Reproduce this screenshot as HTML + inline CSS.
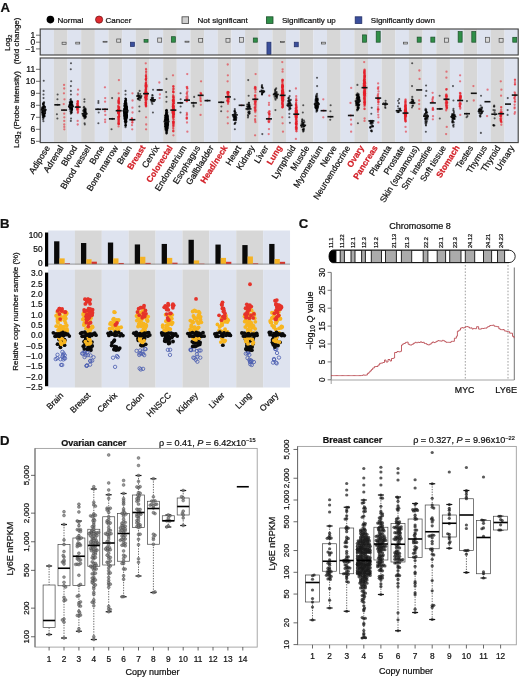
<!DOCTYPE html>
<html><head><meta charset="utf-8"><title>Figure</title>
<style>html,body{margin:0;padding:0;background:#fff;} svg{display:block;} text{font-family:'Liberation Sans', Arial, Helvetica, sans-serif;stroke:#111;stroke-width:0.22px;} text.r{stroke:#d32028;}</style>
</head><body>
<svg width="520" height="678" viewBox="0 0 520 678" fill="#111">
<rect x="40.2" y="29" width="13.71" height="26" fill="#dee3ef"/>
<rect x="53.86" y="29" width="13.71" height="26" fill="#d7d7d7"/>
<rect x="67.51" y="29" width="13.71" height="26" fill="#dee3ef"/>
<rect x="81.17" y="29" width="13.71" height="26" fill="#d7d7d7"/>
<rect x="94.83" y="29" width="13.71" height="26" fill="#dee3ef"/>
<rect x="108.49" y="29" width="13.71" height="26" fill="#d7d7d7"/>
<rect x="122.14" y="29" width="13.71" height="26" fill="#dee3ef"/>
<rect x="135.8" y="29" width="13.71" height="26" fill="#d7d7d7"/>
<rect x="149.46" y="29" width="13.71" height="26" fill="#dee3ef"/>
<rect x="163.11" y="29" width="13.71" height="26" fill="#d7d7d7"/>
<rect x="176.77" y="29" width="13.71" height="26" fill="#dee3ef"/>
<rect x="190.43" y="29" width="13.71" height="26" fill="#d7d7d7"/>
<rect x="204.09" y="29" width="13.71" height="26" fill="#dee3ef"/>
<rect x="217.74" y="29" width="13.71" height="26" fill="#d7d7d7"/>
<rect x="231.4" y="29" width="13.71" height="26" fill="#dee3ef"/>
<rect x="245.06" y="29" width="13.71" height="26" fill="#d7d7d7"/>
<rect x="258.71" y="29" width="13.71" height="26" fill="#dee3ef"/>
<rect x="272.37" y="29" width="13.71" height="26" fill="#d7d7d7"/>
<rect x="286.03" y="29" width="13.71" height="26" fill="#dee3ef"/>
<rect x="299.69" y="29" width="13.71" height="26" fill="#d7d7d7"/>
<rect x="313.34" y="29" width="13.71" height="26" fill="#dee3ef"/>
<rect x="327" y="29" width="13.71" height="26" fill="#d7d7d7"/>
<rect x="340.66" y="29" width="13.71" height="26" fill="#dee3ef"/>
<rect x="354.31" y="29" width="13.71" height="26" fill="#d7d7d7"/>
<rect x="367.97" y="29" width="13.71" height="26" fill="#dee3ef"/>
<rect x="381.63" y="29" width="13.71" height="26" fill="#d7d7d7"/>
<rect x="395.29" y="29" width="13.71" height="26" fill="#dee3ef"/>
<rect x="408.94" y="29" width="13.71" height="26" fill="#d7d7d7"/>
<rect x="422.6" y="29" width="13.71" height="26" fill="#dee3ef"/>
<rect x="436.26" y="29" width="13.71" height="26" fill="#d7d7d7"/>
<rect x="449.91" y="29" width="13.71" height="26" fill="#dee3ef"/>
<rect x="463.57" y="29" width="13.71" height="26" fill="#d7d7d7"/>
<rect x="477.23" y="29" width="13.71" height="26" fill="#dee3ef"/>
<rect x="490.89" y="29" width="13.71" height="26" fill="#d7d7d7"/>
<rect x="504.54" y="29" width="13.71" height="26" fill="#dee3ef"/>
<rect x="40.2" y="58" width="13.71" height="84.6" fill="#dee3ef"/>
<rect x="53.86" y="58" width="13.71" height="84.6" fill="#d7d7d7"/>
<rect x="67.51" y="58" width="13.71" height="84.6" fill="#dee3ef"/>
<rect x="81.17" y="58" width="13.71" height="84.6" fill="#d7d7d7"/>
<rect x="94.83" y="58" width="13.71" height="84.6" fill="#dee3ef"/>
<rect x="108.49" y="58" width="13.71" height="84.6" fill="#d7d7d7"/>
<rect x="122.14" y="58" width="13.71" height="84.6" fill="#dee3ef"/>
<rect x="135.8" y="58" width="13.71" height="84.6" fill="#d7d7d7"/>
<rect x="149.46" y="58" width="13.71" height="84.6" fill="#dee3ef"/>
<rect x="163.11" y="58" width="13.71" height="84.6" fill="#d7d7d7"/>
<rect x="176.77" y="58" width="13.71" height="84.6" fill="#dee3ef"/>
<rect x="190.43" y="58" width="13.71" height="84.6" fill="#d7d7d7"/>
<rect x="204.09" y="58" width="13.71" height="84.6" fill="#dee3ef"/>
<rect x="217.74" y="58" width="13.71" height="84.6" fill="#d7d7d7"/>
<rect x="231.4" y="58" width="13.71" height="84.6" fill="#dee3ef"/>
<rect x="245.06" y="58" width="13.71" height="84.6" fill="#d7d7d7"/>
<rect x="258.71" y="58" width="13.71" height="84.6" fill="#dee3ef"/>
<rect x="272.37" y="58" width="13.71" height="84.6" fill="#d7d7d7"/>
<rect x="286.03" y="58" width="13.71" height="84.6" fill="#dee3ef"/>
<rect x="299.69" y="58" width="13.71" height="84.6" fill="#d7d7d7"/>
<rect x="313.34" y="58" width="13.71" height="84.6" fill="#dee3ef"/>
<rect x="327" y="58" width="13.71" height="84.6" fill="#d7d7d7"/>
<rect x="340.66" y="58" width="13.71" height="84.6" fill="#dee3ef"/>
<rect x="354.31" y="58" width="13.71" height="84.6" fill="#d7d7d7"/>
<rect x="367.97" y="58" width="13.71" height="84.6" fill="#dee3ef"/>
<rect x="381.63" y="58" width="13.71" height="84.6" fill="#d7d7d7"/>
<rect x="395.29" y="58" width="13.71" height="84.6" fill="#dee3ef"/>
<rect x="408.94" y="58" width="13.71" height="84.6" fill="#d7d7d7"/>
<rect x="422.6" y="58" width="13.71" height="84.6" fill="#dee3ef"/>
<rect x="436.26" y="58" width="13.71" height="84.6" fill="#d7d7d7"/>
<rect x="449.91" y="58" width="13.71" height="84.6" fill="#dee3ef"/>
<rect x="463.57" y="58" width="13.71" height="84.6" fill="#d7d7d7"/>
<rect x="477.23" y="58" width="13.71" height="84.6" fill="#dee3ef"/>
<rect x="490.89" y="58" width="13.71" height="84.6" fill="#d7d7d7"/>
<rect x="504.54" y="58" width="13.71" height="84.6" fill="#dee3ef"/>
<rect x="62.09" y="42.2" width="4" height="2.1" fill="#d9d9d9" stroke="#4a4a4a" stroke-width="0.7"/>
<rect x="75.74" y="42.2" width="4" height="1.8" fill="#d9d9d9" stroke="#4a4a4a" stroke-width="0.7"/>
<rect x="103.06" y="41.3" width="4" height="0.9" fill="#d9d9d9" stroke="#4a4a4a" stroke-width="0.7"/>
<rect x="116.71" y="39" width="4" height="3.2" fill="#d9d9d9" stroke="#4a4a4a" stroke-width="0.7"/>
<rect x="130.37" y="42.2" width="4" height="4.3" fill="#3a4f9c" stroke="#232f66" stroke-width="0.7"/>
<rect x="144.03" y="39.5" width="4" height="2.7" fill="#2f8f48" stroke="#1b4f2a" stroke-width="0.7"/>
<rect x="157.69" y="38" width="4" height="4.2" fill="#d9d9d9" stroke="#4a4a4a" stroke-width="0.7"/>
<rect x="171.34" y="36.7" width="4" height="5.5" fill="#2f8f48" stroke="#1b4f2a" stroke-width="0.7"/>
<rect x="185" y="41.2" width="4" height="1" fill="#d9d9d9" stroke="#4a4a4a" stroke-width="0.7"/>
<rect x="198.66" y="38.6" width="4" height="3.6" fill="#d9d9d9" stroke="#4a4a4a" stroke-width="0.7"/>
<rect x="225.97" y="38.6" width="4" height="3.6" fill="#d9d9d9" stroke="#4a4a4a" stroke-width="0.7"/>
<rect x="239.63" y="37.6" width="4" height="4.6" fill="#d9d9d9" stroke="#4a4a4a" stroke-width="0.7"/>
<rect x="253.29" y="38" width="4" height="4.2" fill="#2f8f48" stroke="#1b4f2a" stroke-width="0.7"/>
<rect x="266.94" y="42.2" width="4" height="12.3" fill="#3a4f9c" stroke="#232f66" stroke-width="0.7"/>
<rect x="280.6" y="41.6" width="4" height="0.8" fill="#d9d9d9" stroke="#4a4a4a" stroke-width="0.7"/>
<rect x="294.26" y="42.2" width="4" height="4.6" fill="#3a4f9c" stroke="#232f66" stroke-width="0.7"/>
<rect x="321.57" y="42.2" width="4" height="1.8" fill="#d9d9d9" stroke="#4a4a4a" stroke-width="0.7"/>
<rect x="362.54" y="34.9" width="4" height="7.3" fill="#2f8f48" stroke="#1b4f2a" stroke-width="0.7"/>
<rect x="376.2" y="31.2" width="4" height="11" fill="#2f8f48" stroke="#1b4f2a" stroke-width="0.7"/>
<rect x="403.51" y="42.2" width="4" height="1.8" fill="#d9d9d9" stroke="#4a4a4a" stroke-width="0.7"/>
<rect x="417.17" y="37.1" width="4" height="5.1" fill="#2f8f48" stroke="#1b4f2a" stroke-width="0.7"/>
<rect x="430.83" y="37.1" width="4" height="5.1" fill="#2f8f48" stroke="#1b4f2a" stroke-width="0.7"/>
<rect x="444.49" y="38.1" width="4" height="4.1" fill="#d9d9d9" stroke="#4a4a4a" stroke-width="0.7"/>
<rect x="458.14" y="31.6" width="4" height="10.6" fill="#2f8f48" stroke="#1b4f2a" stroke-width="0.7"/>
<rect x="471.8" y="31.6" width="4" height="10.6" fill="#2f8f48" stroke="#1b4f2a" stroke-width="0.7"/>
<rect x="485.46" y="37.3" width="4" height="4.9" fill="#d9d9d9" stroke="#4a4a4a" stroke-width="0.7"/>
<rect x="499.11" y="38.5" width="4" height="3.7" fill="#d9d9d9" stroke="#4a4a4a" stroke-width="0.7"/>
<rect x="512.77" y="37.3" width="4" height="4.9" fill="#2f8f48" stroke="#1b4f2a" stroke-width="0.7"/>
<g fill="#000" fill-opacity="0.62">
<circle cx="43.74" cy="80.82" r="1.05"/>
<circle cx="43.51" cy="94.5" r="1.05"/>
<circle cx="43.61" cy="90.9" r="1.05"/>
<circle cx="43.44" cy="121.26" r="1.05"/>
<circle cx="43.53" cy="98.1" r="1.05"/>
<circle cx="45.23" cy="110.69" r="1.05"/>
<circle cx="44.65" cy="109.68" r="1.05"/>
<circle cx="43.21" cy="105.01" r="1.05"/>
<circle cx="44.94" cy="110.56" r="1.05"/>
<circle cx="42.65" cy="110.16" r="1.05"/>
<circle cx="43.28" cy="109.43" r="1.05"/>
<circle cx="44.66" cy="113.95" r="1.05"/>
<circle cx="44.11" cy="110.12" r="1.05"/>
<circle cx="42.32" cy="109.02" r="1.05"/>
<circle cx="45.03" cy="107.17" r="1.05"/>
<circle cx="42.93" cy="115.59" r="1.05"/>
<circle cx="42.84" cy="112.32" r="1.05"/>
<circle cx="44.29" cy="115.67" r="1.05"/>
<circle cx="43.15" cy="106.95" r="1.05"/>
<circle cx="42.99" cy="108.36" r="1.05"/>
<circle cx="42.79" cy="116.96" r="1.05"/>
<circle cx="42.98" cy="103.31" r="1.05"/>
<circle cx="43.78" cy="103.96" r="1.05"/>
<circle cx="42.8" cy="108.78" r="1.05"/>
<circle cx="43.96" cy="109.16" r="1.05"/>
<circle cx="43.27" cy="114.39" r="1.05"/>
<circle cx="43.55" cy="118.06" r="1.05"/>
<circle cx="45.18" cy="109.97" r="1.05"/>
<circle cx="43.59" cy="116.43" r="1.05"/>
<circle cx="43.85" cy="113.86" r="1.05"/>
<circle cx="44.77" cy="113.11" r="1.05"/>
<circle cx="43.05" cy="117.38" r="1.05"/>
<circle cx="42.45" cy="110.58" r="1.05"/>
<circle cx="45.02" cy="110.81" r="1.05"/>
<circle cx="44.47" cy="106.48" r="1.05"/>
<circle cx="42.78" cy="110.05" r="1.05"/>
<circle cx="42.62" cy="108.92" r="1.05"/>
<circle cx="44.44" cy="110.23" r="1.05"/>
<circle cx="45.05" cy="108.69" r="1.05"/>
<circle cx="42.6" cy="110.65" r="1.05"/>
<circle cx="45.07" cy="112.64" r="1.05"/>
<circle cx="44.11" cy="102.28" r="1.05"/>
<circle cx="43.77" cy="102.49" r="1.05"/>
<circle cx="43.42" cy="106.51" r="1.05"/>
<circle cx="42.39" cy="108.2" r="1.05"/>
<circle cx="42.12" cy="112.18" r="1.05"/>
<circle cx="45.05" cy="113.28" r="1.05"/>
<circle cx="42.78" cy="112.5" r="1.05"/>
<circle cx="44.09" cy="116.15" r="1.05"/>
<circle cx="42.91" cy="107.52" r="1.05"/>
<circle cx="44.72" cy="111.23" r="1.05"/>
<circle cx="43.88" cy="106.41" r="1.05"/>
<circle cx="42.93" cy="111.38" r="1.05"/>
<circle cx="43.03" cy="104.16" r="1.05"/>
<circle cx="44.2" cy="106.4" r="1.05"/>
<circle cx="43.13" cy="119.39" r="1.05"/>
<circle cx="42.81" cy="113.57" r="1.05"/>
<circle cx="43.76" cy="105.3" r="1.05"/>
<circle cx="44.83" cy="110.52" r="1.05"/>
<circle cx="43.81" cy="103.39" r="1.05"/>
<circle cx="42.89" cy="111.26" r="1.05"/>
<circle cx="44.58" cy="116.08" r="1.05"/>
<circle cx="42.66" cy="109.02" r="1.05"/>
<circle cx="42.22" cy="107.36" r="1.05"/>
<circle cx="42.89" cy="112.75" r="1.05"/>
<circle cx="43.5" cy="115.75" r="1.05"/>
<circle cx="42.18" cy="111.98" r="1.05"/>
<circle cx="43.05" cy="103.98" r="1.05"/>
<circle cx="43.24" cy="107.62" r="1.05"/>
<circle cx="43.82" cy="115.1" r="1.05"/>
<circle cx="42.48" cy="113.05" r="1.05"/>
<circle cx="43.29" cy="115.44" r="1.05"/>
<circle cx="44.47" cy="116.42" r="1.05"/>
<circle cx="44.99" cy="107.12" r="1.05"/>
<circle cx="44.08" cy="114.06" r="1.05"/>
<circle cx="44.27" cy="109.69" r="1.05"/>
<circle cx="43.92" cy="110.74" r="1.05"/>
<circle cx="42.57" cy="113.85" r="1.05"/>
<circle cx="42.21" cy="107.93" r="1.05"/>
<circle cx="42.34" cy="114.85" r="1.05"/>
<circle cx="57.61" cy="94.5" r="1.05"/>
<circle cx="57.45" cy="99.3" r="1.05"/>
<circle cx="57.66" cy="104.82" r="1.05"/>
<circle cx="56.9" cy="114.3" r="1.05"/>
<circle cx="57.39" cy="118.5" r="1.05"/>
<circle cx="71" cy="63.3" r="1.05"/>
<circle cx="70.79" cy="69.3" r="1.05"/>
<circle cx="71.18" cy="81.3" r="1.05"/>
<circle cx="70.84" cy="86.1" r="1.05"/>
<circle cx="70.86" cy="90.9" r="1.05"/>
<circle cx="70.93" cy="94.5" r="1.05"/>
<circle cx="70.83" cy="120.9" r="1.05"/>
<circle cx="71.05" cy="118.5" r="1.05"/>
<circle cx="70.11" cy="107.85" r="1.05"/>
<circle cx="69.75" cy="104.77" r="1.05"/>
<circle cx="69.83" cy="101.84" r="1.05"/>
<circle cx="71.29" cy="102.36" r="1.05"/>
<circle cx="70.77" cy="107.23" r="1.05"/>
<circle cx="71.34" cy="103.54" r="1.05"/>
<circle cx="71.36" cy="102.49" r="1.05"/>
<circle cx="71.99" cy="105.86" r="1.05"/>
<circle cx="72.49" cy="105.37" r="1.05"/>
<circle cx="71.54" cy="107.55" r="1.05"/>
<circle cx="69.92" cy="105.77" r="1.05"/>
<circle cx="70.86" cy="105.53" r="1.05"/>
<circle cx="70.34" cy="111.54" r="1.05"/>
<circle cx="69.29" cy="105.23" r="1.05"/>
<circle cx="70.91" cy="99.07" r="1.05"/>
<circle cx="71.5" cy="102.22" r="1.05"/>
<circle cx="69.9" cy="104.29" r="1.05"/>
<circle cx="70.21" cy="107.5" r="1.05"/>
<circle cx="70.45" cy="104.21" r="1.05"/>
<circle cx="71.61" cy="105.79" r="1.05"/>
<circle cx="71.01" cy="107.02" r="1.05"/>
<circle cx="71.27" cy="102.88" r="1.05"/>
<circle cx="71.43" cy="111.46" r="1.05"/>
<circle cx="70.6" cy="104.04" r="1.05"/>
<circle cx="71.35" cy="112.85" r="1.05"/>
<circle cx="72.32" cy="105.6" r="1.05"/>
<circle cx="69.56" cy="106.66" r="1.05"/>
<circle cx="72.14" cy="109.2" r="1.05"/>
<circle cx="71.68" cy="104.62" r="1.05"/>
<circle cx="69.69" cy="106.52" r="1.05"/>
<circle cx="70.79" cy="105.48" r="1.05"/>
<circle cx="71.23" cy="101.45" r="1.05"/>
<circle cx="72.12" cy="108.89" r="1.05"/>
<circle cx="70.8" cy="113.64" r="1.05"/>
<circle cx="71.15" cy="108.38" r="1.05"/>
<circle cx="72.21" cy="104.84" r="1.05"/>
<circle cx="71.72" cy="109.55" r="1.05"/>
<circle cx="72.04" cy="110.01" r="1.05"/>
<circle cx="70.86" cy="101.75" r="1.05"/>
<circle cx="71.45" cy="105.03" r="1.05"/>
<circle cx="69.96" cy="107" r="1.05"/>
<circle cx="71.5" cy="102.01" r="1.05"/>
<circle cx="71.93" cy="108.11" r="1.05"/>
<circle cx="71.42" cy="104.97" r="1.05"/>
<circle cx="71.51" cy="109.61" r="1.05"/>
<circle cx="70" cy="107.1" r="1.05"/>
<circle cx="72.14" cy="103.33" r="1.05"/>
<circle cx="72.07" cy="101.58" r="1.05"/>
<circle cx="72.18" cy="102.21" r="1.05"/>
<circle cx="71.06" cy="107.53" r="1.05"/>
<circle cx="71.93" cy="105.77" r="1.05"/>
<circle cx="70.39" cy="108.22" r="1.05"/>
<circle cx="71.87" cy="110.52" r="1.05"/>
<circle cx="72.14" cy="106.53" r="1.05"/>
<circle cx="70.51" cy="102.89" r="1.05"/>
<circle cx="69.78" cy="102.72" r="1.05"/>
<circle cx="70.75" cy="104.48" r="1.05"/>
<circle cx="71.04" cy="100.76" r="1.05"/>
<circle cx="71.73" cy="108.65" r="1.05"/>
<circle cx="70.91" cy="110.01" r="1.05"/>
<circle cx="69.37" cy="106.93" r="1.05"/>
<circle cx="71.85" cy="108.67" r="1.05"/>
<circle cx="69.77" cy="109.4" r="1.05"/>
<circle cx="71.93" cy="107.26" r="1.05"/>
<circle cx="69.84" cy="105.37" r="1.05"/>
<circle cx="70.39" cy="106.55" r="1.05"/>
<circle cx="71.82" cy="108.23" r="1.05"/>
<circle cx="69.92" cy="102.86" r="1.05"/>
<circle cx="70.4" cy="99.69" r="1.05"/>
<circle cx="71" cy="106.91" r="1.05"/>
<circle cx="71.35" cy="111.65" r="1.05"/>
<circle cx="71.43" cy="112.79" r="1.05"/>
<circle cx="71.44" cy="102.34" r="1.05"/>
<circle cx="71.63" cy="112.48" r="1.05"/>
<circle cx="70.92" cy="104.51" r="1.05"/>
<circle cx="84.45" cy="99.3" r="1.05"/>
<circle cx="84.4" cy="101.7" r="1.05"/>
<circle cx="84.81" cy="124.5" r="1.05"/>
<circle cx="84.58" cy="123.3" r="1.05"/>
<circle cx="85.35" cy="110.19" r="1.05"/>
<circle cx="84.04" cy="115.41" r="1.05"/>
<circle cx="84.5" cy="111.46" r="1.05"/>
<circle cx="84.65" cy="110.74" r="1.05"/>
<circle cx="84.42" cy="109.54" r="1.05"/>
<circle cx="84.94" cy="114.7" r="1.05"/>
<circle cx="82.98" cy="114.71" r="1.05"/>
<circle cx="85.1" cy="109.21" r="1.05"/>
<circle cx="85.7" cy="115.54" r="1.05"/>
<circle cx="84.09" cy="106.9" r="1.05"/>
<circle cx="84.48" cy="109.77" r="1.05"/>
<circle cx="85.3" cy="116.44" r="1.05"/>
<circle cx="84.29" cy="115.35" r="1.05"/>
<circle cx="83.63" cy="111.6" r="1.05"/>
<circle cx="83.51" cy="115.17" r="1.05"/>
<circle cx="84.63" cy="116.93" r="1.05"/>
<circle cx="83.18" cy="110.49" r="1.05"/>
<circle cx="85.94" cy="113.92" r="1.05"/>
<circle cx="85.52" cy="110.97" r="1.05"/>
<circle cx="85.2" cy="116.54" r="1.05"/>
<circle cx="85.82" cy="114.05" r="1.05"/>
<circle cx="85.02" cy="111.97" r="1.05"/>
<circle cx="84.4" cy="118.51" r="1.05"/>
<circle cx="84.91" cy="115.71" r="1.05"/>
<circle cx="84.61" cy="111.99" r="1.05"/>
<circle cx="85.84" cy="109.4" r="1.05"/>
<circle cx="85.25" cy="108.23" r="1.05"/>
<circle cx="83.91" cy="116.68" r="1.05"/>
<circle cx="86" cy="113.35" r="1.05"/>
<circle cx="85.37" cy="111.29" r="1.05"/>
<circle cx="85.55" cy="113.37" r="1.05"/>
<circle cx="85.63" cy="111.97" r="1.05"/>
<circle cx="84.31" cy="115.83" r="1.05"/>
<circle cx="85.63" cy="117.34" r="1.05"/>
<circle cx="85.67" cy="116.8" r="1.05"/>
<circle cx="85.05" cy="117.98" r="1.05"/>
<circle cx="85.5" cy="113.03" r="1.05"/>
<circle cx="85.5" cy="113.29" r="1.05"/>
<circle cx="84.28" cy="112.9" r="1.05"/>
<circle cx="85.27" cy="116.29" r="1.05"/>
<circle cx="83.26" cy="115.88" r="1.05"/>
<circle cx="84.1" cy="115.68" r="1.05"/>
<circle cx="84.51" cy="110.4" r="1.05"/>
<circle cx="83.71" cy="107.46" r="1.05"/>
<circle cx="84.24" cy="109.14" r="1.05"/>
<circle cx="98.4" cy="101.1" r="1.05"/>
<circle cx="98.39" cy="102.9" r="1.05"/>
<circle cx="97.99" cy="109.26" r="1.05"/>
<circle cx="98.67" cy="112.5" r="1.05"/>
<circle cx="98.39" cy="123.3" r="1.05"/>
<circle cx="112.12" cy="98.1" r="1.05"/>
<circle cx="112.3" cy="118.86" r="1.05"/>
<circle cx="111.53" cy="129.3" r="1.05"/>
<circle cx="125.52" cy="90.9" r="1.05"/>
<circle cx="125.54" cy="94.5" r="1.05"/>
<circle cx="125.6" cy="106.11" r="1.05"/>
<circle cx="126.47" cy="115.24" r="1.05"/>
<circle cx="126.6" cy="114.97" r="1.05"/>
<circle cx="125.94" cy="113.37" r="1.05"/>
<circle cx="125" cy="102.2" r="1.05"/>
<circle cx="126.12" cy="103.63" r="1.05"/>
<circle cx="126.74" cy="116.49" r="1.05"/>
<circle cx="125.73" cy="114.09" r="1.05"/>
<circle cx="125.09" cy="114.01" r="1.05"/>
<circle cx="125.57" cy="114.06" r="1.05"/>
<circle cx="124.37" cy="113.45" r="1.05"/>
<circle cx="126.28" cy="113.59" r="1.05"/>
<circle cx="126.83" cy="117.81" r="1.05"/>
<circle cx="125.63" cy="110.6" r="1.05"/>
<circle cx="126.17" cy="106.25" r="1.05"/>
<circle cx="126.71" cy="110.97" r="1.05"/>
<circle cx="124.8" cy="105.29" r="1.05"/>
<circle cx="127.07" cy="110.62" r="1.05"/>
<circle cx="125.89" cy="118.31" r="1.05"/>
<circle cx="124.68" cy="107.09" r="1.05"/>
<circle cx="124.66" cy="104.06" r="1.05"/>
<circle cx="124.79" cy="115.74" r="1.05"/>
<circle cx="125.65" cy="124.63" r="1.05"/>
<circle cx="126.24" cy="111.37" r="1.05"/>
<circle cx="124.99" cy="110.91" r="1.05"/>
<circle cx="127.02" cy="110.55" r="1.05"/>
<circle cx="125.39" cy="100.7" r="1.05"/>
<circle cx="125.45" cy="109.15" r="1.05"/>
<circle cx="124.54" cy="106.08" r="1.05"/>
<circle cx="126.28" cy="122.2" r="1.05"/>
<circle cx="124.34" cy="110.87" r="1.05"/>
<circle cx="126.71" cy="106.45" r="1.05"/>
<circle cx="125.65" cy="121.35" r="1.05"/>
<circle cx="125.67" cy="121.44" r="1.05"/>
<circle cx="125.75" cy="107.54" r="1.05"/>
<circle cx="125.09" cy="103.49" r="1.05"/>
<circle cx="126.27" cy="121.32" r="1.05"/>
<circle cx="127.19" cy="109.45" r="1.05"/>
<circle cx="126.28" cy="119.26" r="1.05"/>
<circle cx="125.88" cy="107.36" r="1.05"/>
<circle cx="124.34" cy="109.19" r="1.05"/>
<circle cx="126.51" cy="116.56" r="1.05"/>
<circle cx="124.99" cy="117.16" r="1.05"/>
<circle cx="126.73" cy="106.95" r="1.05"/>
<circle cx="124.69" cy="111.27" r="1.05"/>
<circle cx="125.79" cy="106.97" r="1.05"/>
<circle cx="126.68" cy="113.47" r="1.05"/>
<circle cx="124.56" cy="114.56" r="1.05"/>
<circle cx="125.63" cy="100.6" r="1.05"/>
<circle cx="124.21" cy="108.78" r="1.05"/>
<circle cx="123.98" cy="111.73" r="1.05"/>
<circle cx="124.49" cy="111.02" r="1.05"/>
<circle cx="127.08" cy="107.86" r="1.05"/>
<circle cx="126.95" cy="108.11" r="1.05"/>
<circle cx="125.87" cy="102.95" r="1.05"/>
<circle cx="124.93" cy="113.17" r="1.05"/>
<circle cx="126.02" cy="105.55" r="1.05"/>
<circle cx="126.34" cy="108.88" r="1.05"/>
<circle cx="125.29" cy="104.84" r="1.05"/>
<circle cx="125.82" cy="106.04" r="1.05"/>
<circle cx="126.35" cy="105.36" r="1.05"/>
<circle cx="124.54" cy="103.82" r="1.05"/>
<circle cx="125.15" cy="101.16" r="1.05"/>
<circle cx="125.47" cy="109.35" r="1.05"/>
<circle cx="124.36" cy="111.24" r="1.05"/>
<circle cx="125.22" cy="108.07" r="1.05"/>
<circle cx="125.76" cy="106.13" r="1.05"/>
<circle cx="124.47" cy="112.97" r="1.05"/>
<circle cx="125.64" cy="112.99" r="1.05"/>
<circle cx="125.04" cy="119.19" r="1.05"/>
<circle cx="125.78" cy="107.46" r="1.05"/>
<circle cx="125.42" cy="98.87" r="1.05"/>
<circle cx="126.04" cy="113.82" r="1.05"/>
<circle cx="124.46" cy="118.56" r="1.05"/>
<circle cx="126.02" cy="117.57" r="1.05"/>
<circle cx="124.37" cy="112.91" r="1.05"/>
<circle cx="126.99" cy="115.51" r="1.05"/>
<circle cx="125.7" cy="100.51" r="1.05"/>
<circle cx="125.53" cy="122.43" r="1.05"/>
<circle cx="125.29" cy="115.16" r="1.05"/>
<circle cx="125.82" cy="120.21" r="1.05"/>
<circle cx="126.19" cy="109.21" r="1.05"/>
<circle cx="126.31" cy="106.72" r="1.05"/>
<circle cx="126.2" cy="118.23" r="1.05"/>
<circle cx="125.55" cy="122.28" r="1.05"/>
<circle cx="127.25" cy="112.32" r="1.05"/>
<circle cx="126.71" cy="110.28" r="1.05"/>
<circle cx="126.26" cy="103.15" r="1.05"/>
<circle cx="125.47" cy="123.66" r="1.05"/>
<circle cx="125.44" cy="120.42" r="1.05"/>
<circle cx="125.74" cy="118.09" r="1.05"/>
<circle cx="126.68" cy="117.24" r="1.05"/>
<circle cx="125.64" cy="116.8" r="1.05"/>
<circle cx="125.65" cy="107.93" r="1.05"/>
<circle cx="125.34" cy="110.11" r="1.05"/>
<circle cx="126.69" cy="117.07" r="1.05"/>
<circle cx="125.12" cy="118.08" r="1.05"/>
<circle cx="124.22" cy="115.75" r="1.05"/>
<circle cx="126.12" cy="118.42" r="1.05"/>
<circle cx="126.76" cy="107.12" r="1.05"/>
<circle cx="126.3" cy="115.09" r="1.05"/>
<circle cx="125.9" cy="110.85" r="1.05"/>
<circle cx="126.24" cy="105.77" r="1.05"/>
<circle cx="124.91" cy="111.97" r="1.05"/>
<circle cx="125.85" cy="116.21" r="1.05"/>
<circle cx="124.65" cy="103.86" r="1.05"/>
<circle cx="124.86" cy="102.98" r="1.05"/>
<circle cx="125.4" cy="114.47" r="1.05"/>
<circle cx="125.58" cy="110.86" r="1.05"/>
<circle cx="125.43" cy="101.2" r="1.05"/>
<circle cx="124.05" cy="111.91" r="1.05"/>
<circle cx="126.11" cy="117.15" r="1.05"/>
<circle cx="125.61" cy="122.91" r="1.05"/>
<circle cx="125.17" cy="101.65" r="1.05"/>
<circle cx="125.04" cy="106.15" r="1.05"/>
<circle cx="125.22" cy="113.64" r="1.05"/>
<circle cx="124.68" cy="111.18" r="1.05"/>
<circle cx="124.11" cy="111.37" r="1.05"/>
<circle cx="126.81" cy="115.89" r="1.05"/>
<circle cx="125.99" cy="98.95" r="1.05"/>
<circle cx="126.11" cy="109.04" r="1.05"/>
<circle cx="126.61" cy="116.74" r="1.05"/>
<circle cx="125.51" cy="125.67" r="1.05"/>
<circle cx="126.61" cy="112.08" r="1.05"/>
<circle cx="124.65" cy="113.9" r="1.05"/>
<circle cx="126.26" cy="106.25" r="1.05"/>
<circle cx="125.78" cy="108.01" r="1.05"/>
<circle cx="126.91" cy="109.92" r="1.05"/>
<circle cx="124.64" cy="118.86" r="1.05"/>
<circle cx="126.25" cy="118.87" r="1.05"/>
<circle cx="124.37" cy="114.88" r="1.05"/>
<circle cx="125.68" cy="116.23" r="1.05"/>
<circle cx="126.61" cy="104.4" r="1.05"/>
<circle cx="123.88" cy="111.36" r="1.05"/>
<circle cx="124.73" cy="109.4" r="1.05"/>
<circle cx="125.4" cy="98.62" r="1.05"/>
<circle cx="125.05" cy="116.07" r="1.05"/>
<circle cx="124.09" cy="111.06" r="1.05"/>
<circle cx="126.47" cy="119.06" r="1.05"/>
<circle cx="126.49" cy="106.84" r="1.05"/>
<circle cx="125.52" cy="127.24" r="1.05"/>
<circle cx="125.19" cy="105.67" r="1.05"/>
<circle cx="125.78" cy="105.04" r="1.05"/>
<circle cx="124.38" cy="105.65" r="1.05"/>
<circle cx="124.78" cy="121.41" r="1.05"/>
<circle cx="126.76" cy="115.99" r="1.05"/>
<circle cx="124.97" cy="107.95" r="1.05"/>
<circle cx="125.57" cy="120.84" r="1.05"/>
<circle cx="127.05" cy="111.96" r="1.05"/>
<circle cx="127.19" cy="112.15" r="1.05"/>
<circle cx="125.53" cy="101.28" r="1.05"/>
<circle cx="124.59" cy="110.24" r="1.05"/>
<circle cx="125.08" cy="104.74" r="1.05"/>
<circle cx="126.89" cy="115.26" r="1.05"/>
<circle cx="126.69" cy="106.42" r="1.05"/>
<circle cx="124.55" cy="113.05" r="1.05"/>
<circle cx="126.2" cy="102.89" r="1.05"/>
<circle cx="125.31" cy="121.07" r="1.05"/>
<circle cx="125.5" cy="105.55" r="1.05"/>
<circle cx="124.69" cy="117.46" r="1.05"/>
<circle cx="126.86" cy="110.92" r="1.05"/>
<circle cx="127.25" cy="111.21" r="1.05"/>
<circle cx="124.88" cy="118.85" r="1.05"/>
<circle cx="125.91" cy="105.4" r="1.05"/>
<circle cx="124.6" cy="115.1" r="1.05"/>
<circle cx="126.77" cy="115.11" r="1.05"/>
<circle cx="124.84" cy="121.68" r="1.05"/>
<circle cx="124.34" cy="115.22" r="1.05"/>
<circle cx="126.34" cy="112.17" r="1.05"/>
<circle cx="124.99" cy="107.97" r="1.05"/>
<circle cx="126.88" cy="114.13" r="1.05"/>
<circle cx="126.75" cy="108.51" r="1.05"/>
<circle cx="125.98" cy="120.52" r="1.05"/>
<circle cx="124.35" cy="113.47" r="1.05"/>
<circle cx="126.24" cy="112.27" r="1.05"/>
<circle cx="126.13" cy="100.67" r="1.05"/>
<circle cx="125.43" cy="105.46" r="1.05"/>
<circle cx="124.2" cy="109.11" r="1.05"/>
<circle cx="125.35" cy="125.51" r="1.05"/>
<circle cx="124.93" cy="113.79" r="1.05"/>
<circle cx="126.23" cy="108.07" r="1.05"/>
<circle cx="124.71" cy="116.75" r="1.05"/>
<circle cx="124.5" cy="110.6" r="1.05"/>
<circle cx="124.67" cy="112.33" r="1.05"/>
<circle cx="125.7" cy="125.72" r="1.05"/>
<circle cx="125.82" cy="98.8" r="1.05"/>
<circle cx="125.22" cy="106.19" r="1.05"/>
<circle cx="126" cy="117.51" r="1.05"/>
<circle cx="126.85" cy="109.76" r="1.05"/>
<circle cx="125.85" cy="115.54" r="1.05"/>
<circle cx="124.67" cy="113.81" r="1.05"/>
<circle cx="124.9" cy="110.98" r="1.05"/>
<circle cx="126.9" cy="115.38" r="1.05"/>
<circle cx="126.11" cy="114.57" r="1.05"/>
<circle cx="124.83" cy="113.51" r="1.05"/>
<circle cx="126.02" cy="108.88" r="1.05"/>
<circle cx="124.37" cy="116.3" r="1.05"/>
<circle cx="126.84" cy="117.68" r="1.05"/>
<circle cx="125.39" cy="107.65" r="1.05"/>
<circle cx="125.66" cy="114.73" r="1.05"/>
<circle cx="125.62" cy="101.76" r="1.05"/>
<circle cx="124.04" cy="110.62" r="1.05"/>
<circle cx="125.88" cy="107.81" r="1.05"/>
<circle cx="124.88" cy="114.68" r="1.05"/>
<circle cx="124.92" cy="105.53" r="1.05"/>
<circle cx="126.11" cy="121.02" r="1.05"/>
<circle cx="124.66" cy="119.36" r="1.05"/>
<circle cx="125.18" cy="120.94" r="1.05"/>
<circle cx="126.39" cy="108.68" r="1.05"/>
<circle cx="124.78" cy="108.11" r="1.05"/>
<circle cx="125.02" cy="118.22" r="1.05"/>
<circle cx="125.73" cy="113.32" r="1.05"/>
<circle cx="124.78" cy="105.28" r="1.05"/>
<circle cx="126.9" cy="110.14" r="1.05"/>
<circle cx="126.43" cy="121.11" r="1.05"/>
<circle cx="124.28" cy="117.01" r="1.05"/>
<circle cx="125.48" cy="118.87" r="1.05"/>
<circle cx="126.09" cy="119.89" r="1.05"/>
<circle cx="125.18" cy="113.24" r="1.05"/>
<circle cx="126.25" cy="121.82" r="1.05"/>
<circle cx="125.57" cy="102.75" r="1.05"/>
<circle cx="124.49" cy="112.87" r="1.05"/>
<circle cx="125.76" cy="111.44" r="1.05"/>
<circle cx="126.05" cy="109.22" r="1.05"/>
<circle cx="125.16" cy="106.92" r="1.05"/>
<circle cx="125.99" cy="105.68" r="1.05"/>
<circle cx="126.51" cy="113.63" r="1.05"/>
<circle cx="125.63" cy="114.69" r="1.05"/>
<circle cx="125.59" cy="113.14" r="1.05"/>
<circle cx="125.87" cy="125.21" r="1.05"/>
<circle cx="126.19" cy="113.35" r="1.05"/>
<circle cx="125.64" cy="108.27" r="1.05"/>
<circle cx="126.05" cy="99.69" r="1.05"/>
<circle cx="124.65" cy="106.42" r="1.05"/>
<circle cx="126.48" cy="109" r="1.05"/>
<circle cx="124.46" cy="109.88" r="1.05"/>
<circle cx="125.67" cy="124.93" r="1.05"/>
<circle cx="124.72" cy="114.69" r="1.05"/>
<circle cx="125.38" cy="114.47" r="1.05"/>
<circle cx="126.46" cy="109.16" r="1.05"/>
<circle cx="139.38" cy="111.3" r="1.05"/>
<circle cx="139.41" cy="106.5" r="1.05"/>
<circle cx="139.61" cy="90.9" r="1.05"/>
<circle cx="138.2" cy="93.17" r="1.05"/>
<circle cx="138.93" cy="95.8" r="1.05"/>
<circle cx="138.78" cy="95.95" r="1.05"/>
<circle cx="138.43" cy="94.31" r="1.05"/>
<circle cx="140.79" cy="97.89" r="1.05"/>
<circle cx="137.81" cy="98.72" r="1.05"/>
<circle cx="139.19" cy="97.35" r="1.05"/>
<circle cx="139.89" cy="100.09" r="1.05"/>
<circle cx="140.88" cy="97.32" r="1.05"/>
<circle cx="138.08" cy="95.49" r="1.05"/>
<circle cx="139.08" cy="96.04" r="1.05"/>
<circle cx="140.05" cy="97.68" r="1.05"/>
<circle cx="137.72" cy="95.69" r="1.05"/>
<circle cx="138.49" cy="99.38" r="1.05"/>
<circle cx="140.29" cy="94.06" r="1.05"/>
<circle cx="138.09" cy="98.47" r="1.05"/>
<circle cx="138.87" cy="97.76" r="1.05"/>
<circle cx="138.59" cy="98.58" r="1.05"/>
<circle cx="153.04" cy="89.7" r="1.05"/>
<circle cx="152.92" cy="112.5" r="1.05"/>
<circle cx="153.85" cy="101.17" r="1.05"/>
<circle cx="151.75" cy="98.41" r="1.05"/>
<circle cx="152.28" cy="95.1" r="1.05"/>
<circle cx="151.83" cy="102.62" r="1.05"/>
<circle cx="154.32" cy="100.86" r="1.05"/>
<circle cx="152.39" cy="104.04" r="1.05"/>
<circle cx="152.85" cy="99.61" r="1.05"/>
<circle cx="151.59" cy="99.93" r="1.05"/>
<circle cx="152.3" cy="100.58" r="1.05"/>
<circle cx="151.32" cy="101.01" r="1.05"/>
<circle cx="153.09" cy="97.87" r="1.05"/>
<circle cx="151.84" cy="97.53" r="1.05"/>
<circle cx="153.29" cy="101.19" r="1.05"/>
<circle cx="152.13" cy="100.47" r="1.05"/>
<circle cx="151.97" cy="99.17" r="1.05"/>
<circle cx="152.83" cy="98.16" r="1.05"/>
<circle cx="152.61" cy="95.54" r="1.05"/>
<circle cx="152.08" cy="100.48" r="1.05"/>
<circle cx="166.49" cy="78.9" r="1.05"/>
<circle cx="166.16" cy="92.1" r="1.05"/>
<circle cx="166.52" cy="96.9" r="1.05"/>
<circle cx="166.4" cy="101.7" r="1.05"/>
<circle cx="166.78" cy="129.95" r="1.05"/>
<circle cx="165.96" cy="127.15" r="1.05"/>
<circle cx="166.89" cy="122.03" r="1.05"/>
<circle cx="166.74" cy="109.87" r="1.05"/>
<circle cx="165.67" cy="126.72" r="1.05"/>
<circle cx="165.6" cy="115.55" r="1.05"/>
<circle cx="167.2" cy="122.02" r="1.05"/>
<circle cx="166.43" cy="123.01" r="1.05"/>
<circle cx="165.48" cy="116.91" r="1.05"/>
<circle cx="165.27" cy="123.29" r="1.05"/>
<circle cx="167.25" cy="130.72" r="1.05"/>
<circle cx="166.92" cy="121.13" r="1.05"/>
<circle cx="166.07" cy="119.58" r="1.05"/>
<circle cx="165.53" cy="120.1" r="1.05"/>
<circle cx="168.04" cy="125.25" r="1.05"/>
<circle cx="166.91" cy="113.41" r="1.05"/>
<circle cx="167.15" cy="115.61" r="1.05"/>
<circle cx="166.39" cy="110.28" r="1.05"/>
<circle cx="165.9" cy="122.59" r="1.05"/>
<circle cx="166.29" cy="116.34" r="1.05"/>
<circle cx="165.43" cy="118.46" r="1.05"/>
<circle cx="166.88" cy="127.3" r="1.05"/>
<circle cx="166.45" cy="132.18" r="1.05"/>
<circle cx="167.35" cy="127.46" r="1.05"/>
<circle cx="166.34" cy="128.72" r="1.05"/>
<circle cx="166.47" cy="130.08" r="1.05"/>
<circle cx="166.56" cy="123.86" r="1.05"/>
<circle cx="167.9" cy="117.95" r="1.05"/>
<circle cx="166.06" cy="124.67" r="1.05"/>
<circle cx="167.24" cy="121.61" r="1.05"/>
<circle cx="166.3" cy="133.35" r="1.05"/>
<circle cx="166.76" cy="126.55" r="1.05"/>
<circle cx="166.17" cy="112.58" r="1.05"/>
<circle cx="166.88" cy="133.3" r="1.05"/>
<circle cx="165.82" cy="121.44" r="1.05"/>
<circle cx="167.55" cy="116.85" r="1.05"/>
<circle cx="167.06" cy="117.21" r="1.05"/>
<circle cx="166.4" cy="118.28" r="1.05"/>
<circle cx="167.98" cy="123.24" r="1.05"/>
<circle cx="166.22" cy="116.99" r="1.05"/>
<circle cx="167.22" cy="116.47" r="1.05"/>
<circle cx="166.85" cy="117.69" r="1.05"/>
<circle cx="166.48" cy="111.06" r="1.05"/>
<circle cx="165.65" cy="129.24" r="1.05"/>
<circle cx="166.4" cy="112.96" r="1.05"/>
<circle cx="165.82" cy="123.19" r="1.05"/>
<circle cx="166.35" cy="118.8" r="1.05"/>
<circle cx="167.88" cy="125.75" r="1.05"/>
<circle cx="166.08" cy="114.38" r="1.05"/>
<circle cx="166.77" cy="132.37" r="1.05"/>
<circle cx="167.13" cy="120.76" r="1.05"/>
<circle cx="165.82" cy="126.2" r="1.05"/>
<circle cx="166.25" cy="123.4" r="1.05"/>
<circle cx="165.34" cy="123.7" r="1.05"/>
<circle cx="167.85" cy="119.58" r="1.05"/>
<circle cx="165.83" cy="116.83" r="1.05"/>
<circle cx="166.28" cy="123.77" r="1.05"/>
<circle cx="166.02" cy="119.87" r="1.05"/>
<circle cx="167.58" cy="123.94" r="1.05"/>
<circle cx="167.61" cy="125.21" r="1.05"/>
<circle cx="166.75" cy="114.52" r="1.05"/>
<circle cx="166.69" cy="124.48" r="1.05"/>
<circle cx="165.75" cy="129.44" r="1.05"/>
<circle cx="167.81" cy="124.26" r="1.05"/>
<circle cx="165.26" cy="118.17" r="1.05"/>
<circle cx="166.17" cy="126.53" r="1.05"/>
<circle cx="166.15" cy="118.14" r="1.05"/>
<circle cx="167.3" cy="121.19" r="1.05"/>
<circle cx="167.09" cy="119.21" r="1.05"/>
<circle cx="166.14" cy="127.26" r="1.05"/>
<circle cx="167.37" cy="129.09" r="1.05"/>
<circle cx="167.61" cy="128.08" r="1.05"/>
<circle cx="165" cy="124" r="1.05"/>
<circle cx="166.99" cy="122.77" r="1.05"/>
<circle cx="166.52" cy="133.45" r="1.05"/>
<circle cx="166.07" cy="121.77" r="1.05"/>
<circle cx="166.43" cy="123.18" r="1.05"/>
<circle cx="165.96" cy="124.48" r="1.05"/>
<circle cx="167.12" cy="121.31" r="1.05"/>
<circle cx="166.73" cy="112.88" r="1.05"/>
<circle cx="167.83" cy="126.66" r="1.05"/>
<circle cx="167.71" cy="115.21" r="1.05"/>
<circle cx="168.1" cy="124.49" r="1.05"/>
<circle cx="166.22" cy="117.94" r="1.05"/>
<circle cx="167.23" cy="129.02" r="1.05"/>
<circle cx="166.73" cy="110.94" r="1.05"/>
<circle cx="167.22" cy="122.78" r="1.05"/>
<circle cx="167.37" cy="112.42" r="1.05"/>
<circle cx="165.33" cy="126.35" r="1.05"/>
<circle cx="166.42" cy="123.1" r="1.05"/>
<circle cx="166.23" cy="118.79" r="1.05"/>
<circle cx="166.95" cy="127.25" r="1.05"/>
<circle cx="165.69" cy="125.32" r="1.05"/>
<circle cx="168.14" cy="119.26" r="1.05"/>
<circle cx="166.01" cy="113.07" r="1.05"/>
<circle cx="166.13" cy="124.47" r="1.05"/>
<circle cx="165.61" cy="127.12" r="1.05"/>
<circle cx="166.2" cy="123.89" r="1.05"/>
<circle cx="166.84" cy="110.77" r="1.05"/>
<circle cx="165.54" cy="127.95" r="1.05"/>
<circle cx="165.43" cy="119.92" r="1.05"/>
<circle cx="167.03" cy="123.56" r="1.05"/>
<circle cx="166.95" cy="119.78" r="1.05"/>
<circle cx="167.21" cy="126.51" r="1.05"/>
<circle cx="165.72" cy="120.2" r="1.05"/>
<circle cx="167.29" cy="115.01" r="1.05"/>
<circle cx="167.14" cy="115.81" r="1.05"/>
<circle cx="167.47" cy="120.01" r="1.05"/>
<circle cx="165.25" cy="121.74" r="1.05"/>
<circle cx="166.44" cy="120.89" r="1.05"/>
<circle cx="165.5" cy="128.85" r="1.05"/>
<circle cx="167.52" cy="116.25" r="1.05"/>
<circle cx="167.98" cy="119.06" r="1.05"/>
<circle cx="167.88" cy="122.45" r="1.05"/>
<circle cx="164.98" cy="119.45" r="1.05"/>
<circle cx="166.05" cy="122.94" r="1.05"/>
<circle cx="166.66" cy="123.46" r="1.05"/>
<circle cx="166.64" cy="126.15" r="1.05"/>
<circle cx="165.23" cy="120.43" r="1.05"/>
<circle cx="167.52" cy="120.82" r="1.05"/>
<circle cx="165.87" cy="121.6" r="1.05"/>
<circle cx="166.55" cy="131.87" r="1.05"/>
<circle cx="165.29" cy="120.03" r="1.05"/>
<circle cx="166.77" cy="122.54" r="1.05"/>
<circle cx="165.29" cy="120.53" r="1.05"/>
<circle cx="165.15" cy="120.51" r="1.05"/>
<circle cx="166.57" cy="113.67" r="1.05"/>
<circle cx="166.04" cy="127.86" r="1.05"/>
<circle cx="167.48" cy="122.23" r="1.05"/>
<circle cx="166.25" cy="110.44" r="1.05"/>
<circle cx="166.27" cy="118.24" r="1.05"/>
<circle cx="165.14" cy="124.62" r="1.05"/>
<circle cx="165.66" cy="118.26" r="1.05"/>
<circle cx="166.48" cy="110.78" r="1.05"/>
<circle cx="166.74" cy="123.2" r="1.05"/>
<circle cx="166.44" cy="115.54" r="1.05"/>
<circle cx="167.33" cy="128.51" r="1.05"/>
<circle cx="166.06" cy="110.72" r="1.05"/>
<circle cx="167.73" cy="121.92" r="1.05"/>
<circle cx="165.55" cy="126.06" r="1.05"/>
<circle cx="167.81" cy="116.19" r="1.05"/>
<circle cx="166.63" cy="119.7" r="1.05"/>
<circle cx="166.36" cy="113.45" r="1.05"/>
<circle cx="166.85" cy="116.44" r="1.05"/>
<circle cx="167.6" cy="117.1" r="1.05"/>
<circle cx="168.12" cy="121.65" r="1.05"/>
<circle cx="166.44" cy="110.35" r="1.05"/>
<circle cx="165.72" cy="130.44" r="1.05"/>
<circle cx="165.67" cy="115.47" r="1.05"/>
<circle cx="167.56" cy="118.69" r="1.05"/>
<circle cx="167.23" cy="125.74" r="1.05"/>
<circle cx="167.15" cy="116.91" r="1.05"/>
<circle cx="165.38" cy="122.44" r="1.05"/>
<circle cx="166.65" cy="121.32" r="1.05"/>
<circle cx="165.34" cy="115.59" r="1.05"/>
<circle cx="165.5" cy="126.85" r="1.05"/>
<circle cx="165.94" cy="125.21" r="1.05"/>
<circle cx="168.09" cy="119.79" r="1.05"/>
<circle cx="166.8" cy="130.12" r="1.05"/>
<circle cx="167.72" cy="121.07" r="1.05"/>
<circle cx="165.2" cy="117.31" r="1.05"/>
<circle cx="166.26" cy="121.93" r="1.05"/>
<circle cx="165.32" cy="125.91" r="1.05"/>
<circle cx="165.85" cy="117.06" r="1.05"/>
<circle cx="165.53" cy="115.84" r="1.05"/>
<circle cx="167.81" cy="117.63" r="1.05"/>
<circle cx="165.96" cy="121.14" r="1.05"/>
<circle cx="166.52" cy="114.5" r="1.05"/>
<circle cx="166.99" cy="117.12" r="1.05"/>
<circle cx="167.48" cy="127.86" r="1.05"/>
<circle cx="168" cy="123.76" r="1.05"/>
<circle cx="166.68" cy="129.25" r="1.05"/>
<circle cx="166.54" cy="131.64" r="1.05"/>
<circle cx="167.84" cy="124.08" r="1.05"/>
<circle cx="166.27" cy="115.6" r="1.05"/>
<circle cx="165.99" cy="116.33" r="1.05"/>
<circle cx="167.06" cy="128.76" r="1.05"/>
<circle cx="165.91" cy="127.16" r="1.05"/>
<circle cx="166.11" cy="123.4" r="1.05"/>
<circle cx="166.36" cy="115.98" r="1.05"/>
<circle cx="166.47" cy="120.19" r="1.05"/>
<circle cx="166.22" cy="114.62" r="1.05"/>
<circle cx="166.42" cy="130.18" r="1.05"/>
<circle cx="166.48" cy="110.91" r="1.05"/>
<circle cx="165.31" cy="126.62" r="1.05"/>
<circle cx="167.66" cy="120.01" r="1.05"/>
<circle cx="165.46" cy="115.31" r="1.05"/>
<circle cx="166.63" cy="118.42" r="1.05"/>
<circle cx="166.67" cy="126.83" r="1.05"/>
<circle cx="166.21" cy="119.4" r="1.05"/>
<circle cx="180.55" cy="93.3" r="1.05"/>
<circle cx="180.66" cy="99.3" r="1.05"/>
<circle cx="180.7" cy="102.9" r="1.05"/>
<circle cx="180.61" cy="106.5" r="1.05"/>
<circle cx="180.49" cy="112.5" r="1.05"/>
<circle cx="194.16" cy="96.9" r="1.05"/>
<circle cx="193.45" cy="102.9" r="1.05"/>
<circle cx="193.48" cy="105.3" r="1.05"/>
<circle cx="193.6" cy="106.5" r="1.05"/>
<circle cx="207.34" cy="100.62" r="1.05"/>
<circle cx="221.25" cy="102.3" r="1.05"/>
<circle cx="221.4" cy="106.5" r="1.05"/>
<circle cx="221.15" cy="111.3" r="1.05"/>
<circle cx="234.62" cy="99.3" r="1.05"/>
<circle cx="234.86" cy="129.3" r="1.05"/>
<circle cx="233.66" cy="116.88" r="1.05"/>
<circle cx="235.66" cy="122.52" r="1.05"/>
<circle cx="234.22" cy="120.07" r="1.05"/>
<circle cx="233.68" cy="119.9" r="1.05"/>
<circle cx="235.35" cy="113.55" r="1.05"/>
<circle cx="234.36" cy="119.29" r="1.05"/>
<circle cx="234.91" cy="123.75" r="1.05"/>
<circle cx="234.82" cy="119.16" r="1.05"/>
<circle cx="235.9" cy="112.8" r="1.05"/>
<circle cx="234.88" cy="115.85" r="1.05"/>
<circle cx="234.46" cy="114.41" r="1.05"/>
<circle cx="233.15" cy="116.19" r="1.05"/>
<circle cx="234.82" cy="119.74" r="1.05"/>
<circle cx="234.52" cy="123.98" r="1.05"/>
<circle cx="235.08" cy="118.01" r="1.05"/>
<circle cx="235.06" cy="122.86" r="1.05"/>
<circle cx="234.71" cy="118.58" r="1.05"/>
<circle cx="233.55" cy="114.73" r="1.05"/>
<circle cx="234.82" cy="117.23" r="1.05"/>
<circle cx="234.77" cy="116.11" r="1.05"/>
<circle cx="235.27" cy="114.68" r="1.05"/>
<circle cx="236.4" cy="117.85" r="1.05"/>
<circle cx="234.08" cy="117.37" r="1.05"/>
<circle cx="234.71" cy="111.58" r="1.05"/>
<circle cx="233.5" cy="115.07" r="1.05"/>
<circle cx="235.85" cy="116.7" r="1.05"/>
<circle cx="233.96" cy="115.45" r="1.05"/>
<circle cx="235.94" cy="116.24" r="1.05"/>
<circle cx="235.83" cy="117.66" r="1.05"/>
<circle cx="234.36" cy="111.04" r="1.05"/>
<circle cx="236.09" cy="118.96" r="1.05"/>
<circle cx="234.84" cy="110.58" r="1.05"/>
<circle cx="234.66" cy="112.07" r="1.05"/>
<circle cx="234.95" cy="111.61" r="1.05"/>
<circle cx="236.07" cy="120.08" r="1.05"/>
<circle cx="234.79" cy="115.75" r="1.05"/>
<circle cx="234.81" cy="109.12" r="1.05"/>
<circle cx="234.14" cy="118.21" r="1.05"/>
<circle cx="235.8" cy="119.94" r="1.05"/>
<circle cx="234.84" cy="113.69" r="1.05"/>
<circle cx="248.23" cy="80.1" r="1.05"/>
<circle cx="248.64" cy="95.7" r="1.05"/>
<circle cx="249.05" cy="113.42" r="1.05"/>
<circle cx="249.58" cy="113.13" r="1.05"/>
<circle cx="248.9" cy="106.01" r="1.05"/>
<circle cx="247.21" cy="106.44" r="1.05"/>
<circle cx="249" cy="102.86" r="1.05"/>
<circle cx="247.16" cy="104.57" r="1.05"/>
<circle cx="249.71" cy="107.86" r="1.05"/>
<circle cx="249.4" cy="106.52" r="1.05"/>
<circle cx="249.45" cy="107.57" r="1.05"/>
<circle cx="249.75" cy="106.36" r="1.05"/>
<circle cx="248.72" cy="106.47" r="1.05"/>
<circle cx="249.43" cy="113.75" r="1.05"/>
<circle cx="248.96" cy="106.28" r="1.05"/>
<circle cx="248.47" cy="111.89" r="1.05"/>
<circle cx="248.22" cy="112.7" r="1.05"/>
<circle cx="248.05" cy="104.52" r="1.05"/>
<circle cx="247.95" cy="117.56" r="1.05"/>
<circle cx="247.47" cy="109.56" r="1.05"/>
<circle cx="249.25" cy="111.4" r="1.05"/>
<circle cx="247.56" cy="106.6" r="1.05"/>
<circle cx="248.98" cy="108.62" r="1.05"/>
<circle cx="249.33" cy="104.69" r="1.05"/>
<circle cx="249.05" cy="104.23" r="1.05"/>
<circle cx="248.54" cy="108.28" r="1.05"/>
<circle cx="248.2" cy="116.1" r="1.05"/>
<circle cx="247.74" cy="108.05" r="1.05"/>
<circle cx="247.91" cy="115.01" r="1.05"/>
<circle cx="248.81" cy="102.71" r="1.05"/>
<circle cx="249.09" cy="105.42" r="1.05"/>
<circle cx="249.6" cy="111.8" r="1.05"/>
<circle cx="262.31" cy="134.1" r="1.05"/>
<circle cx="262.01" cy="94.62" r="1.05"/>
<circle cx="261.69" cy="91.62" r="1.05"/>
<circle cx="261.93" cy="91.1" r="1.05"/>
<circle cx="262.02" cy="94.16" r="1.05"/>
<circle cx="261.78" cy="85.88" r="1.05"/>
<circle cx="262.46" cy="87.6" r="1.05"/>
<circle cx="261.84" cy="90.97" r="1.05"/>
<circle cx="261.49" cy="90.21" r="1.05"/>
<circle cx="263.05" cy="92.16" r="1.05"/>
<circle cx="262.07" cy="85" r="1.05"/>
<circle cx="262.07" cy="93.98" r="1.05"/>
<circle cx="263.4" cy="92.24" r="1.05"/>
<circle cx="262" cy="92.93" r="1.05"/>
<circle cx="261.83" cy="87.42" r="1.05"/>
<circle cx="263.49" cy="90.81" r="1.05"/>
<circle cx="263.76" cy="91.49" r="1.05"/>
<circle cx="263.11" cy="91.57" r="1.05"/>
<circle cx="261.91" cy="87.11" r="1.05"/>
<circle cx="262.7" cy="92.62" r="1.05"/>
<circle cx="262.83" cy="88.34" r="1.05"/>
<circle cx="275.42" cy="110.1" r="1.05"/>
<circle cx="275.56" cy="89.66" r="1.05"/>
<circle cx="276.27" cy="96.9" r="1.05"/>
<circle cx="274.61" cy="94.27" r="1.05"/>
<circle cx="275.16" cy="94.58" r="1.05"/>
<circle cx="277.07" cy="94.84" r="1.05"/>
<circle cx="276.84" cy="98.22" r="1.05"/>
<circle cx="274.97" cy="93.79" r="1.05"/>
<circle cx="275.04" cy="90.76" r="1.05"/>
<circle cx="274.55" cy="93.45" r="1.05"/>
<circle cx="274.55" cy="96.74" r="1.05"/>
<circle cx="276.63" cy="91.97" r="1.05"/>
<circle cx="276.6" cy="95.48" r="1.05"/>
<circle cx="275.27" cy="98.54" r="1.05"/>
<circle cx="275.76" cy="93.95" r="1.05"/>
<circle cx="276.46" cy="95.13" r="1.05"/>
<circle cx="274.2" cy="94.57" r="1.05"/>
<circle cx="276.23" cy="88.3" r="1.05"/>
<circle cx="277.02" cy="94.25" r="1.05"/>
<circle cx="275.27" cy="89.59" r="1.05"/>
<circle cx="276.45" cy="96.1" r="1.05"/>
<circle cx="276.4" cy="92.5" r="1.05"/>
<circle cx="275.53" cy="99.76" r="1.05"/>
<circle cx="276.96" cy="96.63" r="1.05"/>
<circle cx="274.89" cy="93.18" r="1.05"/>
<circle cx="275.72" cy="93.2" r="1.05"/>
<circle cx="275.29" cy="91.69" r="1.05"/>
<circle cx="275.61" cy="95.84" r="1.05"/>
<circle cx="276.73" cy="96.91" r="1.05"/>
<circle cx="276.03" cy="96.05" r="1.05"/>
<circle cx="276.17" cy="94.51" r="1.05"/>
<circle cx="289.74" cy="90.9" r="1.05"/>
<circle cx="289.85" cy="122.7" r="1.05"/>
<circle cx="289.32" cy="117.3" r="1.05"/>
<circle cx="289.34" cy="113.7" r="1.05"/>
<circle cx="290.05" cy="100.57" r="1.05"/>
<circle cx="288.43" cy="101.85" r="1.05"/>
<circle cx="290.24" cy="108.81" r="1.05"/>
<circle cx="288.83" cy="97.51" r="1.05"/>
<circle cx="289.65" cy="102.17" r="1.05"/>
<circle cx="288.97" cy="100.35" r="1.05"/>
<circle cx="287.91" cy="105.88" r="1.05"/>
<circle cx="287.76" cy="103.68" r="1.05"/>
<circle cx="288.28" cy="98.28" r="1.05"/>
<circle cx="288.97" cy="99.76" r="1.05"/>
<circle cx="288.7" cy="103.96" r="1.05"/>
<circle cx="290.88" cy="99.91" r="1.05"/>
<circle cx="289.67" cy="96.1" r="1.05"/>
<circle cx="288.1" cy="100.79" r="1.05"/>
<circle cx="290.19" cy="103.15" r="1.05"/>
<circle cx="288.83" cy="98.23" r="1.05"/>
<circle cx="289.41" cy="108.33" r="1.05"/>
<circle cx="290.17" cy="105.51" r="1.05"/>
<circle cx="290.66" cy="104.08" r="1.05"/>
<circle cx="290.48" cy="108.51" r="1.05"/>
<circle cx="289.2" cy="101.65" r="1.05"/>
<circle cx="289.11" cy="109.76" r="1.05"/>
<circle cx="289.11" cy="103.44" r="1.05"/>
<circle cx="288.91" cy="106.68" r="1.05"/>
<circle cx="290.19" cy="106.25" r="1.05"/>
<circle cx="289.33" cy="103.66" r="1.05"/>
<circle cx="289.94" cy="107.69" r="1.05"/>
<circle cx="288.33" cy="105.14" r="1.05"/>
<circle cx="303.25" cy="105.3" r="1.05"/>
<circle cx="302.84" cy="112.5" r="1.05"/>
<circle cx="303.21" cy="123.02" r="1.05"/>
<circle cx="302.82" cy="124.75" r="1.05"/>
<circle cx="303.14" cy="131.62" r="1.05"/>
<circle cx="303.83" cy="125.88" r="1.05"/>
<circle cx="303.76" cy="124.79" r="1.05"/>
<circle cx="303.34" cy="127" r="1.05"/>
<circle cx="303.65" cy="130.95" r="1.05"/>
<circle cx="304.2" cy="126.13" r="1.05"/>
<circle cx="301.79" cy="126.7" r="1.05"/>
<circle cx="302.37" cy="120.15" r="1.05"/>
<circle cx="301.64" cy="126.64" r="1.05"/>
<circle cx="302.25" cy="121.26" r="1.05"/>
<circle cx="304.42" cy="122.11" r="1.05"/>
<circle cx="302.47" cy="124.97" r="1.05"/>
<circle cx="302.96" cy="129.2" r="1.05"/>
<circle cx="303.01" cy="122.85" r="1.05"/>
<circle cx="303.26" cy="129.77" r="1.05"/>
<circle cx="302.36" cy="125.1" r="1.05"/>
<circle cx="303.77" cy="129.65" r="1.05"/>
<circle cx="302.72" cy="129.73" r="1.05"/>
<circle cx="304.26" cy="126.21" r="1.05"/>
<circle cx="303.92" cy="128.77" r="1.05"/>
<circle cx="302.23" cy="119.39" r="1.05"/>
<circle cx="303.28" cy="124.95" r="1.05"/>
<circle cx="302.02" cy="121.68" r="1.05"/>
<circle cx="303.98" cy="120.57" r="1.05"/>
<circle cx="301.73" cy="123.38" r="1.05"/>
<circle cx="302.33" cy="124.41" r="1.05"/>
<circle cx="304.02" cy="125.72" r="1.05"/>
<circle cx="303.4" cy="123.18" r="1.05"/>
<circle cx="317.02" cy="77.7" r="1.05"/>
<circle cx="317.11" cy="86.1" r="1.05"/>
<circle cx="317.06" cy="101.13" r="1.05"/>
<circle cx="318.33" cy="104.09" r="1.05"/>
<circle cx="318.2" cy="102.93" r="1.05"/>
<circle cx="315.73" cy="106.6" r="1.05"/>
<circle cx="318.41" cy="103.57" r="1.05"/>
<circle cx="315.78" cy="105.86" r="1.05"/>
<circle cx="317.64" cy="101.01" r="1.05"/>
<circle cx="315.77" cy="108.22" r="1.05"/>
<circle cx="316.21" cy="107.65" r="1.05"/>
<circle cx="316.59" cy="106.68" r="1.05"/>
<circle cx="317.87" cy="102.79" r="1.05"/>
<circle cx="317.34" cy="102.22" r="1.05"/>
<circle cx="316.42" cy="111.79" r="1.05"/>
<circle cx="317.1" cy="93.87" r="1.05"/>
<circle cx="317.55" cy="98.45" r="1.05"/>
<circle cx="316.81" cy="104.43" r="1.05"/>
<circle cx="315.44" cy="107.28" r="1.05"/>
<circle cx="316.3" cy="98.63" r="1.05"/>
<circle cx="316.57" cy="94.48" r="1.05"/>
<circle cx="316.52" cy="106.98" r="1.05"/>
<circle cx="317.89" cy="99.83" r="1.05"/>
<circle cx="316.98" cy="98.78" r="1.05"/>
<circle cx="317.22" cy="96.02" r="1.05"/>
<circle cx="315.41" cy="106.52" r="1.05"/>
<circle cx="316.07" cy="107.96" r="1.05"/>
<circle cx="317.46" cy="107.19" r="1.05"/>
<circle cx="316.25" cy="106.2" r="1.05"/>
<circle cx="316.31" cy="97.05" r="1.05"/>
<circle cx="316.06" cy="96.8" r="1.05"/>
<circle cx="315.28" cy="103.45" r="1.05"/>
<circle cx="316.53" cy="107.83" r="1.05"/>
<circle cx="316.93" cy="104.73" r="1.05"/>
<circle cx="316.44" cy="106.07" r="1.05"/>
<circle cx="316.96" cy="101.38" r="1.05"/>
<circle cx="316.21" cy="100.38" r="1.05"/>
<circle cx="315.6" cy="99.5" r="1.05"/>
<circle cx="317.36" cy="103.84" r="1.05"/>
<circle cx="316.22" cy="103.63" r="1.05"/>
<circle cx="316.74" cy="103.51" r="1.05"/>
<circle cx="316.36" cy="104.54" r="1.05"/>
<circle cx="316" cy="103.65" r="1.05"/>
<circle cx="315.51" cy="100.88" r="1.05"/>
<circle cx="316.22" cy="100.51" r="1.05"/>
<circle cx="316.09" cy="105.02" r="1.05"/>
<circle cx="315.55" cy="102.4" r="1.05"/>
<circle cx="315.41" cy="107.51" r="1.05"/>
<circle cx="316.73" cy="109.72" r="1.05"/>
<circle cx="315.14" cy="104.36" r="1.05"/>
<circle cx="318.06" cy="104.65" r="1.05"/>
<circle cx="316.51" cy="110.14" r="1.05"/>
<circle cx="316.64" cy="108.81" r="1.05"/>
<circle cx="316.86" cy="103.96" r="1.05"/>
<circle cx="316.13" cy="95.86" r="1.05"/>
<circle cx="315.93" cy="98.41" r="1.05"/>
<circle cx="317.29" cy="110.23" r="1.05"/>
<circle cx="316.96" cy="105.13" r="1.05"/>
<circle cx="316.75" cy="104.55" r="1.05"/>
<circle cx="316.24" cy="105.2" r="1.05"/>
<circle cx="317.49" cy="107.65" r="1.05"/>
<circle cx="316.78" cy="102.11" r="1.05"/>
<circle cx="317.39" cy="98.38" r="1.05"/>
<circle cx="317.91" cy="104.41" r="1.05"/>
<circle cx="317.97" cy="107" r="1.05"/>
<circle cx="317.37" cy="108.25" r="1.05"/>
<circle cx="317.04" cy="110.89" r="1.05"/>
<circle cx="316.68" cy="99.68" r="1.05"/>
<circle cx="316.88" cy="106.21" r="1.05"/>
<circle cx="316.98" cy="100.32" r="1.05"/>
<circle cx="316.83" cy="99.26" r="1.05"/>
<circle cx="317.55" cy="108.72" r="1.05"/>
<circle cx="317.88" cy="106.81" r="1.05"/>
<circle cx="315.26" cy="105.15" r="1.05"/>
<circle cx="317.39" cy="99.62" r="1.05"/>
<circle cx="317.07" cy="100.13" r="1.05"/>
<circle cx="317.1" cy="105.3" r="1.05"/>
<circle cx="318.14" cy="103.68" r="1.05"/>
<circle cx="315.24" cy="104.7" r="1.05"/>
<circle cx="316.69" cy="103.47" r="1.05"/>
<circle cx="316.48" cy="99.21" r="1.05"/>
<circle cx="318.26" cy="105.8" r="1.05"/>
<circle cx="330.63" cy="105.3" r="1.05"/>
<circle cx="330.42" cy="111.3" r="1.05"/>
<circle cx="330.67" cy="116.7" r="1.05"/>
<circle cx="330.25" cy="119.7" r="1.05"/>
<circle cx="357.39" cy="84.9" r="1.05"/>
<circle cx="357.93" cy="123.3" r="1.05"/>
<circle cx="357.71" cy="104.5" r="1.05"/>
<circle cx="358.61" cy="108.16" r="1.05"/>
<circle cx="359.39" cy="99.41" r="1.05"/>
<circle cx="357.57" cy="99.12" r="1.05"/>
<circle cx="358.1" cy="108.75" r="1.05"/>
<circle cx="358.17" cy="95.56" r="1.05"/>
<circle cx="358.4" cy="101.42" r="1.05"/>
<circle cx="357.52" cy="109.71" r="1.05"/>
<circle cx="358.21" cy="101.94" r="1.05"/>
<circle cx="356.34" cy="103.63" r="1.05"/>
<circle cx="358.7" cy="107.57" r="1.05"/>
<circle cx="358.39" cy="96.69" r="1.05"/>
<circle cx="358.52" cy="95.56" r="1.05"/>
<circle cx="357.65" cy="107.13" r="1.05"/>
<circle cx="356.75" cy="102.32" r="1.05"/>
<circle cx="357.59" cy="104.53" r="1.05"/>
<circle cx="358.35" cy="99.86" r="1.05"/>
<circle cx="357.86" cy="107.45" r="1.05"/>
<circle cx="356.48" cy="103.69" r="1.05"/>
<circle cx="356.09" cy="102.73" r="1.05"/>
<circle cx="357.4" cy="102.01" r="1.05"/>
<circle cx="356.89" cy="102.44" r="1.05"/>
<circle cx="356.81" cy="100.71" r="1.05"/>
<circle cx="357.04" cy="95.41" r="1.05"/>
<circle cx="357.52" cy="95.65" r="1.05"/>
<circle cx="358.28" cy="96.22" r="1.05"/>
<circle cx="359.04" cy="97.7" r="1.05"/>
<circle cx="358.27" cy="105.21" r="1.05"/>
<circle cx="356.29" cy="104.96" r="1.05"/>
<circle cx="358.98" cy="102.16" r="1.05"/>
<circle cx="358.11" cy="100.19" r="1.05"/>
<circle cx="358.53" cy="100.6" r="1.05"/>
<circle cx="358.11" cy="103.48" r="1.05"/>
<circle cx="357.5" cy="93.33" r="1.05"/>
<circle cx="357.23" cy="103.98" r="1.05"/>
<circle cx="357.12" cy="110.38" r="1.05"/>
<circle cx="358.12" cy="107.91" r="1.05"/>
<circle cx="356.44" cy="105.52" r="1.05"/>
<circle cx="358.35" cy="99.13" r="1.05"/>
<circle cx="359.02" cy="97.51" r="1.05"/>
<circle cx="358.04" cy="109.38" r="1.05"/>
<circle cx="358.06" cy="105.08" r="1.05"/>
<circle cx="358.67" cy="104.99" r="1.05"/>
<circle cx="359.23" cy="98.36" r="1.05"/>
<circle cx="358.63" cy="96.43" r="1.05"/>
<circle cx="359.25" cy="104.67" r="1.05"/>
<circle cx="357.65" cy="107.62" r="1.05"/>
<circle cx="356.68" cy="94.57" r="1.05"/>
<circle cx="357.99" cy="94.39" r="1.05"/>
<circle cx="358.21" cy="99.31" r="1.05"/>
<circle cx="358.97" cy="102.02" r="1.05"/>
<circle cx="358.11" cy="98.92" r="1.05"/>
<circle cx="357.3" cy="98.64" r="1.05"/>
<circle cx="356.06" cy="101.62" r="1.05"/>
<circle cx="358.77" cy="104.56" r="1.05"/>
<circle cx="358.17" cy="101.45" r="1.05"/>
<circle cx="359.38" cy="99.97" r="1.05"/>
<circle cx="358.04" cy="103.82" r="1.05"/>
<circle cx="358.94" cy="100.24" r="1.05"/>
<circle cx="358.46" cy="106.66" r="1.05"/>
<circle cx="358.79" cy="94.41" r="1.05"/>
<circle cx="357.63" cy="105.49" r="1.05"/>
<circle cx="358.92" cy="105.25" r="1.05"/>
<circle cx="357.51" cy="94.8" r="1.05"/>
<circle cx="356.57" cy="95.13" r="1.05"/>
<circle cx="357.28" cy="95.8" r="1.05"/>
<circle cx="357.28" cy="97.5" r="1.05"/>
<circle cx="359.25" cy="97.37" r="1.05"/>
<circle cx="357.41" cy="97.83" r="1.05"/>
<circle cx="356.98" cy="101.02" r="1.05"/>
<circle cx="358.15" cy="108.34" r="1.05"/>
<circle cx="356.4" cy="99.12" r="1.05"/>
<circle cx="357.14" cy="97.59" r="1.05"/>
<circle cx="357.42" cy="97.56" r="1.05"/>
<circle cx="357.06" cy="109.32" r="1.05"/>
<circle cx="371.71" cy="107.7" r="1.05"/>
<circle cx="371.28" cy="113.7" r="1.05"/>
<circle cx="372.83" cy="126.49" r="1.05"/>
<circle cx="371.57" cy="130.18" r="1.05"/>
<circle cx="370.57" cy="123.49" r="1.05"/>
<circle cx="371.9" cy="124.85" r="1.05"/>
<circle cx="370.88" cy="120.75" r="1.05"/>
<circle cx="370.24" cy="127.18" r="1.05"/>
<circle cx="370.03" cy="127.2" r="1.05"/>
<circle cx="371.59" cy="131.31" r="1.05"/>
<circle cx="370.91" cy="130.77" r="1.05"/>
<circle cx="370.19" cy="121.59" r="1.05"/>
<circle cx="372.2" cy="121.15" r="1.05"/>
<circle cx="370.4" cy="127.96" r="1.05"/>
<circle cx="371.84" cy="131.34" r="1.05"/>
<circle cx="370.63" cy="123.35" r="1.05"/>
<circle cx="370.97" cy="126.65" r="1.05"/>
<circle cx="372.85" cy="123.03" r="1.05"/>
<circle cx="372.31" cy="120.88" r="1.05"/>
<circle cx="372.46" cy="122.02" r="1.05"/>
<circle cx="372.93" cy="126.24" r="1.05"/>
<circle cx="371.75" cy="123.1" r="1.05"/>
<circle cx="372.8" cy="126.13" r="1.05"/>
<circle cx="371.78" cy="121.93" r="1.05"/>
<circle cx="371.66" cy="126.51" r="1.05"/>
<circle cx="370.89" cy="121.16" r="1.05"/>
<circle cx="371" cy="122.53" r="1.05"/>
<circle cx="385.62" cy="100.87" r="1.05"/>
<circle cx="385.41" cy="103.88" r="1.05"/>
<circle cx="385.51" cy="104.96" r="1.05"/>
<circle cx="385.19" cy="107.03" r="1.05"/>
<circle cx="385.42" cy="108.06" r="1.05"/>
<circle cx="385.26" cy="104.02" r="1.05"/>
<circle cx="383.69" cy="103.42" r="1.05"/>
<circle cx="385.65" cy="103.91" r="1.05"/>
<circle cx="385.72" cy="103.06" r="1.05"/>
<circle cx="384.81" cy="104.71" r="1.05"/>
<circle cx="398.1" cy="100.71" r="1.05"/>
<circle cx="399.82" cy="108.95" r="1.05"/>
<circle cx="397.28" cy="112.08" r="1.05"/>
<circle cx="400.16" cy="108.63" r="1.05"/>
<circle cx="400.03" cy="110.17" r="1.05"/>
<circle cx="398.56" cy="112.09" r="1.05"/>
<circle cx="398.95" cy="103.13" r="1.05"/>
<circle cx="398.6" cy="111.95" r="1.05"/>
<circle cx="397.94" cy="106.18" r="1.05"/>
<circle cx="398.29" cy="112.03" r="1.05"/>
<circle cx="398.54" cy="108.57" r="1.05"/>
<circle cx="399.18" cy="98.95" r="1.05"/>
<circle cx="412.17" cy="63.3" r="1.05"/>
<circle cx="412.05" cy="86.1" r="1.05"/>
<circle cx="412.75" cy="105.72" r="1.05"/>
<circle cx="411.97" cy="107.44" r="1.05"/>
<circle cx="412.64" cy="105.69" r="1.05"/>
<circle cx="412.54" cy="102.72" r="1.05"/>
<circle cx="412.74" cy="102.17" r="1.05"/>
<circle cx="412.14" cy="103.19" r="1.05"/>
<circle cx="411.49" cy="101.84" r="1.05"/>
<circle cx="411.71" cy="102.42" r="1.05"/>
<circle cx="413.04" cy="101.76" r="1.05"/>
<circle cx="413.6" cy="103.57" r="1.05"/>
<circle cx="411.85" cy="99.75" r="1.05"/>
<circle cx="411.74" cy="102.67" r="1.05"/>
<circle cx="412.23" cy="99.22" r="1.05"/>
<circle cx="412.26" cy="96.91" r="1.05"/>
<circle cx="412.76" cy="99.93" r="1.05"/>
<circle cx="413.18" cy="100.56" r="1.05"/>
<circle cx="413.27" cy="101.37" r="1.05"/>
<circle cx="413.42" cy="102.51" r="1.05"/>
<circle cx="426.08" cy="85.5" r="1.05"/>
<circle cx="426.33" cy="90.9" r="1.05"/>
<circle cx="425.77" cy="95.7" r="1.05"/>
<circle cx="425.86" cy="131.7" r="1.05"/>
<circle cx="426.19" cy="118.58" r="1.05"/>
<circle cx="426.31" cy="112.28" r="1.05"/>
<circle cx="427.56" cy="117.31" r="1.05"/>
<circle cx="426.64" cy="115.82" r="1.05"/>
<circle cx="424.49" cy="116.2" r="1.05"/>
<circle cx="427.49" cy="117.94" r="1.05"/>
<circle cx="425.99" cy="125.38" r="1.05"/>
<circle cx="425.12" cy="119.07" r="1.05"/>
<circle cx="426.92" cy="116.66" r="1.05"/>
<circle cx="426.28" cy="109.59" r="1.05"/>
<circle cx="426.89" cy="121.4" r="1.05"/>
<circle cx="426.15" cy="110.86" r="1.05"/>
<circle cx="425.62" cy="108.81" r="1.05"/>
<circle cx="425.94" cy="112.9" r="1.05"/>
<circle cx="425.92" cy="119.05" r="1.05"/>
<circle cx="425.82" cy="124.84" r="1.05"/>
<circle cx="426.23" cy="111.34" r="1.05"/>
<circle cx="425.35" cy="123.02" r="1.05"/>
<circle cx="425.25" cy="118.79" r="1.05"/>
<circle cx="425.23" cy="109.96" r="1.05"/>
<circle cx="424.49" cy="114.49" r="1.05"/>
<circle cx="426.1" cy="112.38" r="1.05"/>
<circle cx="426.69" cy="112.21" r="1.05"/>
<circle cx="425.77" cy="120.63" r="1.05"/>
<circle cx="427.4" cy="116.36" r="1.05"/>
<circle cx="426.26" cy="122.34" r="1.05"/>
<circle cx="426.55" cy="117.76" r="1.05"/>
<circle cx="425.3" cy="116.45" r="1.05"/>
<circle cx="427.17" cy="112.48" r="1.05"/>
<circle cx="425.55" cy="118.92" r="1.05"/>
<circle cx="427.16" cy="114.58" r="1.05"/>
<circle cx="425.4" cy="121.33" r="1.05"/>
<circle cx="427.39" cy="119.38" r="1.05"/>
<circle cx="426.37" cy="123.31" r="1.05"/>
<circle cx="424.94" cy="115.56" r="1.05"/>
<circle cx="426.81" cy="115.5" r="1.05"/>
<circle cx="424.93" cy="114" r="1.05"/>
<circle cx="425.64" cy="117.28" r="1.05"/>
<circle cx="425.77" cy="110.02" r="1.05"/>
<circle cx="425.51" cy="113.87" r="1.05"/>
<circle cx="439.67" cy="95.7" r="1.05"/>
<circle cx="439.96" cy="108.9" r="1.05"/>
<circle cx="439.79" cy="118.5" r="1.05"/>
<circle cx="452.97" cy="86.1" r="1.05"/>
<circle cx="453.43" cy="100.5" r="1.05"/>
<circle cx="454.41" cy="118.75" r="1.05"/>
<circle cx="453.84" cy="115.92" r="1.05"/>
<circle cx="452.38" cy="119.63" r="1.05"/>
<circle cx="454.81" cy="115.89" r="1.05"/>
<circle cx="452.62" cy="121.78" r="1.05"/>
<circle cx="453.37" cy="117.76" r="1.05"/>
<circle cx="453.21" cy="118.51" r="1.05"/>
<circle cx="452.21" cy="117.33" r="1.05"/>
<circle cx="453.08" cy="125.43" r="1.05"/>
<circle cx="452.56" cy="121.18" r="1.05"/>
<circle cx="452.33" cy="115.14" r="1.05"/>
<circle cx="452.43" cy="122.58" r="1.05"/>
<circle cx="453.83" cy="117.91" r="1.05"/>
<circle cx="453.48" cy="108.74" r="1.05"/>
<circle cx="452.51" cy="116.41" r="1.05"/>
<circle cx="454.69" cy="114.89" r="1.05"/>
<circle cx="453.13" cy="114.37" r="1.05"/>
<circle cx="453.29" cy="110.18" r="1.05"/>
<circle cx="454.7" cy="119.03" r="1.05"/>
<circle cx="453.82" cy="118.92" r="1.05"/>
<circle cx="453.24" cy="114.6" r="1.05"/>
<circle cx="453.55" cy="126.67" r="1.05"/>
<circle cx="454.15" cy="118.01" r="1.05"/>
<circle cx="452.83" cy="120.7" r="1.05"/>
<circle cx="451.88" cy="116.99" r="1.05"/>
<circle cx="454.03" cy="114.91" r="1.05"/>
<circle cx="453.88" cy="112.9" r="1.05"/>
<circle cx="453.68" cy="117.55" r="1.05"/>
<circle cx="452.14" cy="115.44" r="1.05"/>
<circle cx="453.67" cy="124.66" r="1.05"/>
<circle cx="452.29" cy="115.83" r="1.05"/>
<circle cx="453.81" cy="111.4" r="1.05"/>
<circle cx="453.75" cy="116.35" r="1.05"/>
<circle cx="453.8" cy="117.75" r="1.05"/>
<circle cx="451.9" cy="117.51" r="1.05"/>
<circle cx="452.9" cy="118.71" r="1.05"/>
<circle cx="453.83" cy="122.32" r="1.05"/>
<circle cx="452.49" cy="121.97" r="1.05"/>
<circle cx="452.12" cy="114.02" r="1.05"/>
<circle cx="453.05" cy="117.45" r="1.05"/>
<circle cx="466.97" cy="101.1" r="1.05"/>
<circle cx="466.75" cy="113.7" r="1.05"/>
<circle cx="467.45" cy="116.1" r="1.05"/>
<circle cx="466.62" cy="117.3" r="1.05"/>
<circle cx="481.05" cy="95.7" r="1.05"/>
<circle cx="480.89" cy="132.9" r="1.05"/>
<circle cx="480.39" cy="116.03" r="1.05"/>
<circle cx="480.28" cy="116.64" r="1.05"/>
<circle cx="481.07" cy="109.67" r="1.05"/>
<circle cx="479.43" cy="109.69" r="1.05"/>
<circle cx="479.56" cy="110.29" r="1.05"/>
<circle cx="479.83" cy="115.58" r="1.05"/>
<circle cx="481.17" cy="110.12" r="1.05"/>
<circle cx="480.27" cy="110.47" r="1.05"/>
<circle cx="482" cy="112.43" r="1.05"/>
<circle cx="481.55" cy="113.3" r="1.05"/>
<circle cx="480.74" cy="114.16" r="1.05"/>
<circle cx="480.12" cy="110.83" r="1.05"/>
<circle cx="480.06" cy="111.84" r="1.05"/>
<circle cx="479.16" cy="109.88" r="1.05"/>
<circle cx="479.44" cy="108.95" r="1.05"/>
<circle cx="481.81" cy="112.72" r="1.05"/>
<circle cx="479.99" cy="109.66" r="1.05"/>
<circle cx="479.16" cy="112.91" r="1.05"/>
<circle cx="482.01" cy="108.1" r="1.05"/>
<circle cx="480.32" cy="113.53" r="1.05"/>
<circle cx="481.57" cy="109.79" r="1.05"/>
<circle cx="480.52" cy="108.22" r="1.05"/>
<circle cx="481.83" cy="107.39" r="1.05"/>
<circle cx="479.23" cy="110.4" r="1.05"/>
<circle cx="480.61" cy="105.47" r="1.05"/>
<circle cx="494.33" cy="106.5" r="1.05"/>
<circle cx="494.63" cy="118.34" r="1.05"/>
<circle cx="494.57" cy="112.34" r="1.05"/>
<circle cx="494.44" cy="125.55" r="1.05"/>
<circle cx="493.67" cy="125.58" r="1.05"/>
<circle cx="493.61" cy="125.24" r="1.05"/>
<circle cx="493.44" cy="110.09" r="1.05"/>
<circle cx="494.19" cy="105.52" r="1.05"/>
<circle cx="493.9" cy="106.55" r="1.05"/>
<circle cx="495" cy="114.81" r="1.05"/>
<circle cx="493.42" cy="125.05" r="1.05"/>
<circle cx="494.85" cy="110.34" r="1.05"/>
<circle cx="507.76" cy="98.1" r="1.05"/>
<circle cx="507.64" cy="110.1" r="1.05"/>
<circle cx="507.62" cy="114.9" r="1.05"/>
</g><g fill="#e61e28" fill-opacity="0.55">
<circle cx="64.08" cy="84.9" r="1.15"/>
<circle cx="64.2" cy="88.5" r="1.15"/>
<circle cx="63.94" cy="93.3" r="1.15"/>
<circle cx="64.49" cy="99.3" r="1.15"/>
<circle cx="63.75" cy="104.1" r="1.15"/>
<circle cx="64.11" cy="110.1" r="1.15"/>
<circle cx="64.21" cy="113.7" r="1.15"/>
<circle cx="64.3" cy="117.3" r="1.15"/>
<circle cx="64.22" cy="120.9" r="1.15"/>
<circle cx="64.22" cy="124.5" r="1.15"/>
<circle cx="64.28" cy="126.9" r="1.15"/>
<circle cx="64.31" cy="129.3" r="1.15"/>
<circle cx="78.08" cy="89.7" r="1.15"/>
<circle cx="77.7" cy="94.5" r="1.15"/>
<circle cx="77.72" cy="124.5" r="1.15"/>
<circle cx="77.68" cy="120.9" r="1.15"/>
<circle cx="77.68" cy="101.79" r="1.15"/>
<circle cx="78.02" cy="111.66" r="1.15"/>
<circle cx="78.25" cy="109.71" r="1.15"/>
<circle cx="77.71" cy="106.89" r="1.15"/>
<circle cx="77.49" cy="108.96" r="1.15"/>
<circle cx="77.28" cy="105.04" r="1.15"/>
<circle cx="77.93" cy="105.93" r="1.15"/>
<circle cx="78.42" cy="106.92" r="1.15"/>
<circle cx="77.26" cy="103.66" r="1.15"/>
<circle cx="78.19" cy="106.62" r="1.15"/>
<circle cx="77.06" cy="108.74" r="1.15"/>
<circle cx="77.28" cy="108.09" r="1.15"/>
<circle cx="77.39" cy="103.64" r="1.15"/>
<circle cx="77.96" cy="102.78" r="1.15"/>
<circle cx="77.52" cy="109.87" r="1.15"/>
<circle cx="77.56" cy="103.56" r="1.15"/>
<circle cx="77.85" cy="101.26" r="1.15"/>
<circle cx="77.11" cy="106.91" r="1.15"/>
<circle cx="78.11" cy="106.51" r="1.15"/>
<circle cx="77.28" cy="109.95" r="1.15"/>
<circle cx="77.76" cy="106.81" r="1.15"/>
<circle cx="77.35" cy="107.08" r="1.15"/>
<circle cx="77.26" cy="106.23" r="1.15"/>
<circle cx="77.76" cy="113.06" r="1.15"/>
<circle cx="77.69" cy="101.23" r="1.15"/>
<circle cx="77.54" cy="106.97" r="1.15"/>
<circle cx="77.61" cy="107.92" r="1.15"/>
<circle cx="77.78" cy="104.22" r="1.15"/>
<circle cx="77.2" cy="106.59" r="1.15"/>
<circle cx="77.27" cy="107.17" r="1.15"/>
<circle cx="77.95" cy="105.43" r="1.15"/>
<circle cx="77.85" cy="112.07" r="1.15"/>
<circle cx="77.79" cy="106.79" r="1.15"/>
<circle cx="78.29" cy="107.8" r="1.15"/>
<circle cx="77.85" cy="101.59" r="1.15"/>
<circle cx="104.93" cy="87.3" r="1.15"/>
<circle cx="105.18" cy="98.1" r="1.15"/>
<circle cx="105.09" cy="101.7" r="1.15"/>
<circle cx="105.07" cy="109.26" r="1.15"/>
<circle cx="104.99" cy="111.3" r="1.15"/>
<circle cx="105.32" cy="114.9" r="1.15"/>
<circle cx="105.13" cy="119.7" r="1.15"/>
<circle cx="105.15" cy="122.1" r="1.15"/>
<circle cx="118.9" cy="80.1" r="1.15"/>
<circle cx="118.67" cy="93.3" r="1.15"/>
<circle cx="118.12" cy="110.01" r="1.15"/>
<circle cx="119.21" cy="107.71" r="1.15"/>
<circle cx="119.04" cy="116.86" r="1.15"/>
<circle cx="118.9" cy="113.74" r="1.15"/>
<circle cx="118.61" cy="123.79" r="1.15"/>
<circle cx="118.48" cy="118.45" r="1.15"/>
<circle cx="118.98" cy="114.25" r="1.15"/>
<circle cx="118.77" cy="121.6" r="1.15"/>
<circle cx="118.82" cy="117" r="1.15"/>
<circle cx="118.83" cy="103.4" r="1.15"/>
<circle cx="119.12" cy="111.09" r="1.15"/>
<circle cx="118.22" cy="111.81" r="1.15"/>
<circle cx="118.53" cy="100.73" r="1.15"/>
<circle cx="119.47" cy="110.8" r="1.15"/>
<circle cx="118.94" cy="98.38" r="1.15"/>
<circle cx="119.28" cy="109.62" r="1.15"/>
<circle cx="118.23" cy="106.13" r="1.15"/>
<circle cx="118.36" cy="122.52" r="1.15"/>
<circle cx="118.36" cy="110.31" r="1.15"/>
<circle cx="118.62" cy="107.28" r="1.15"/>
<circle cx="118.8" cy="124.09" r="1.15"/>
<circle cx="118.39" cy="102.49" r="1.15"/>
<circle cx="118.75" cy="119.48" r="1.15"/>
<circle cx="118.04" cy="112.44" r="1.15"/>
<circle cx="118.31" cy="119.2" r="1.15"/>
<circle cx="119" cy="112.02" r="1.15"/>
<circle cx="118.79" cy="110.09" r="1.15"/>
<circle cx="118.81" cy="123.36" r="1.15"/>
<circle cx="118.61" cy="101.85" r="1.15"/>
<circle cx="118.68" cy="113.38" r="1.15"/>
<circle cx="118.25" cy="111.48" r="1.15"/>
<circle cx="118.47" cy="110.31" r="1.15"/>
<circle cx="119.06" cy="114.46" r="1.15"/>
<circle cx="119.13" cy="116.18" r="1.15"/>
<circle cx="118.09" cy="109.32" r="1.15"/>
<circle cx="118.11" cy="110.92" r="1.15"/>
<circle cx="119.09" cy="116.23" r="1.15"/>
<circle cx="118.88" cy="108.16" r="1.15"/>
<circle cx="119.05" cy="115.94" r="1.15"/>
<circle cx="118.58" cy="126.39" r="1.15"/>
<circle cx="118.63" cy="117.15" r="1.15"/>
<circle cx="118.55" cy="124.22" r="1.15"/>
<circle cx="119.01" cy="119.59" r="1.15"/>
<circle cx="118.56" cy="107.37" r="1.15"/>
<circle cx="118.94" cy="113.97" r="1.15"/>
<circle cx="119.14" cy="103.67" r="1.15"/>
<circle cx="118.5" cy="107.51" r="1.15"/>
<circle cx="118.75" cy="123.8" r="1.15"/>
<circle cx="118.87" cy="99.14" r="1.15"/>
<circle cx="119.05" cy="101.88" r="1.15"/>
<circle cx="118.66" cy="122.64" r="1.15"/>
<circle cx="118.6" cy="103.4" r="1.15"/>
<circle cx="118.1" cy="113.21" r="1.15"/>
<circle cx="119.31" cy="112.33" r="1.15"/>
<circle cx="118.41" cy="100.36" r="1.15"/>
<circle cx="118.25" cy="117.18" r="1.15"/>
<circle cx="118.82" cy="111.54" r="1.15"/>
<circle cx="118.7" cy="102.2" r="1.15"/>
<circle cx="118.96" cy="108.03" r="1.15"/>
<circle cx="118.4" cy="112.5" r="1.15"/>
<circle cx="118.9" cy="99.98" r="1.15"/>
<circle cx="118.28" cy="105.95" r="1.15"/>
<circle cx="118.27" cy="110.21" r="1.15"/>
<circle cx="118.86" cy="120.97" r="1.15"/>
<circle cx="118.08" cy="109.86" r="1.15"/>
<circle cx="118.41" cy="112.73" r="1.15"/>
<circle cx="118.95" cy="118.22" r="1.15"/>
<circle cx="118.85" cy="123.7" r="1.15"/>
<circle cx="118.37" cy="111.46" r="1.15"/>
<circle cx="118.39" cy="120.64" r="1.15"/>
<circle cx="118.49" cy="112.96" r="1.15"/>
<circle cx="119.04" cy="109.09" r="1.15"/>
<circle cx="118.51" cy="112.73" r="1.15"/>
<circle cx="118.27" cy="116.73" r="1.15"/>
<circle cx="119.04" cy="110.57" r="1.15"/>
<circle cx="118.82" cy="113.4" r="1.15"/>
<circle cx="119.19" cy="106.86" r="1.15"/>
<circle cx="119.42" cy="111.42" r="1.15"/>
<circle cx="118.92" cy="97.93" r="1.15"/>
<circle cx="118.67" cy="101.5" r="1.15"/>
<circle cx="132.45" cy="93.3" r="1.15"/>
<circle cx="132.54" cy="100.5" r="1.15"/>
<circle cx="132.43" cy="107.7" r="1.15"/>
<circle cx="132.54" cy="112.5" r="1.15"/>
<circle cx="132.23" cy="129.3" r="1.15"/>
<circle cx="131.96" cy="118.41" r="1.15"/>
<circle cx="131.8" cy="118.37" r="1.15"/>
<circle cx="132.37" cy="122.39" r="1.15"/>
<circle cx="132.28" cy="120.4" r="1.15"/>
<circle cx="132.3" cy="122.53" r="1.15"/>
<circle cx="132.06" cy="119.82" r="1.15"/>
<circle cx="132.78" cy="120.33" r="1.15"/>
<circle cx="132.01" cy="125.15" r="1.15"/>
<circle cx="145.75" cy="63.3" r="1.15"/>
<circle cx="146.09" cy="129.3" r="1.15"/>
<circle cx="146.19" cy="124.5" r="1.15"/>
<circle cx="146.07" cy="117.3" r="1.15"/>
<circle cx="146.32" cy="92.69" r="1.15"/>
<circle cx="145.64" cy="102.73" r="1.15"/>
<circle cx="145.96" cy="105.17" r="1.15"/>
<circle cx="146" cy="69.02" r="1.15"/>
<circle cx="145.69" cy="83.44" r="1.15"/>
<circle cx="145.95" cy="84.43" r="1.15"/>
<circle cx="145.38" cy="97.32" r="1.15"/>
<circle cx="146.02" cy="96.69" r="1.15"/>
<circle cx="146.13" cy="89.66" r="1.15"/>
<circle cx="145.98" cy="97" r="1.15"/>
<circle cx="145.79" cy="91.85" r="1.15"/>
<circle cx="145.92" cy="75.74" r="1.15"/>
<circle cx="145.28" cy="94.02" r="1.15"/>
<circle cx="145.78" cy="94.63" r="1.15"/>
<circle cx="146.14" cy="71.56" r="1.15"/>
<circle cx="146.1" cy="88.11" r="1.15"/>
<circle cx="145.88" cy="104.79" r="1.15"/>
<circle cx="146.28" cy="93.17" r="1.15"/>
<circle cx="145.73" cy="87.02" r="1.15"/>
<circle cx="146.01" cy="103.65" r="1.15"/>
<circle cx="146.21" cy="94.49" r="1.15"/>
<circle cx="146.44" cy="85.69" r="1.15"/>
<circle cx="145.95" cy="79.42" r="1.15"/>
<circle cx="146.11" cy="88.65" r="1.15"/>
<circle cx="146.27" cy="78.36" r="1.15"/>
<circle cx="146.4" cy="91.83" r="1.15"/>
<circle cx="146.22" cy="93.39" r="1.15"/>
<circle cx="146.1" cy="80.37" r="1.15"/>
<circle cx="145.89" cy="93.65" r="1.15"/>
<circle cx="145.97" cy="82.8" r="1.15"/>
<circle cx="145.71" cy="97.73" r="1.15"/>
<circle cx="146.55" cy="94.39" r="1.15"/>
<circle cx="146.51" cy="98.68" r="1.15"/>
<circle cx="145.9" cy="89.72" r="1.15"/>
<circle cx="146.52" cy="99.31" r="1.15"/>
<circle cx="145.4" cy="98.07" r="1.15"/>
<circle cx="145.52" cy="97.76" r="1.15"/>
<circle cx="146.04" cy="91.71" r="1.15"/>
<circle cx="145.72" cy="95.3" r="1.15"/>
<circle cx="145.83" cy="92.18" r="1.15"/>
<circle cx="146.13" cy="69.68" r="1.15"/>
<circle cx="145.7" cy="86.16" r="1.15"/>
<circle cx="145.85" cy="79.5" r="1.15"/>
<circle cx="145.66" cy="98.05" r="1.15"/>
<circle cx="146.31" cy="93.61" r="1.15"/>
<circle cx="145.82" cy="102.91" r="1.15"/>
<circle cx="145.57" cy="85.79" r="1.15"/>
<circle cx="146.1" cy="94.05" r="1.15"/>
<circle cx="145.86" cy="96.14" r="1.15"/>
<circle cx="145.9" cy="106.47" r="1.15"/>
<circle cx="146.02" cy="98.73" r="1.15"/>
<circle cx="146.26" cy="96.45" r="1.15"/>
<circle cx="146.1" cy="93.39" r="1.15"/>
<circle cx="146.09" cy="76.3" r="1.15"/>
<circle cx="146.08" cy="85.05" r="1.15"/>
<circle cx="146.54" cy="96.29" r="1.15"/>
<circle cx="146.77" cy="94.09" r="1.15"/>
<circle cx="145.84" cy="99.66" r="1.15"/>
<circle cx="145.96" cy="75.46" r="1.15"/>
<circle cx="146.64" cy="94.12" r="1.15"/>
<circle cx="145.89" cy="83.36" r="1.15"/>
<circle cx="146.21" cy="84.78" r="1.15"/>
<circle cx="146.13" cy="77.26" r="1.15"/>
<circle cx="146.12" cy="106.29" r="1.15"/>
<circle cx="146.77" cy="94.98" r="1.15"/>
<circle cx="146.53" cy="93.58" r="1.15"/>
<circle cx="145.75" cy="102.41" r="1.15"/>
<circle cx="146.09" cy="78.56" r="1.15"/>
<circle cx="146.01" cy="94.9" r="1.15"/>
<circle cx="146.08" cy="83.18" r="1.15"/>
<circle cx="145.87" cy="90.47" r="1.15"/>
<circle cx="145.87" cy="103.86" r="1.15"/>
<circle cx="146.41" cy="93.37" r="1.15"/>
<circle cx="146.08" cy="97.09" r="1.15"/>
<circle cx="145.86" cy="104.72" r="1.15"/>
<circle cx="145.75" cy="99.75" r="1.15"/>
<circle cx="145.85" cy="88.53" r="1.15"/>
<circle cx="145.84" cy="105.35" r="1.15"/>
<circle cx="146.05" cy="95.21" r="1.15"/>
<circle cx="145.48" cy="92.7" r="1.15"/>
<circle cx="145.53" cy="89.86" r="1.15"/>
<circle cx="145.57" cy="100.27" r="1.15"/>
<circle cx="145.68" cy="85.32" r="1.15"/>
<circle cx="146.34" cy="96.5" r="1.15"/>
<circle cx="145.7" cy="84.71" r="1.15"/>
<circle cx="145.98" cy="86.54" r="1.15"/>
<circle cx="146.33" cy="99.88" r="1.15"/>
<circle cx="146" cy="98.04" r="1.15"/>
<circle cx="145.5" cy="95.99" r="1.15"/>
<circle cx="146.35" cy="85.12" r="1.15"/>
<circle cx="146.59" cy="93.12" r="1.15"/>
<circle cx="145.34" cy="93.53" r="1.15"/>
<circle cx="145.89" cy="79.35" r="1.15"/>
<circle cx="146.04" cy="97.43" r="1.15"/>
<circle cx="146.5" cy="95.7" r="1.15"/>
<circle cx="145.86" cy="94.45" r="1.15"/>
<circle cx="146.33" cy="97.72" r="1.15"/>
<circle cx="145.87" cy="104.72" r="1.15"/>
<circle cx="146.15" cy="105.93" r="1.15"/>
<circle cx="145.86" cy="87.57" r="1.15"/>
<circle cx="145.85" cy="89.3" r="1.15"/>
<circle cx="146.2" cy="81.77" r="1.15"/>
<circle cx="146.13" cy="72.21" r="1.15"/>
<circle cx="146.55" cy="95.55" r="1.15"/>
<circle cx="146.09" cy="86.42" r="1.15"/>
<circle cx="145.99" cy="76.57" r="1.15"/>
<circle cx="146.32" cy="97.71" r="1.15"/>
<circle cx="146.14" cy="85.85" r="1.15"/>
<circle cx="146.34" cy="86.53" r="1.15"/>
<circle cx="146.14" cy="74.1" r="1.15"/>
<circle cx="145.82" cy="79.24" r="1.15"/>
<circle cx="145.85" cy="97.19" r="1.15"/>
<circle cx="146.2" cy="87.51" r="1.15"/>
<circle cx="145.8" cy="102.11" r="1.15"/>
<circle cx="145.57" cy="92.62" r="1.15"/>
<circle cx="145.28" cy="93.4" r="1.15"/>
<circle cx="146.09" cy="103.57" r="1.15"/>
<circle cx="146.71" cy="93.6" r="1.15"/>
<circle cx="146.78" cy="94.83" r="1.15"/>
<circle cx="145.56" cy="91.01" r="1.15"/>
<circle cx="146.32" cy="96" r="1.15"/>
<circle cx="145.93" cy="99.49" r="1.15"/>
<circle cx="146.23" cy="93.18" r="1.15"/>
<circle cx="145.89" cy="91.53" r="1.15"/>
<circle cx="146.55" cy="99.22" r="1.15"/>
<circle cx="146.49" cy="86.57" r="1.15"/>
<circle cx="145.36" cy="97.05" r="1.15"/>
<circle cx="146.21" cy="101.97" r="1.15"/>
<circle cx="145.42" cy="94.52" r="1.15"/>
<circle cx="145.35" cy="92.74" r="1.15"/>
<circle cx="159.33" cy="82.5" r="1.15"/>
<circle cx="159.34" cy="89.94" r="1.15"/>
<circle cx="159.88" cy="94.5" r="1.15"/>
<circle cx="159.61" cy="98.1" r="1.15"/>
<circle cx="172.99" cy="75.3" r="1.15"/>
<circle cx="173.4" cy="135.3" r="1.15"/>
<circle cx="173.21" cy="117.3" r="1.15"/>
<circle cx="173.51" cy="122.89" r="1.15"/>
<circle cx="173.24" cy="112.39" r="1.15"/>
<circle cx="173.51" cy="114.14" r="1.15"/>
<circle cx="173.44" cy="109.31" r="1.15"/>
<circle cx="173.86" cy="117.02" r="1.15"/>
<circle cx="173.8" cy="100.82" r="1.15"/>
<circle cx="173.27" cy="109.22" r="1.15"/>
<circle cx="173.34" cy="130.73" r="1.15"/>
<circle cx="172.91" cy="111.4" r="1.15"/>
<circle cx="173.46" cy="88.46" r="1.15"/>
<circle cx="173.2" cy="131.11" r="1.15"/>
<circle cx="173.07" cy="106.17" r="1.15"/>
<circle cx="173.52" cy="89.02" r="1.15"/>
<circle cx="172.62" cy="112.57" r="1.15"/>
<circle cx="173.62" cy="106.02" r="1.15"/>
<circle cx="173.45" cy="112.48" r="1.15"/>
<circle cx="173.41" cy="114.56" r="1.15"/>
<circle cx="173.11" cy="105.68" r="1.15"/>
<circle cx="172.84" cy="106.29" r="1.15"/>
<circle cx="173.99" cy="114.12" r="1.15"/>
<circle cx="173.76" cy="108.94" r="1.15"/>
<circle cx="173.81" cy="108.42" r="1.15"/>
<circle cx="172.9" cy="100.65" r="1.15"/>
<circle cx="173.53" cy="125.9" r="1.15"/>
<circle cx="173.12" cy="123.25" r="1.15"/>
<circle cx="172.99" cy="116.23" r="1.15"/>
<circle cx="173.39" cy="115.6" r="1.15"/>
<circle cx="173.45" cy="98.93" r="1.15"/>
<circle cx="172.74" cy="110.88" r="1.15"/>
<circle cx="173.53" cy="95.89" r="1.15"/>
<circle cx="173.47" cy="111.52" r="1.15"/>
<circle cx="173.87" cy="115.07" r="1.15"/>
<circle cx="173.88" cy="103.36" r="1.15"/>
<circle cx="173.49" cy="123.69" r="1.15"/>
<circle cx="173.29" cy="86.22" r="1.15"/>
<circle cx="173.72" cy="97.31" r="1.15"/>
<circle cx="173.67" cy="113.71" r="1.15"/>
<circle cx="173.04" cy="114.05" r="1.15"/>
<circle cx="173.66" cy="97.87" r="1.15"/>
<circle cx="173.57" cy="99.24" r="1.15"/>
<circle cx="173.03" cy="104.62" r="1.15"/>
<circle cx="173.18" cy="125.62" r="1.15"/>
<circle cx="172.82" cy="100.26" r="1.15"/>
<circle cx="173.37" cy="126.3" r="1.15"/>
<circle cx="173.01" cy="105.19" r="1.15"/>
<circle cx="173.03" cy="107.4" r="1.15"/>
<circle cx="173.21" cy="91.81" r="1.15"/>
<circle cx="172.85" cy="104.74" r="1.15"/>
<circle cx="173.34" cy="128.78" r="1.15"/>
<circle cx="173.22" cy="91.29" r="1.15"/>
<circle cx="173.1" cy="100.69" r="1.15"/>
<circle cx="173.02" cy="106.58" r="1.15"/>
<circle cx="173.35" cy="131.44" r="1.15"/>
<circle cx="173.77" cy="101.3" r="1.15"/>
<circle cx="172.8" cy="111.08" r="1.15"/>
<circle cx="173.79" cy="103.37" r="1.15"/>
<circle cx="173.47" cy="86.28" r="1.15"/>
<circle cx="173.4" cy="92.55" r="1.15"/>
<circle cx="173.38" cy="124.35" r="1.15"/>
<circle cx="173.58" cy="99.53" r="1.15"/>
<circle cx="173.4" cy="110.47" r="1.15"/>
<circle cx="173.52" cy="100.74" r="1.15"/>
<circle cx="174" cy="112.22" r="1.15"/>
<circle cx="173.78" cy="110.28" r="1.15"/>
<circle cx="172.96" cy="110.57" r="1.15"/>
<circle cx="172.98" cy="121.87" r="1.15"/>
<circle cx="173.98" cy="113.97" r="1.15"/>
<circle cx="173.19" cy="101.39" r="1.15"/>
<circle cx="173.55" cy="124.58" r="1.15"/>
<circle cx="173.13" cy="121.98" r="1.15"/>
<circle cx="173.3" cy="97.19" r="1.15"/>
<circle cx="173.18" cy="103.83" r="1.15"/>
<circle cx="173.69" cy="107.51" r="1.15"/>
<circle cx="173.7" cy="122.12" r="1.15"/>
<circle cx="173.35" cy="121.85" r="1.15"/>
<circle cx="173.44" cy="114.28" r="1.15"/>
<circle cx="173.26" cy="89.68" r="1.15"/>
<circle cx="172.95" cy="107.16" r="1.15"/>
<circle cx="173.59" cy="92.17" r="1.15"/>
<circle cx="172.95" cy="117.74" r="1.15"/>
<circle cx="174.05" cy="111.17" r="1.15"/>
<circle cx="173.58" cy="107.85" r="1.15"/>
<circle cx="173" cy="96.93" r="1.15"/>
<circle cx="173.67" cy="121.6" r="1.15"/>
<circle cx="173.08" cy="95.16" r="1.15"/>
<circle cx="173.45" cy="109.62" r="1.15"/>
<circle cx="173.14" cy="127.79" r="1.15"/>
<circle cx="174.12" cy="110.7" r="1.15"/>
<circle cx="173.04" cy="112.23" r="1.15"/>
<circle cx="173.81" cy="103.55" r="1.15"/>
<circle cx="173.1" cy="91.75" r="1.15"/>
<circle cx="173.6" cy="109.05" r="1.15"/>
<circle cx="172.81" cy="103.03" r="1.15"/>
<circle cx="172.6" cy="111.93" r="1.15"/>
<circle cx="173.42" cy="99.65" r="1.15"/>
<circle cx="173.73" cy="122.55" r="1.15"/>
<circle cx="173.55" cy="101.09" r="1.15"/>
<circle cx="173.65" cy="119.57" r="1.15"/>
<circle cx="173.75" cy="106.4" r="1.15"/>
<circle cx="173.36" cy="118.1" r="1.15"/>
<circle cx="172.7" cy="113.15" r="1.15"/>
<circle cx="173.37" cy="119.69" r="1.15"/>
<circle cx="172.86" cy="113.05" r="1.15"/>
<circle cx="173.38" cy="106.23" r="1.15"/>
<circle cx="173.12" cy="108.32" r="1.15"/>
<circle cx="173.34" cy="111.91" r="1.15"/>
<circle cx="172.9" cy="106.74" r="1.15"/>
<circle cx="173.51" cy="96.79" r="1.15"/>
<circle cx="173.22" cy="112.79" r="1.15"/>
<circle cx="173.32" cy="106.46" r="1.15"/>
<circle cx="172.68" cy="109.41" r="1.15"/>
<circle cx="173.34" cy="86.73" r="1.15"/>
<circle cx="173.43" cy="113.71" r="1.15"/>
<circle cx="173.92" cy="102.75" r="1.15"/>
<circle cx="173.41" cy="116.9" r="1.15"/>
<circle cx="172.9" cy="115.9" r="1.15"/>
<circle cx="173.11" cy="101.55" r="1.15"/>
<circle cx="173.1" cy="106.72" r="1.15"/>
<circle cx="173.59" cy="116.05" r="1.15"/>
<circle cx="187.24" cy="74.1" r="1.15"/>
<circle cx="187.38" cy="131.7" r="1.15"/>
<circle cx="187.34" cy="88.47" r="1.15"/>
<circle cx="186.9" cy="118.87" r="1.15"/>
<circle cx="186.79" cy="101.47" r="1.15"/>
<circle cx="186.76" cy="99.3" r="1.15"/>
<circle cx="186.26" cy="97.07" r="1.15"/>
<circle cx="187.43" cy="98.81" r="1.15"/>
<circle cx="186.62" cy="98.8" r="1.15"/>
<circle cx="187.09" cy="88.57" r="1.15"/>
<circle cx="187.02" cy="114.13" r="1.15"/>
<circle cx="186.77" cy="100.83" r="1.15"/>
<circle cx="187.16" cy="86.96" r="1.15"/>
<circle cx="186.95" cy="117.73" r="1.15"/>
<circle cx="186.8" cy="112.87" r="1.15"/>
<circle cx="187.42" cy="91.48" r="1.15"/>
<circle cx="186.7" cy="87.12" r="1.15"/>
<circle cx="186.62" cy="118.46" r="1.15"/>
<circle cx="186.72" cy="117.72" r="1.15"/>
<circle cx="186.98" cy="92.91" r="1.15"/>
<circle cx="187.43" cy="97" r="1.15"/>
<circle cx="186.76" cy="100.81" r="1.15"/>
<circle cx="186.59" cy="99.53" r="1.15"/>
<circle cx="187.21" cy="95.16" r="1.15"/>
<circle cx="186.71" cy="93.63" r="1.15"/>
<circle cx="187.01" cy="122.49" r="1.15"/>
<circle cx="186.75" cy="115.17" r="1.15"/>
<circle cx="201.05" cy="81.3" r="1.15"/>
<circle cx="200.55" cy="114.9" r="1.15"/>
<circle cx="200.5" cy="99.29" r="1.15"/>
<circle cx="201.13" cy="93.89" r="1.15"/>
<circle cx="201.25" cy="94.6" r="1.15"/>
<circle cx="200.54" cy="92.92" r="1.15"/>
<circle cx="200.21" cy="96.27" r="1.15"/>
<circle cx="200.82" cy="104.82" r="1.15"/>
<circle cx="200.97" cy="93.34" r="1.15"/>
<circle cx="200.49" cy="100.79" r="1.15"/>
<circle cx="200.94" cy="101.32" r="1.15"/>
<circle cx="200.51" cy="97.98" r="1.15"/>
<circle cx="227.72" cy="64.5" r="1.15"/>
<circle cx="227.85" cy="75.3" r="1.15"/>
<circle cx="227.61" cy="81.3" r="1.15"/>
<circle cx="227.82" cy="123.3" r="1.15"/>
<circle cx="227.72" cy="117.3" r="1.15"/>
<circle cx="227.67" cy="111.3" r="1.15"/>
<circle cx="228.01" cy="94.22" r="1.15"/>
<circle cx="228.01" cy="103.95" r="1.15"/>
<circle cx="228.08" cy="97.21" r="1.15"/>
<circle cx="228.39" cy="98.24" r="1.15"/>
<circle cx="228" cy="102.38" r="1.15"/>
<circle cx="228.62" cy="92.8" r="1.15"/>
<circle cx="227.37" cy="100.96" r="1.15"/>
<circle cx="227.55" cy="100.11" r="1.15"/>
<circle cx="227.33" cy="93.4" r="1.15"/>
<circle cx="227.72" cy="91.81" r="1.15"/>
<circle cx="228.34" cy="92.47" r="1.15"/>
<circle cx="228.65" cy="98.61" r="1.15"/>
<circle cx="227.98" cy="92.49" r="1.15"/>
<circle cx="227.48" cy="100.99" r="1.15"/>
<circle cx="227.7" cy="95.36" r="1.15"/>
<circle cx="228.06" cy="92.17" r="1.15"/>
<circle cx="227.66" cy="100.28" r="1.15"/>
<circle cx="228.39" cy="101.08" r="1.15"/>
<circle cx="228.73" cy="95.71" r="1.15"/>
<circle cx="227.91" cy="93.33" r="1.15"/>
<circle cx="228.14" cy="95.24" r="1.15"/>
<circle cx="228.44" cy="92.09" r="1.15"/>
<circle cx="227.92" cy="97.59" r="1.15"/>
<circle cx="227.48" cy="98.32" r="1.15"/>
<circle cx="228.59" cy="101.33" r="1.15"/>
<circle cx="228.72" cy="99.32" r="1.15"/>
<circle cx="227.31" cy="92.32" r="1.15"/>
<circle cx="228.3" cy="102.24" r="1.15"/>
<circle cx="241.5" cy="105.3" r="1.15"/>
<circle cx="255.61" cy="74.1" r="1.15"/>
<circle cx="255.09" cy="135.3" r="1.15"/>
<circle cx="255.34" cy="107.48" r="1.15"/>
<circle cx="255.78" cy="89.24" r="1.15"/>
<circle cx="255.31" cy="90.04" r="1.15"/>
<circle cx="254.87" cy="108.85" r="1.15"/>
<circle cx="255.54" cy="87.74" r="1.15"/>
<circle cx="254.65" cy="99.44" r="1.15"/>
<circle cx="254.97" cy="86.99" r="1.15"/>
<circle cx="255.33" cy="95.27" r="1.15"/>
<circle cx="254.96" cy="107.39" r="1.15"/>
<circle cx="255.57" cy="109.25" r="1.15"/>
<circle cx="255.65" cy="101.87" r="1.15"/>
<circle cx="255" cy="102.8" r="1.15"/>
<circle cx="255.4" cy="122.16" r="1.15"/>
<circle cx="255.41" cy="92.2" r="1.15"/>
<circle cx="255.61" cy="101.53" r="1.15"/>
<circle cx="255.22" cy="103.2" r="1.15"/>
<circle cx="255.21" cy="96.16" r="1.15"/>
<circle cx="254.83" cy="110.33" r="1.15"/>
<circle cx="255.26" cy="112.36" r="1.15"/>
<circle cx="255.98" cy="100.38" r="1.15"/>
<circle cx="255.72" cy="110.66" r="1.15"/>
<circle cx="254.66" cy="107.58" r="1.15"/>
<circle cx="255.06" cy="119.26" r="1.15"/>
<circle cx="255.17" cy="120.63" r="1.15"/>
<circle cx="255.57" cy="106.68" r="1.15"/>
<circle cx="255.19" cy="101.75" r="1.15"/>
<circle cx="254.93" cy="87.94" r="1.15"/>
<circle cx="255.18" cy="98.95" r="1.15"/>
<circle cx="255.4" cy="104.87" r="1.15"/>
<circle cx="255.66" cy="105.1" r="1.15"/>
<circle cx="255.18" cy="110.89" r="1.15"/>
<circle cx="255.52" cy="103.18" r="1.15"/>
<circle cx="255.45" cy="87.25" r="1.15"/>
<circle cx="255.35" cy="116.05" r="1.15"/>
<circle cx="254.58" cy="104.33" r="1.15"/>
<circle cx="255.55" cy="97.78" r="1.15"/>
<circle cx="254.92" cy="95.63" r="1.15"/>
<circle cx="254.59" cy="101.03" r="1.15"/>
<circle cx="255.25" cy="98.91" r="1.15"/>
<circle cx="254.81" cy="88.6" r="1.15"/>
<circle cx="269.34" cy="95.7" r="1.15"/>
<circle cx="268.7" cy="134.1" r="1.15"/>
<circle cx="269.52" cy="120.6" r="1.15"/>
<circle cx="268.31" cy="112.53" r="1.15"/>
<circle cx="268.98" cy="104.94" r="1.15"/>
<circle cx="269.45" cy="114.07" r="1.15"/>
<circle cx="269.47" cy="113.79" r="1.15"/>
<circle cx="268.77" cy="118.22" r="1.15"/>
<circle cx="269.09" cy="114.12" r="1.15"/>
<circle cx="269.2" cy="122" r="1.15"/>
<circle cx="269.27" cy="111.36" r="1.15"/>
<circle cx="269.34" cy="116.39" r="1.15"/>
<circle cx="268.98" cy="102.86" r="1.15"/>
<circle cx="268.57" cy="119.78" r="1.15"/>
<circle cx="269.25" cy="112.82" r="1.15"/>
<circle cx="268.99" cy="129.06" r="1.15"/>
<circle cx="269.01" cy="118.54" r="1.15"/>
<circle cx="269.56" cy="111.47" r="1.15"/>
<circle cx="268.47" cy="121.31" r="1.15"/>
<circle cx="269.39" cy="114.95" r="1.15"/>
<circle cx="268.74" cy="122.11" r="1.15"/>
<circle cx="269.29" cy="118.83" r="1.15"/>
<circle cx="282.26" cy="62.1" r="1.15"/>
<circle cx="282.63" cy="69.3" r="1.15"/>
<circle cx="282.58" cy="71.7" r="1.15"/>
<circle cx="282.97" cy="131.7" r="1.15"/>
<circle cx="282.65" cy="123.3" r="1.15"/>
<circle cx="282.28" cy="117.3" r="1.15"/>
<circle cx="282.66" cy="80.42" r="1.15"/>
<circle cx="282.29" cy="99.76" r="1.15"/>
<circle cx="283.01" cy="99.78" r="1.15"/>
<circle cx="282.93" cy="92.44" r="1.15"/>
<circle cx="282.88" cy="101.62" r="1.15"/>
<circle cx="282.36" cy="82.22" r="1.15"/>
<circle cx="281.89" cy="97.33" r="1.15"/>
<circle cx="283.08" cy="95.59" r="1.15"/>
<circle cx="282.03" cy="95.74" r="1.15"/>
<circle cx="282.31" cy="87.62" r="1.15"/>
<circle cx="282.26" cy="84.66" r="1.15"/>
<circle cx="282.14" cy="91.29" r="1.15"/>
<circle cx="282.57" cy="101.05" r="1.15"/>
<circle cx="283.31" cy="97.07" r="1.15"/>
<circle cx="282.37" cy="90.65" r="1.15"/>
<circle cx="282.29" cy="99.93" r="1.15"/>
<circle cx="282.87" cy="85.89" r="1.15"/>
<circle cx="282.33" cy="86.24" r="1.15"/>
<circle cx="282.78" cy="99.69" r="1.15"/>
<circle cx="282.78" cy="96.9" r="1.15"/>
<circle cx="283.18" cy="99.64" r="1.15"/>
<circle cx="282.02" cy="90.38" r="1.15"/>
<circle cx="282.64" cy="105.35" r="1.15"/>
<circle cx="282.44" cy="90.89" r="1.15"/>
<circle cx="282.84" cy="104.63" r="1.15"/>
<circle cx="282.36" cy="87.23" r="1.15"/>
<circle cx="282.94" cy="93.86" r="1.15"/>
<circle cx="282.12" cy="93.13" r="1.15"/>
<circle cx="282.6" cy="103.35" r="1.15"/>
<circle cx="282.91" cy="105.5" r="1.15"/>
<circle cx="282.2" cy="97.11" r="1.15"/>
<circle cx="282.51" cy="80.66" r="1.15"/>
<circle cx="283.23" cy="92.82" r="1.15"/>
<circle cx="282.76" cy="86.57" r="1.15"/>
<circle cx="282.28" cy="104.63" r="1.15"/>
<circle cx="282.32" cy="103.12" r="1.15"/>
<circle cx="282.46" cy="106.94" r="1.15"/>
<circle cx="282.32" cy="90.86" r="1.15"/>
<circle cx="283" cy="100.92" r="1.15"/>
<circle cx="282.89" cy="98.68" r="1.15"/>
<circle cx="283.27" cy="91.5" r="1.15"/>
<circle cx="282.83" cy="90.89" r="1.15"/>
<circle cx="282.79" cy="97.68" r="1.15"/>
<circle cx="282.41" cy="95.15" r="1.15"/>
<circle cx="282.92" cy="98.34" r="1.15"/>
<circle cx="282.59" cy="93.53" r="1.15"/>
<circle cx="281.92" cy="97.05" r="1.15"/>
<circle cx="282.59" cy="96.98" r="1.15"/>
<circle cx="282.44" cy="99.19" r="1.15"/>
<circle cx="282.65" cy="98.28" r="1.15"/>
<circle cx="281.97" cy="98.93" r="1.15"/>
<circle cx="282.37" cy="107.31" r="1.15"/>
<circle cx="283.32" cy="97.92" r="1.15"/>
<circle cx="282.4" cy="92.97" r="1.15"/>
<circle cx="282.36" cy="98.76" r="1.15"/>
<circle cx="282.27" cy="102.75" r="1.15"/>
<circle cx="282.69" cy="87.08" r="1.15"/>
<circle cx="283.26" cy="95.12" r="1.15"/>
<circle cx="282.09" cy="94.4" r="1.15"/>
<circle cx="282.6" cy="97.89" r="1.15"/>
<circle cx="282.6" cy="85.73" r="1.15"/>
<circle cx="282.92" cy="89.56" r="1.15"/>
<circle cx="282.7" cy="92.39" r="1.15"/>
<circle cx="282.23" cy="91.65" r="1.15"/>
<circle cx="282.18" cy="90.96" r="1.15"/>
<circle cx="282.96" cy="94.6" r="1.15"/>
<circle cx="281.93" cy="96.04" r="1.15"/>
<circle cx="283.17" cy="96.44" r="1.15"/>
<circle cx="281.86" cy="94.53" r="1.15"/>
<circle cx="282.1" cy="95.13" r="1.15"/>
<circle cx="282.55" cy="94.11" r="1.15"/>
<circle cx="283.14" cy="94.04" r="1.15"/>
<circle cx="282.73" cy="88.69" r="1.15"/>
<circle cx="282.8" cy="85.54" r="1.15"/>
<circle cx="282.94" cy="99.75" r="1.15"/>
<circle cx="282.72" cy="106.84" r="1.15"/>
<circle cx="281.94" cy="98.1" r="1.15"/>
<circle cx="282.8" cy="106.2" r="1.15"/>
<circle cx="282.22" cy="88.49" r="1.15"/>
<circle cx="282.1" cy="92.43" r="1.15"/>
<circle cx="281.93" cy="98.41" r="1.15"/>
<circle cx="282.03" cy="100.54" r="1.15"/>
<circle cx="282.93" cy="86.37" r="1.15"/>
<circle cx="282.49" cy="87.38" r="1.15"/>
<circle cx="282.04" cy="91.15" r="1.15"/>
<circle cx="281.99" cy="90.97" r="1.15"/>
<circle cx="283.02" cy="89.78" r="1.15"/>
<circle cx="282.76" cy="95.36" r="1.15"/>
<circle cx="283.26" cy="96.31" r="1.15"/>
<circle cx="281.88" cy="93.69" r="1.15"/>
<circle cx="282.27" cy="85.97" r="1.15"/>
<circle cx="282.52" cy="79.92" r="1.15"/>
<circle cx="282.38" cy="84.59" r="1.15"/>
<circle cx="282.22" cy="87.4" r="1.15"/>
<circle cx="282.36" cy="104.14" r="1.15"/>
<circle cx="282.79" cy="99.23" r="1.15"/>
<circle cx="282.43" cy="81.77" r="1.15"/>
<circle cx="282.08" cy="93.85" r="1.15"/>
<circle cx="282.66" cy="94.35" r="1.15"/>
<circle cx="282.41" cy="97.93" r="1.15"/>
<circle cx="282.29" cy="86.58" r="1.15"/>
<circle cx="282.71" cy="94.32" r="1.15"/>
<circle cx="282.6" cy="80.05" r="1.15"/>
<circle cx="282.51" cy="104.09" r="1.15"/>
<circle cx="282.59" cy="79.66" r="1.15"/>
<circle cx="282.38" cy="107.57" r="1.15"/>
<circle cx="282.72" cy="101.68" r="1.15"/>
<circle cx="282.12" cy="96.45" r="1.15"/>
<circle cx="282.36" cy="92.05" r="1.15"/>
<circle cx="282.14" cy="102.83" r="1.15"/>
<circle cx="283.2" cy="93.51" r="1.15"/>
<circle cx="282.66" cy="83.59" r="1.15"/>
<circle cx="282.43" cy="95.67" r="1.15"/>
<circle cx="282.65" cy="89.35" r="1.15"/>
<circle cx="283.27" cy="92.97" r="1.15"/>
<circle cx="282.03" cy="93.15" r="1.15"/>
<circle cx="282.46" cy="101" r="1.15"/>
<circle cx="282.93" cy="95.2" r="1.15"/>
<circle cx="282.5" cy="85.25" r="1.15"/>
<circle cx="282.89" cy="91.35" r="1.15"/>
<circle cx="283.13" cy="99.92" r="1.15"/>
<circle cx="281.87" cy="95.48" r="1.15"/>
<circle cx="282.26" cy="93.85" r="1.15"/>
<circle cx="282.28" cy="97.41" r="1.15"/>
<circle cx="282.99" cy="93.23" r="1.15"/>
<circle cx="283.02" cy="92.21" r="1.15"/>
<circle cx="282.7" cy="107.18" r="1.15"/>
<circle cx="283.15" cy="99.84" r="1.15"/>
<circle cx="282.15" cy="91.71" r="1.15"/>
<circle cx="282.46" cy="99.98" r="1.15"/>
<circle cx="295.94" cy="88.5" r="1.15"/>
<circle cx="295.89" cy="138.9" r="1.15"/>
<circle cx="296.44" cy="108.11" r="1.15"/>
<circle cx="296.24" cy="100.56" r="1.15"/>
<circle cx="296.7" cy="121.64" r="1.15"/>
<circle cx="296.71" cy="112.19" r="1.15"/>
<circle cx="295.94" cy="122.97" r="1.15"/>
<circle cx="295.9" cy="128.9" r="1.15"/>
<circle cx="296.41" cy="116.3" r="1.15"/>
<circle cx="296.22" cy="122.26" r="1.15"/>
<circle cx="295.99" cy="109.52" r="1.15"/>
<circle cx="296.92" cy="113.12" r="1.15"/>
<circle cx="295.83" cy="110.9" r="1.15"/>
<circle cx="296.33" cy="100.47" r="1.15"/>
<circle cx="295.86" cy="127.42" r="1.15"/>
<circle cx="296.7" cy="125.43" r="1.15"/>
<circle cx="296.61" cy="128.87" r="1.15"/>
<circle cx="296.44" cy="115.35" r="1.15"/>
<circle cx="296.07" cy="106.86" r="1.15"/>
<circle cx="296.58" cy="110.68" r="1.15"/>
<circle cx="296.9" cy="113.61" r="1.15"/>
<circle cx="296.53" cy="105.8" r="1.15"/>
<circle cx="295.62" cy="117.23" r="1.15"/>
<circle cx="296.26" cy="124.8" r="1.15"/>
<circle cx="295.71" cy="111.65" r="1.15"/>
<circle cx="296.29" cy="129.67" r="1.15"/>
<circle cx="296.76" cy="120.85" r="1.15"/>
<circle cx="296.53" cy="129.33" r="1.15"/>
<circle cx="295.98" cy="122.98" r="1.15"/>
<circle cx="296.31" cy="127.11" r="1.15"/>
<circle cx="295.97" cy="113.93" r="1.15"/>
<circle cx="295.9" cy="124.2" r="1.15"/>
<circle cx="296.64" cy="112.48" r="1.15"/>
<circle cx="296.53" cy="106.87" r="1.15"/>
<circle cx="296.04" cy="117.87" r="1.15"/>
<circle cx="296.17" cy="124.51" r="1.15"/>
<circle cx="296.55" cy="110.97" r="1.15"/>
<circle cx="296.56" cy="109.58" r="1.15"/>
<circle cx="296.23" cy="104.77" r="1.15"/>
<circle cx="295.65" cy="113.49" r="1.15"/>
<circle cx="295.62" cy="112.92" r="1.15"/>
<circle cx="295.96" cy="105.56" r="1.15"/>
<circle cx="296.73" cy="110.83" r="1.15"/>
<circle cx="296.26" cy="99.92" r="1.15"/>
<circle cx="296.43" cy="119.28" r="1.15"/>
<circle cx="296.09" cy="108.35" r="1.15"/>
<circle cx="296.06" cy="111.84" r="1.15"/>
<circle cx="295.75" cy="115.17" r="1.15"/>
<circle cx="296.51" cy="131.23" r="1.15"/>
<circle cx="296.42" cy="115.01" r="1.15"/>
<circle cx="295.83" cy="119.91" r="1.15"/>
<circle cx="296.58" cy="112.52" r="1.15"/>
<circle cx="296.41" cy="114.36" r="1.15"/>
<circle cx="296.44" cy="114.34" r="1.15"/>
<circle cx="296.51" cy="127.4" r="1.15"/>
<circle cx="296.37" cy="124.07" r="1.15"/>
<circle cx="296.85" cy="112.4" r="1.15"/>
<circle cx="296.94" cy="110.72" r="1.15"/>
<circle cx="296.22" cy="98.29" r="1.15"/>
<circle cx="296.43" cy="107.83" r="1.15"/>
<circle cx="296.11" cy="119.2" r="1.15"/>
<circle cx="296.12" cy="115.43" r="1.15"/>
<circle cx="296.04" cy="114.43" r="1.15"/>
<circle cx="296.42" cy="107.49" r="1.15"/>
<circle cx="296.05" cy="116.73" r="1.15"/>
<circle cx="296.16" cy="103.21" r="1.15"/>
<circle cx="296.8" cy="114.86" r="1.15"/>
<circle cx="296.69" cy="116.65" r="1.15"/>
<circle cx="296.53" cy="114.94" r="1.15"/>
<circle cx="296.72" cy="117.57" r="1.15"/>
<circle cx="296.23" cy="96.21" r="1.15"/>
<circle cx="296.38" cy="128.15" r="1.15"/>
<circle cx="295.9" cy="116.62" r="1.15"/>
<circle cx="296.07" cy="126.31" r="1.15"/>
<circle cx="295.68" cy="110.82" r="1.15"/>
<circle cx="296.58" cy="123.36" r="1.15"/>
<circle cx="296.72" cy="123.42" r="1.15"/>
<circle cx="295.96" cy="116.1" r="1.15"/>
<circle cx="296.07" cy="112.5" r="1.15"/>
<circle cx="295.79" cy="108.65" r="1.15"/>
<circle cx="295.71" cy="115.66" r="1.15"/>
<circle cx="296.42" cy="119.08" r="1.15"/>
<circle cx="296.8" cy="117.33" r="1.15"/>
<circle cx="295.92" cy="104.6" r="1.15"/>
<circle cx="295.98" cy="121.33" r="1.15"/>
<circle cx="296.4" cy="131.15" r="1.15"/>
<circle cx="296.03" cy="104.7" r="1.15"/>
<circle cx="296.85" cy="114.88" r="1.15"/>
<circle cx="296.1" cy="124.04" r="1.15"/>
<circle cx="296.23" cy="123.9" r="1.15"/>
<circle cx="296.02" cy="104.52" r="1.15"/>
<circle cx="295.99" cy="109.04" r="1.15"/>
<circle cx="296.19" cy="127.08" r="1.15"/>
<circle cx="295.93" cy="110.88" r="1.15"/>
<circle cx="296.51" cy="121.31" r="1.15"/>
<circle cx="295.54" cy="115.63" r="1.15"/>
<circle cx="296.47" cy="112.44" r="1.15"/>
<circle cx="296.53" cy="127.86" r="1.15"/>
<circle cx="296.15" cy="102.47" r="1.15"/>
<circle cx="295.86" cy="118.09" r="1.15"/>
<circle cx="295.84" cy="123.61" r="1.15"/>
<circle cx="295.76" cy="108.19" r="1.15"/>
<circle cx="323.3" cy="99.3" r="1.15"/>
<circle cx="323.62" cy="110.7" r="1.15"/>
<circle cx="323.29" cy="117.3" r="1.15"/>
<circle cx="351.19" cy="87.9" r="1.15"/>
<circle cx="350.49" cy="102.9" r="1.15"/>
<circle cx="350.67" cy="115.5" r="1.15"/>
<circle cx="350.99" cy="119.7" r="1.15"/>
<circle cx="351.19" cy="124.5" r="1.15"/>
<circle cx="351.11" cy="131.7" r="1.15"/>
<circle cx="364.18" cy="62.1" r="1.15"/>
<circle cx="364.52" cy="120.9" r="1.15"/>
<circle cx="364.6" cy="118.5" r="1.15"/>
<circle cx="363.85" cy="85.89" r="1.15"/>
<circle cx="364.24" cy="89.85" r="1.15"/>
<circle cx="363.95" cy="80.22" r="1.15"/>
<circle cx="365.09" cy="91.96" r="1.15"/>
<circle cx="364.44" cy="71.41" r="1.15"/>
<circle cx="364.02" cy="96.33" r="1.15"/>
<circle cx="364.32" cy="87.41" r="1.15"/>
<circle cx="364.15" cy="95.29" r="1.15"/>
<circle cx="364.51" cy="106.38" r="1.15"/>
<circle cx="364.71" cy="93" r="1.15"/>
<circle cx="364.71" cy="76.58" r="1.15"/>
<circle cx="363.97" cy="93.29" r="1.15"/>
<circle cx="364.6" cy="88.34" r="1.15"/>
<circle cx="363.85" cy="87.56" r="1.15"/>
<circle cx="364.46" cy="94.04" r="1.15"/>
<circle cx="365.03" cy="87.32" r="1.15"/>
<circle cx="364.32" cy="102.14" r="1.15"/>
<circle cx="365.01" cy="91.7" r="1.15"/>
<circle cx="364.18" cy="93.49" r="1.15"/>
<circle cx="364.41" cy="79.77" r="1.15"/>
<circle cx="364.95" cy="81.26" r="1.15"/>
<circle cx="363.79" cy="83.28" r="1.15"/>
<circle cx="364.63" cy="85.96" r="1.15"/>
<circle cx="364.58" cy="77.84" r="1.15"/>
<circle cx="364.85" cy="82.14" r="1.15"/>
<circle cx="364.94" cy="102.78" r="1.15"/>
<circle cx="364.75" cy="98.86" r="1.15"/>
<circle cx="364.15" cy="81.94" r="1.15"/>
<circle cx="364.18" cy="78.88" r="1.15"/>
<circle cx="364.53" cy="70" r="1.15"/>
<circle cx="364.24" cy="81.1" r="1.15"/>
<circle cx="364.6" cy="97.73" r="1.15"/>
<circle cx="363.89" cy="86.6" r="1.15"/>
<circle cx="364.85" cy="85.26" r="1.15"/>
<circle cx="364.41" cy="85.73" r="1.15"/>
<circle cx="364.05" cy="98.68" r="1.15"/>
<circle cx="364.25" cy="72.22" r="1.15"/>
<circle cx="365.22" cy="87.86" r="1.15"/>
<circle cx="365.03" cy="93.96" r="1.15"/>
<circle cx="364.8" cy="71.03" r="1.15"/>
<circle cx="364.38" cy="90.79" r="1.15"/>
<circle cx="365" cy="101.86" r="1.15"/>
<circle cx="364.03" cy="84.13" r="1.15"/>
<circle cx="364.86" cy="94.23" r="1.15"/>
<circle cx="365.12" cy="95.56" r="1.15"/>
<circle cx="364.13" cy="92.97" r="1.15"/>
<circle cx="363.75" cy="85.67" r="1.15"/>
<circle cx="364.01" cy="92.49" r="1.15"/>
<circle cx="363.89" cy="84.24" r="1.15"/>
<circle cx="364.85" cy="76.11" r="1.15"/>
<circle cx="364.6" cy="69.77" r="1.15"/>
<circle cx="364.52" cy="76.88" r="1.15"/>
<circle cx="364.17" cy="75.29" r="1.15"/>
<circle cx="364.74" cy="94.43" r="1.15"/>
<circle cx="364.09" cy="79.46" r="1.15"/>
<circle cx="364.18" cy="100.77" r="1.15"/>
<circle cx="364.69" cy="86.27" r="1.15"/>
<circle cx="364.68" cy="101.54" r="1.15"/>
<circle cx="364.85" cy="100.3" r="1.15"/>
<circle cx="364.83" cy="73.68" r="1.15"/>
<circle cx="364.15" cy="99.01" r="1.15"/>
<circle cx="364.25" cy="82.83" r="1.15"/>
<circle cx="363.98" cy="87.49" r="1.15"/>
<circle cx="364.54" cy="109.01" r="1.15"/>
<circle cx="363.92" cy="80.52" r="1.15"/>
<circle cx="364.88" cy="102.43" r="1.15"/>
<circle cx="364.74" cy="76.98" r="1.15"/>
<circle cx="364.93" cy="79.66" r="1.15"/>
<circle cx="364.52" cy="88.17" r="1.15"/>
<circle cx="365.16" cy="89.3" r="1.15"/>
<circle cx="364.78" cy="104.9" r="1.15"/>
<circle cx="365.04" cy="83.3" r="1.15"/>
<circle cx="364.79" cy="103.94" r="1.15"/>
<circle cx="364.1" cy="87.52" r="1.15"/>
<circle cx="364.39" cy="75.08" r="1.15"/>
<circle cx="363.85" cy="83.89" r="1.15"/>
<circle cx="364.82" cy="99.47" r="1.15"/>
<circle cx="364.5" cy="82.72" r="1.15"/>
<circle cx="365.28" cy="83.26" r="1.15"/>
<circle cx="364.24" cy="92.23" r="1.15"/>
<circle cx="364.45" cy="81.21" r="1.15"/>
<circle cx="365.13" cy="86.34" r="1.15"/>
<circle cx="365.23" cy="90.08" r="1.15"/>
<circle cx="364.95" cy="87.52" r="1.15"/>
<circle cx="365.08" cy="93.75" r="1.15"/>
<circle cx="365.14" cy="93.42" r="1.15"/>
<circle cx="364.3" cy="76.88" r="1.15"/>
<circle cx="364.71" cy="91.69" r="1.15"/>
<circle cx="363.94" cy="81.22" r="1.15"/>
<circle cx="364.8" cy="91.24" r="1.15"/>
<circle cx="365.1" cy="96.52" r="1.15"/>
<circle cx="364.54" cy="108.93" r="1.15"/>
<circle cx="364.26" cy="72.63" r="1.15"/>
<circle cx="364.64" cy="81.83" r="1.15"/>
<circle cx="364.26" cy="70.93" r="1.15"/>
<circle cx="364.48" cy="86.1" r="1.15"/>
<circle cx="364.16" cy="102.32" r="1.15"/>
<circle cx="364.45" cy="97.52" r="1.15"/>
<circle cx="364.81" cy="103.19" r="1.15"/>
<circle cx="364.93" cy="85.55" r="1.15"/>
<circle cx="365.11" cy="85.31" r="1.15"/>
<circle cx="364.51" cy="73.21" r="1.15"/>
<circle cx="364.46" cy="93.16" r="1.15"/>
<circle cx="363.95" cy="95.06" r="1.15"/>
<circle cx="364.92" cy="95.46" r="1.15"/>
<circle cx="364.62" cy="98.16" r="1.15"/>
<circle cx="364.48" cy="104.84" r="1.15"/>
<circle cx="364" cy="88.22" r="1.15"/>
<circle cx="364.48" cy="89.92" r="1.15"/>
<circle cx="363.91" cy="91.21" r="1.15"/>
<circle cx="364.21" cy="73.52" r="1.15"/>
<circle cx="363.94" cy="92.66" r="1.15"/>
<circle cx="364.45" cy="79.35" r="1.15"/>
<circle cx="363.97" cy="87.38" r="1.15"/>
<circle cx="364.88" cy="100.12" r="1.15"/>
<circle cx="364.62" cy="104.74" r="1.15"/>
<circle cx="365.13" cy="85.62" r="1.15"/>
<circle cx="364.6" cy="77.52" r="1.15"/>
<circle cx="364.25" cy="103.12" r="1.15"/>
<circle cx="364.2" cy="83.25" r="1.15"/>
<circle cx="365" cy="95.09" r="1.15"/>
<circle cx="364.67" cy="83.65" r="1.15"/>
<circle cx="364.72" cy="79.14" r="1.15"/>
<circle cx="364.74" cy="82.54" r="1.15"/>
<circle cx="363.93" cy="94.7" r="1.15"/>
<circle cx="364.2" cy="97.8" r="1.15"/>
<circle cx="364.49" cy="72.33" r="1.15"/>
<circle cx="364.89" cy="75.6" r="1.15"/>
<circle cx="364.97" cy="75.19" r="1.15"/>
<circle cx="364.69" cy="87.19" r="1.15"/>
<circle cx="377.85" cy="98.32" r="1.15"/>
<circle cx="377.93" cy="108.9" r="1.15"/>
<circle cx="377.78" cy="96.29" r="1.15"/>
<circle cx="377.92" cy="88.24" r="1.15"/>
<circle cx="378.22" cy="93.85" r="1.15"/>
<circle cx="377.9" cy="109.83" r="1.15"/>
<circle cx="378.31" cy="122.46" r="1.15"/>
<circle cx="378.3" cy="104.44" r="1.15"/>
<circle cx="378.36" cy="102.26" r="1.15"/>
<circle cx="378.19" cy="89.05" r="1.15"/>
<circle cx="378.38" cy="98.94" r="1.15"/>
<circle cx="377.88" cy="99.76" r="1.15"/>
<circle cx="378.15" cy="97.33" r="1.15"/>
<circle cx="378.5" cy="98.78" r="1.15"/>
<circle cx="377.86" cy="95.21" r="1.15"/>
<circle cx="378.57" cy="98.65" r="1.15"/>
<circle cx="378.34" cy="98.79" r="1.15"/>
<circle cx="378.63" cy="109.36" r="1.15"/>
<circle cx="378.26" cy="114.87" r="1.15"/>
<circle cx="378.26" cy="102.08" r="1.15"/>
<circle cx="378.37" cy="87.12" r="1.15"/>
<circle cx="378.12" cy="83.4" r="1.15"/>
<circle cx="378.09" cy="107.07" r="1.15"/>
<circle cx="378.09" cy="98.18" r="1.15"/>
<circle cx="378.57" cy="99.75" r="1.15"/>
<circle cx="378.5" cy="101.64" r="1.15"/>
<circle cx="377.95" cy="111.97" r="1.15"/>
<circle cx="378.54" cy="91.41" r="1.15"/>
<circle cx="378.4" cy="117.31" r="1.15"/>
<circle cx="378.2" cy="109.7" r="1.15"/>
<circle cx="405.91" cy="131.7" r="1.15"/>
<circle cx="405.51" cy="126.9" r="1.15"/>
<circle cx="405.52" cy="117.88" r="1.15"/>
<circle cx="405.01" cy="111.3" r="1.15"/>
<circle cx="404.85" cy="112.23" r="1.15"/>
<circle cx="405.74" cy="111.1" r="1.15"/>
<circle cx="405.09" cy="106.96" r="1.15"/>
<circle cx="404.81" cy="110.41" r="1.15"/>
<circle cx="404.88" cy="114.18" r="1.15"/>
<circle cx="405.54" cy="102.24" r="1.15"/>
<circle cx="405.06" cy="110.41" r="1.15"/>
<circle cx="405.17" cy="114.95" r="1.15"/>
<circle cx="405.93" cy="111.18" r="1.15"/>
<circle cx="405.47" cy="105.18" r="1.15"/>
<circle cx="405.25" cy="119.85" r="1.15"/>
<circle cx="405.77" cy="109.64" r="1.15"/>
<circle cx="406.3" cy="112.02" r="1.15"/>
<circle cx="405.69" cy="114.7" r="1.15"/>
<circle cx="405.45" cy="116.9" r="1.15"/>
<circle cx="405.57" cy="115.58" r="1.15"/>
<circle cx="405.84" cy="112.68" r="1.15"/>
<circle cx="406.05" cy="112.88" r="1.15"/>
<circle cx="405.94" cy="110.37" r="1.15"/>
<circle cx="405.15" cy="114.96" r="1.15"/>
<circle cx="405.93" cy="110.08" r="1.15"/>
<circle cx="404.88" cy="112.21" r="1.15"/>
<circle cx="405.12" cy="106.89" r="1.15"/>
<circle cx="405.52" cy="106.7" r="1.15"/>
<circle cx="405.08" cy="115.49" r="1.15"/>
<circle cx="405.54" cy="101.06" r="1.15"/>
<circle cx="405.18" cy="111.19" r="1.15"/>
<circle cx="406.19" cy="114.02" r="1.15"/>
<circle cx="405.42" cy="115.21" r="1.15"/>
<circle cx="405.92" cy="108.52" r="1.15"/>
<circle cx="406.22" cy="112.69" r="1.15"/>
<circle cx="405.45" cy="109.03" r="1.15"/>
<circle cx="405.89" cy="115.19" r="1.15"/>
<circle cx="405.51" cy="105.37" r="1.15"/>
<circle cx="405.37" cy="115.06" r="1.15"/>
<circle cx="405.2" cy="105.11" r="1.15"/>
<circle cx="405.77" cy="112.67" r="1.15"/>
<circle cx="406.18" cy="113.15" r="1.15"/>
<circle cx="405.8" cy="110.74" r="1.15"/>
<circle cx="405.22" cy="111.53" r="1.15"/>
<circle cx="405.55" cy="111.17" r="1.15"/>
<circle cx="405.29" cy="110.99" r="1.15"/>
<circle cx="405.45" cy="102.45" r="1.15"/>
<circle cx="405.84" cy="107.96" r="1.15"/>
<circle cx="405.05" cy="118.43" r="1.15"/>
<circle cx="405.51" cy="100.24" r="1.15"/>
<circle cx="405.52" cy="121.3" r="1.15"/>
<circle cx="405.24" cy="119.62" r="1.15"/>
<circle cx="405.74" cy="106.38" r="1.15"/>
<circle cx="405.16" cy="114.88" r="1.15"/>
<circle cx="405.45" cy="120.55" r="1.15"/>
<circle cx="405.2" cy="116.57" r="1.15"/>
<circle cx="405.67" cy="111.91" r="1.15"/>
<circle cx="405.45" cy="105.79" r="1.15"/>
<circle cx="405.62" cy="121.04" r="1.15"/>
<circle cx="405.42" cy="116.78" r="1.15"/>
<circle cx="405.66" cy="121.49" r="1.15"/>
<circle cx="405.55" cy="119.59" r="1.15"/>
<circle cx="404.92" cy="114.3" r="1.15"/>
<circle cx="405.5" cy="111.97" r="1.15"/>
<circle cx="405.39" cy="101.54" r="1.15"/>
<circle cx="405.23" cy="109.63" r="1.15"/>
<circle cx="405.91" cy="105.51" r="1.15"/>
<circle cx="405.48" cy="110.54" r="1.15"/>
<circle cx="405.68" cy="103.92" r="1.15"/>
<circle cx="405.04" cy="109.21" r="1.15"/>
<circle cx="405.69" cy="115.45" r="1.15"/>
<circle cx="404.92" cy="113.52" r="1.15"/>
<circle cx="405.07" cy="112.12" r="1.15"/>
<circle cx="405.14" cy="117.99" r="1.15"/>
<circle cx="405.2" cy="103.45" r="1.15"/>
<circle cx="406.17" cy="112.08" r="1.15"/>
<circle cx="406.12" cy="116.13" r="1.15"/>
<circle cx="405.3" cy="111.96" r="1.15"/>
<circle cx="405.01" cy="106.68" r="1.15"/>
<circle cx="405.85" cy="114.92" r="1.15"/>
<circle cx="405.76" cy="110.59" r="1.15"/>
<circle cx="405.08" cy="118.45" r="1.15"/>
<circle cx="405.88" cy="115.42" r="1.15"/>
<circle cx="404.97" cy="116.36" r="1.15"/>
<circle cx="405.09" cy="111.77" r="1.15"/>
<circle cx="405.89" cy="108.97" r="1.15"/>
<circle cx="405.88" cy="115.66" r="1.15"/>
<circle cx="405.16" cy="108.95" r="1.15"/>
<circle cx="405.53" cy="110.61" r="1.15"/>
<circle cx="405.87" cy="107.81" r="1.15"/>
<circle cx="405.55" cy="99.39" r="1.15"/>
<circle cx="405.55" cy="114.04" r="1.15"/>
<circle cx="419.35" cy="70.5" r="1.15"/>
<circle cx="419.55" cy="78.9" r="1.15"/>
<circle cx="419.15" cy="100.5" r="1.15"/>
<circle cx="419.15" cy="104.1" r="1.15"/>
<circle cx="419.29" cy="108.9" r="1.15"/>
<circle cx="433.21" cy="109.7" r="1.15"/>
<circle cx="433.04" cy="116.24" r="1.15"/>
<circle cx="432.75" cy="108.69" r="1.15"/>
<circle cx="432.87" cy="119.34" r="1.15"/>
<circle cx="432.41" cy="99.75" r="1.15"/>
<circle cx="432.71" cy="109.92" r="1.15"/>
<circle cx="432.67" cy="101.74" r="1.15"/>
<circle cx="432.94" cy="107.99" r="1.15"/>
<circle cx="432.61" cy="92.86" r="1.15"/>
<circle cx="433.04" cy="97.27" r="1.15"/>
<circle cx="432.45" cy="101.88" r="1.15"/>
<circle cx="432.76" cy="98.49" r="1.15"/>
<circle cx="446.5" cy="71.7" r="1.15"/>
<circle cx="446.39" cy="77.7" r="1.15"/>
<circle cx="446.11" cy="134.1" r="1.15"/>
<circle cx="446.74" cy="126.9" r="1.15"/>
<circle cx="446.33" cy="105.87" r="1.15"/>
<circle cx="446.92" cy="96.66" r="1.15"/>
<circle cx="445.87" cy="103.83" r="1.15"/>
<circle cx="446.39" cy="97.5" r="1.15"/>
<circle cx="446.55" cy="100.61" r="1.15"/>
<circle cx="446.33" cy="89.18" r="1.15"/>
<circle cx="445.82" cy="100.05" r="1.15"/>
<circle cx="447.18" cy="103.08" r="1.15"/>
<circle cx="447.19" cy="102.36" r="1.15"/>
<circle cx="446.71" cy="89.09" r="1.15"/>
<circle cx="446.56" cy="101.68" r="1.15"/>
<circle cx="446.85" cy="103.67" r="1.15"/>
<circle cx="446.64" cy="98.79" r="1.15"/>
<circle cx="446.46" cy="96.6" r="1.15"/>
<circle cx="446.32" cy="89.86" r="1.15"/>
<circle cx="446.65" cy="107.95" r="1.15"/>
<circle cx="446.39" cy="102.01" r="1.15"/>
<circle cx="446.7" cy="95.62" r="1.15"/>
<circle cx="445.79" cy="99.37" r="1.15"/>
<circle cx="446.23" cy="96.22" r="1.15"/>
<circle cx="445.98" cy="96.52" r="1.15"/>
<circle cx="446.81" cy="107.51" r="1.15"/>
<circle cx="446.47" cy="109.13" r="1.15"/>
<circle cx="446.16" cy="105.13" r="1.15"/>
<circle cx="446.94" cy="102.47" r="1.15"/>
<circle cx="446.52" cy="105.01" r="1.15"/>
<circle cx="446.15" cy="102.79" r="1.15"/>
<circle cx="446.34" cy="106.82" r="1.15"/>
<circle cx="446.12" cy="110.41" r="1.15"/>
<circle cx="445.82" cy="98.94" r="1.15"/>
<circle cx="445.98" cy="94.92" r="1.15"/>
<circle cx="447.16" cy="105.57" r="1.15"/>
<circle cx="446.96" cy="107.45" r="1.15"/>
<circle cx="446.54" cy="95.52" r="1.15"/>
<circle cx="447" cy="107.96" r="1.15"/>
<circle cx="446.54" cy="106.08" r="1.15"/>
<circle cx="446.76" cy="99.44" r="1.15"/>
<circle cx="445.85" cy="102.6" r="1.15"/>
<circle cx="446.42" cy="94.34" r="1.15"/>
<circle cx="446.65" cy="99.21" r="1.15"/>
<circle cx="460.11" cy="75.3" r="1.15"/>
<circle cx="460.1" cy="81.3" r="1.15"/>
<circle cx="460.25" cy="114.9" r="1.15"/>
<circle cx="460.58" cy="96.11" r="1.15"/>
<circle cx="460.28" cy="99.16" r="1.15"/>
<circle cx="460.67" cy="103.59" r="1.15"/>
<circle cx="459.91" cy="106.22" r="1.15"/>
<circle cx="460.76" cy="96.38" r="1.15"/>
<circle cx="460.72" cy="96.29" r="1.15"/>
<circle cx="459.9" cy="98.32" r="1.15"/>
<circle cx="459.59" cy="103.93" r="1.15"/>
<circle cx="460.3" cy="97.68" r="1.15"/>
<circle cx="460.23" cy="108.76" r="1.15"/>
<circle cx="460.67" cy="104.46" r="1.15"/>
<circle cx="460.22" cy="102.42" r="1.15"/>
<circle cx="460.39" cy="93.72" r="1.15"/>
<circle cx="460.37" cy="107.54" r="1.15"/>
<circle cx="459.76" cy="104.66" r="1.15"/>
<circle cx="460.41" cy="97.9" r="1.15"/>
<circle cx="460.04" cy="97.52" r="1.15"/>
<circle cx="459.8" cy="103.07" r="1.15"/>
<circle cx="459.92" cy="106.35" r="1.15"/>
<circle cx="459.93" cy="96.09" r="1.15"/>
<circle cx="460.38" cy="93.24" r="1.15"/>
<circle cx="460.21" cy="95" r="1.15"/>
<circle cx="459.88" cy="99.84" r="1.15"/>
<circle cx="459.69" cy="106.14" r="1.15"/>
<circle cx="460.6" cy="97.82" r="1.15"/>
<circle cx="460.54" cy="98.94" r="1.15"/>
<circle cx="460.67" cy="96.47" r="1.15"/>
<circle cx="460.6" cy="97.56" r="1.15"/>
<circle cx="459.53" cy="100.47" r="1.15"/>
<circle cx="459.93" cy="92.97" r="1.15"/>
<circle cx="473.41" cy="86.1" r="1.15"/>
<circle cx="473.76" cy="100.5" r="1.15"/>
<circle cx="487.57" cy="89.7" r="1.15"/>
<circle cx="487.08" cy="116.1" r="1.15"/>
<circle cx="500.76" cy="81.3" r="1.15"/>
<circle cx="501.39" cy="89.7" r="1.15"/>
<circle cx="501.07" cy="95.7" r="1.15"/>
<circle cx="500.74" cy="120.74" r="1.15"/>
<circle cx="500.89" cy="121.18" r="1.15"/>
<circle cx="501.19" cy="107.37" r="1.15"/>
<circle cx="500.56" cy="118.56" r="1.15"/>
<circle cx="501.73" cy="113.15" r="1.15"/>
<circle cx="500.69" cy="113.27" r="1.15"/>
<circle cx="500.97" cy="115.65" r="1.15"/>
<circle cx="500.45" cy="116.37" r="1.15"/>
<circle cx="501.06" cy="120.23" r="1.15"/>
<circle cx="501.72" cy="111.78" r="1.15"/>
<circle cx="500.62" cy="116.05" r="1.15"/>
<circle cx="500.64" cy="113.07" r="1.15"/>
<circle cx="501.16" cy="109.75" r="1.15"/>
<circle cx="501.25" cy="122" r="1.15"/>
<circle cx="500.54" cy="115.32" r="1.15"/>
<circle cx="500.68" cy="116.33" r="1.15"/>
<circle cx="501.17" cy="107.09" r="1.15"/>
<circle cx="500.73" cy="112.81" r="1.15"/>
<circle cx="500.49" cy="119" r="1.15"/>
<circle cx="501.43" cy="114.85" r="1.15"/>
<circle cx="501.31" cy="124.75" r="1.15"/>
<circle cx="501.6" cy="114.14" r="1.15"/>
<circle cx="501.45" cy="122.2" r="1.15"/>
<circle cx="500.77" cy="120.29" r="1.15"/>
<circle cx="500.81" cy="114.21" r="1.15"/>
<circle cx="501.27" cy="113.84" r="1.15"/>
<circle cx="501.27" cy="118.69" r="1.15"/>
<circle cx="501.31" cy="113.29" r="1.15"/>
<circle cx="501.19" cy="116.97" r="1.15"/>
<circle cx="500.77" cy="111.68" r="1.15"/>
<circle cx="515.1" cy="93.32" r="1.15"/>
<circle cx="514.65" cy="107.37" r="1.15"/>
<circle cx="514.97" cy="84.53" r="1.15"/>
<circle cx="515" cy="80.11" r="1.15"/>
<circle cx="514.64" cy="104.74" r="1.15"/>
<circle cx="514.96" cy="79.58" r="1.15"/>
<circle cx="514.63" cy="92.31" r="1.15"/>
<circle cx="514.59" cy="113.86" r="1.15"/>
<circle cx="514.66" cy="97.71" r="1.15"/>
<circle cx="514.25" cy="98.26" r="1.15"/>
<circle cx="515.05" cy="99.59" r="1.15"/>
<circle cx="514.58" cy="108.4" r="1.15"/>
<circle cx="514.77" cy="101.45" r="1.15"/>
<circle cx="514.97" cy="112.19" r="1.15"/>
<circle cx="514.91" cy="96.21" r="1.15"/>
<circle cx="515.32" cy="95.49" r="1.15"/>
<circle cx="515.02" cy="101.81" r="1.15"/>
<circle cx="514.95" cy="82.27" r="1.15"/>
<circle cx="514.97" cy="84.13" r="1.15"/>
<circle cx="515.02" cy="95.11" r="1.15"/>
</g>
<line x1="40.63" y1="109.74" x2="46.63" y2="109.74" stroke="#111" stroke-width="1.6"/>
<line x1="54.29" y1="104.82" x2="60.29" y2="104.82" stroke="#111" stroke-width="1.6"/>
<line x1="61.09" y1="110.1" x2="67.09" y2="110.1" stroke="#111" stroke-width="1.6"/>
<line x1="67.94" y1="106.5" x2="73.94" y2="106.5" stroke="#111" stroke-width="1.6"/>
<line x1="74.74" y1="107.1" x2="80.74" y2="107.1" stroke="#111" stroke-width="1.6"/>
<line x1="81.6" y1="113.7" x2="87.6" y2="113.7" stroke="#111" stroke-width="1.6"/>
<line x1="95.26" y1="109.26" x2="101.26" y2="109.26" stroke="#111" stroke-width="1.6"/>
<line x1="102.06" y1="109.26" x2="108.06" y2="109.26" stroke="#111" stroke-width="1.6"/>
<line x1="108.91" y1="118.86" x2="114.91" y2="118.86" stroke="#111" stroke-width="1.6"/>
<line x1="115.71" y1="110.7" x2="121.71" y2="110.7" stroke="#111" stroke-width="1.6"/>
<line x1="122.57" y1="110.7" x2="128.57" y2="110.7" stroke="#111" stroke-width="1.6"/>
<line x1="129.37" y1="119.7" x2="135.37" y2="119.7" stroke="#111" stroke-width="1.6"/>
<line x1="136.23" y1="96.06" x2="142.23" y2="96.06" stroke="#111" stroke-width="1.6"/>
<line x1="143.03" y1="93.66" x2="149.03" y2="93.66" stroke="#111" stroke-width="1.6"/>
<line x1="149.89" y1="99.78" x2="155.89" y2="99.78" stroke="#111" stroke-width="1.6"/>
<line x1="156.69" y1="89.94" x2="162.69" y2="89.94" stroke="#111" stroke-width="1.6"/>
<line x1="163.54" y1="121.5" x2="169.54" y2="121.5" stroke="#111" stroke-width="1.6"/>
<line x1="170.34" y1="110.1" x2="176.34" y2="110.1" stroke="#111" stroke-width="1.6"/>
<line x1="177.2" y1="102.9" x2="183.2" y2="102.9" stroke="#111" stroke-width="1.6"/>
<line x1="184" y1="100.14" x2="190" y2="100.14" stroke="#111" stroke-width="1.6"/>
<line x1="190.86" y1="102.9" x2="196.86" y2="102.9" stroke="#111" stroke-width="1.6"/>
<line x1="197.66" y1="95.34" x2="203.66" y2="95.34" stroke="#111" stroke-width="1.6"/>
<line x1="204.51" y1="100.62" x2="210.51" y2="100.62" stroke="#111" stroke-width="1.6"/>
<line x1="218.17" y1="102.3" x2="224.17" y2="102.3" stroke="#111" stroke-width="1.6"/>
<line x1="224.97" y1="96.9" x2="230.97" y2="96.9" stroke="#111" stroke-width="1.6"/>
<line x1="231.83" y1="114.9" x2="237.83" y2="114.9" stroke="#111" stroke-width="1.6"/>
<line x1="238.63" y1="105.3" x2="244.63" y2="105.3" stroke="#111" stroke-width="1.6"/>
<line x1="245.49" y1="108.9" x2="251.49" y2="108.9" stroke="#111" stroke-width="1.6"/>
<line x1="252.29" y1="99.3" x2="258.29" y2="99.3" stroke="#111" stroke-width="1.6"/>
<line x1="259.14" y1="91.5" x2="265.14" y2="91.5" stroke="#111" stroke-width="1.6"/>
<line x1="265.94" y1="118.86" x2="271.94" y2="118.86" stroke="#111" stroke-width="1.6"/>
<line x1="272.8" y1="94.5" x2="278.8" y2="94.5" stroke="#111" stroke-width="1.6"/>
<line x1="279.6" y1="95.34" x2="285.6" y2="95.34" stroke="#111" stroke-width="1.6"/>
<line x1="286.46" y1="105.3" x2="292.46" y2="105.3" stroke="#111" stroke-width="1.6"/>
<line x1="293.26" y1="114.18" x2="299.26" y2="114.18" stroke="#111" stroke-width="1.6"/>
<line x1="300.11" y1="125.34" x2="306.11" y2="125.34" stroke="#111" stroke-width="1.6"/>
<line x1="313.77" y1="104.1" x2="319.77" y2="104.1" stroke="#111" stroke-width="1.6"/>
<line x1="320.57" y1="110.7" x2="326.57" y2="110.7" stroke="#111" stroke-width="1.6"/>
<line x1="327.43" y1="116.7" x2="333.43" y2="116.7" stroke="#111" stroke-width="1.6"/>
<line x1="347.89" y1="115.5" x2="353.89" y2="115.5" stroke="#111" stroke-width="1.6"/>
<line x1="354.74" y1="101.1" x2="360.74" y2="101.1" stroke="#111" stroke-width="1.6"/>
<line x1="361.54" y1="87.66" x2="367.54" y2="87.66" stroke="#111" stroke-width="1.6"/>
<line x1="368.4" y1="120.9" x2="374.4" y2="120.9" stroke="#111" stroke-width="1.6"/>
<line x1="375.2" y1="98.1" x2="381.2" y2="98.1" stroke="#111" stroke-width="1.6"/>
<line x1="382.06" y1="104.1" x2="388.06" y2="104.1" stroke="#111" stroke-width="1.6"/>
<line x1="395.71" y1="110.7" x2="401.71" y2="110.7" stroke="#111" stroke-width="1.6"/>
<line x1="402.51" y1="113.1" x2="408.51" y2="113.1" stroke="#111" stroke-width="1.6"/>
<line x1="409.37" y1="102.9" x2="415.37" y2="102.9" stroke="#111" stroke-width="1.6"/>
<line x1="416.17" y1="89.94" x2="422.17" y2="89.94" stroke="#111" stroke-width="1.6"/>
<line x1="423.03" y1="116.1" x2="429.03" y2="116.1" stroke="#111" stroke-width="1.6"/>
<line x1="429.83" y1="102.9" x2="435.83" y2="102.9" stroke="#111" stroke-width="1.6"/>
<line x1="436.69" y1="108.9" x2="442.69" y2="108.9" stroke="#111" stroke-width="1.6"/>
<line x1="443.49" y1="99.3" x2="449.49" y2="99.3" stroke="#111" stroke-width="1.6"/>
<line x1="450.34" y1="116.7" x2="456.34" y2="116.7" stroke="#111" stroke-width="1.6"/>
<line x1="457.14" y1="100.5" x2="463.14" y2="100.5" stroke="#111" stroke-width="1.6"/>
<line x1="464" y1="113.7" x2="470" y2="113.7" stroke="#111" stroke-width="1.6"/>
<line x1="470.8" y1="93.3" x2="476.8" y2="93.3" stroke="#111" stroke-width="1.6"/>
<line x1="477.66" y1="111.3" x2="483.66" y2="111.3" stroke="#111" stroke-width="1.6"/>
<line x1="484.46" y1="101.7" x2="490.46" y2="101.7" stroke="#111" stroke-width="1.6"/>
<line x1="491.31" y1="114.18" x2="497.31" y2="114.18" stroke="#111" stroke-width="1.6"/>
<line x1="498.11" y1="113.7" x2="504.11" y2="113.7" stroke="#111" stroke-width="1.6"/>
<line x1="504.97" y1="104.1" x2="510.97" y2="104.1" stroke="#111" stroke-width="1.6"/>
<line x1="511.77" y1="95.1" x2="517.77" y2="95.1" stroke="#111" stroke-width="1.6"/>
<rect x="40.2" y="29.0" width="478" height="26" fill="none" stroke="#3c3c3c" stroke-width="1.1"/>
<rect x="40.2" y="58.0" width="478" height="84.6" fill="none" stroke="#3c3c3c" stroke-width="1.1"/>
<line x1="36" y1="35.2" x2="40.2" y2="35.2" stroke="#333" stroke-width="0.7"/>
<text x="35.2" y="38.2" font-size="8.5" text-anchor="end">1</text>
<line x1="36" y1="42.2" x2="40.2" y2="42.2" stroke="#333" stroke-width="0.7"/>
<text x="35.2" y="45.2" font-size="8.5" text-anchor="end">0</text>
<line x1="36" y1="48.9" x2="40.2" y2="48.9" stroke="#333" stroke-width="0.7"/>
<text x="35.2" y="51.9" font-size="8.5" text-anchor="end">−1</text>
<line x1="36" y1="141.3" x2="40.2" y2="141.3" stroke="#333" stroke-width="0.7"/>
<text x="35.2" y="144.3" font-size="8.5" text-anchor="end">5</text>
<line x1="36" y1="129.3" x2="40.2" y2="129.3" stroke="#333" stroke-width="0.7"/>
<text x="35.2" y="132.3" font-size="8.5" text-anchor="end">6</text>
<line x1="36" y1="117.3" x2="40.2" y2="117.3" stroke="#333" stroke-width="0.7"/>
<text x="35.2" y="120.3" font-size="8.5" text-anchor="end">7</text>
<line x1="36" y1="105.3" x2="40.2" y2="105.3" stroke="#333" stroke-width="0.7"/>
<text x="35.2" y="108.3" font-size="8.5" text-anchor="end">8</text>
<line x1="36" y1="93.3" x2="40.2" y2="93.3" stroke="#333" stroke-width="0.7"/>
<text x="35.2" y="96.3" font-size="8.5" text-anchor="end">9</text>
<line x1="36" y1="81.3" x2="40.2" y2="81.3" stroke="#333" stroke-width="0.7"/>
<text x="35.2" y="84.3" font-size="8.5" text-anchor="end">10</text>
<line x1="36" y1="69.3" x2="40.2" y2="69.3" stroke="#333" stroke-width="0.7"/>
<text x="35.2" y="72.3" font-size="8.5" text-anchor="end">11</text>
<text transform="translate(10.3,42.8) rotate(-90)" font-size="8" text-anchor="middle">Log<tspan font-size="5.6" dy="1.8">2</tspan></text>
<text transform="translate(19,40.9) rotate(-90)" font-size="8" text-anchor="middle">(fold change)</text>
<text transform="translate(19,109.5) rotate(-90)" font-size="8" text-anchor="middle">Log<tspan font-size="5.6" dy="1.8">2</tspan><tspan dy="-1.8"> (Probe intensity)</tspan></text>
<text transform="translate(50.23,147.9) rotate(-58)" font-size="8.7" text-anchor="end">Adipose</text>
<text transform="translate(63.89,147.9) rotate(-58)" font-size="8.7" text-anchor="end">Adrenal</text>
<text transform="translate(77.54,147.9) rotate(-58)" font-size="8.7" text-anchor="end">Blood</text>
<text transform="translate(91.2,147.9) rotate(-58)" font-size="8.7" text-anchor="end">Blood vessel</text>
<text transform="translate(104.86,147.9) rotate(-58)" font-size="8.7" text-anchor="end">Bone</text>
<text transform="translate(118.51,147.9) rotate(-58)" font-size="8.7" text-anchor="end">Bone marrow</text>
<text transform="translate(132.17,147.9) rotate(-58)" font-size="8.7" text-anchor="end">Brain</text>
<text transform="translate(145.83,147.6) rotate(-58)" font-size="8.6" font-weight="bold" fill="#d32028" class="r" text-anchor="end">Breast</text>
<text transform="translate(159.49,147.9) rotate(-58)" font-size="8.7" text-anchor="end">Cervix</text>
<text transform="translate(173.14,147.6) rotate(-58)" font-size="8.6" font-weight="bold" fill="#d32028" class="r" text-anchor="end">Colorectal</text>
<text transform="translate(186.8,147.9) rotate(-58)" font-size="8.7" text-anchor="end">Endometrium</text>
<text transform="translate(200.46,147.9) rotate(-58)" font-size="8.7" text-anchor="end">Esophagus</text>
<text transform="translate(214.11,147.9) rotate(-58)" font-size="8.7" text-anchor="end">Gallbladder</text>
<text transform="translate(227.77,147.6) rotate(-58)" font-size="8.6" font-weight="bold" fill="#d32028" class="r" text-anchor="end">Head/neck</text>
<text transform="translate(241.43,147.9) rotate(-58)" font-size="8.7" text-anchor="end">Heart</text>
<text transform="translate(255.09,147.9) rotate(-58)" font-size="8.7" text-anchor="end">Kidney</text>
<text transform="translate(268.74,147.9) rotate(-58)" font-size="8.7" text-anchor="end">Liver</text>
<text transform="translate(282.4,147.6) rotate(-58)" font-size="8.6" font-weight="bold" fill="#d32028" class="r" text-anchor="end">Lung</text>
<text transform="translate(296.06,147.9) rotate(-58)" font-size="8.7" text-anchor="end">Lymphoid</text>
<text transform="translate(309.71,147.9) rotate(-58)" font-size="8.7" text-anchor="end">Muscle</text>
<text transform="translate(323.37,147.9) rotate(-58)" font-size="8.7" text-anchor="end">Myometrium</text>
<text transform="translate(337.03,147.9) rotate(-58)" font-size="8.7" text-anchor="end">Nerve</text>
<text transform="translate(350.69,147.9) rotate(-58)" font-size="8.7" text-anchor="end">Neuroendocrine</text>
<text transform="translate(364.34,147.6) rotate(-58)" font-size="8.6" font-weight="bold" fill="#d32028" class="r" text-anchor="end">Ovary</text>
<text transform="translate(378,147.6) rotate(-58)" font-size="8.6" font-weight="bold" fill="#d32028" class="r" text-anchor="end">Pancreas</text>
<text transform="translate(391.66,147.9) rotate(-58)" font-size="8.7" text-anchor="end">Placenta</text>
<text transform="translate(405.31,147.9) rotate(-58)" font-size="8.7" text-anchor="end">Prostate</text>
<text transform="translate(418.97,147.9) rotate(-58)" font-size="8.7" text-anchor="end">Skin (squamous)</text>
<text transform="translate(432.63,147.9) rotate(-58)" font-size="8.7" text-anchor="end">Sm. intestine</text>
<text transform="translate(446.29,147.9) rotate(-58)" font-size="8.7" text-anchor="end">Soft tissue</text>
<text transform="translate(459.94,147.6) rotate(-58)" font-size="8.6" font-weight="bold" fill="#d32028" class="r" text-anchor="end">Stomach</text>
<text transform="translate(473.6,147.9) rotate(-58)" font-size="8.7" text-anchor="end">Testes</text>
<text transform="translate(487.26,147.9) rotate(-58)" font-size="8.7" text-anchor="end">Thymus</text>
<text transform="translate(500.91,147.9) rotate(-58)" font-size="8.7" text-anchor="end">Thyroid</text>
<text transform="translate(514.57,147.9) rotate(-58)" font-size="8.7" text-anchor="end">Urinary</text>
<text x="0.6" y="12.3" font-size="13.2" font-weight="bold">A</text>
<circle cx="50.4" cy="19.6" r="3.8" fill="#000"/>
<text x="57.5" y="22.8" font-size="8">Normal</text>
<circle cx="99.1" cy="19.6" r="3.6" fill="#e02a30" stroke="#6a1010" stroke-width="0.7"/>
<text x="105.5" y="22.8" font-size="8">Cancer</text>
<rect x="182" y="16.8" width="6.6" height="6.6" fill="#cfcfcf" stroke="#444" stroke-width="0.8"/>
<text x="197.5" y="22.8" font-size="8">Not significant</text>
<rect x="266.4" y="16.8" width="6.6" height="6.6" fill="#2f8f48" stroke="#1b4f2a" stroke-width="0.8"/>
<text x="282" y="22.8" font-size="8">Significantly up</text>
<rect x="355.2" y="16.8" width="6.6" height="6.6" fill="#3a4f9c" stroke="#232f66" stroke-width="0.8"/>
<text x="370.8" y="22.8" font-size="8">Significantly down</text>
<!-- panel B -->
<rect x="48" y="264.6" width="242" height="5" fill="#eff1f6"/>
<rect x="48" y="230.5" width="26.94" height="34.3" fill="#dee3ef"/>
<rect x="74.89" y="230.5" width="26.94" height="34.3" fill="#d7d7d7"/>
<rect x="101.78" y="230.5" width="26.94" height="34.3" fill="#dee3ef"/>
<rect x="128.67" y="230.5" width="26.94" height="34.3" fill="#d7d7d7"/>
<rect x="155.56" y="230.5" width="26.94" height="34.3" fill="#dee3ef"/>
<rect x="182.44" y="230.5" width="26.94" height="34.3" fill="#d7d7d7"/>
<rect x="209.33" y="230.5" width="26.94" height="34.3" fill="#dee3ef"/>
<rect x="236.22" y="230.5" width="26.94" height="34.3" fill="#d7d7d7"/>
<rect x="263.11" y="230.5" width="26.94" height="34.3" fill="#dee3ef"/>
<rect x="48" y="269.6" width="26.94" height="117.9" fill="#dee3ef"/>
<rect x="74.89" y="269.6" width="26.94" height="117.9" fill="#d7d7d7"/>
<rect x="101.78" y="269.6" width="26.94" height="117.9" fill="#dee3ef"/>
<rect x="128.67" y="269.6" width="26.94" height="117.9" fill="#d7d7d7"/>
<rect x="155.56" y="269.6" width="26.94" height="117.9" fill="#dee3ef"/>
<rect x="182.44" y="269.6" width="26.94" height="117.9" fill="#d7d7d7"/>
<rect x="209.33" y="269.6" width="26.94" height="117.9" fill="#dee3ef"/>
<rect x="236.22" y="269.6" width="26.94" height="117.9" fill="#d7d7d7"/>
<rect x="263.11" y="269.6" width="26.94" height="117.9" fill="#dee3ef"/>
<rect x="54.1" y="241.31" width="5.3" height="22.79" fill="#0a0a0a"/>
<rect x="59.4" y="258.38" width="5.3" height="5.72" fill="#f5b324"/>
<rect x="64.7" y="263.24" width="5.3" height="0.86" fill="#d8342c"/>
<rect x="80.99" y="243.02" width="5.3" height="21.08" fill="#0a0a0a"/>
<rect x="86.29" y="259.24" width="5.3" height="4.86" fill="#f5b324"/>
<rect x="91.59" y="261.67" width="5.3" height="2.43" fill="#d8342c"/>
<rect x="107.88" y="242.54" width="5.3" height="21.56" fill="#0a0a0a"/>
<rect x="113.18" y="258.38" width="5.3" height="5.72" fill="#f5b324"/>
<rect x="118.48" y="262.96" width="5.3" height="1.14" fill="#d8342c"/>
<rect x="134.77" y="244.45" width="5.3" height="19.65" fill="#0a0a0a"/>
<rect x="140.07" y="256.78" width="5.3" height="7.32" fill="#f5b324"/>
<rect x="145.37" y="262.87" width="5.3" height="1.23" fill="#d8342c"/>
<rect x="161.66" y="243.94" width="5.3" height="20.16" fill="#0a0a0a"/>
<rect x="166.96" y="257.89" width="5.3" height="6.21" fill="#f5b324"/>
<rect x="172.26" y="262.67" width="5.3" height="1.43" fill="#d8342c"/>
<rect x="188.54" y="239.79" width="5.3" height="24.31" fill="#0a0a0a"/>
<rect x="193.84" y="260.44" width="5.3" height="3.66" fill="#f5b324"/>
<rect x="199.14" y="263.67" width="5.3" height="0.43" fill="#d8342c"/>
<rect x="215.43" y="244.57" width="5.3" height="19.53" fill="#0a0a0a"/>
<rect x="220.73" y="257.89" width="5.3" height="6.21" fill="#f5b324"/>
<rect x="226.03" y="261.81" width="5.3" height="2.29" fill="#d8342c"/>
<rect x="242.32" y="245.08" width="5.3" height="19.02" fill="#0a0a0a"/>
<rect x="247.62" y="256.46" width="5.3" height="7.64" fill="#f5b324"/>
<rect x="252.92" y="263.3" width="5.3" height="0.8" fill="#d8342c"/>
<rect x="269.21" y="243.94" width="5.3" height="20.16" fill="#0a0a0a"/>
<rect x="274.51" y="259.01" width="5.3" height="5.09" fill="#f5b324"/>
<rect x="279.81" y="261.81" width="5.3" height="2.29" fill="#d8342c"/>
<line x1="48.0" y1="264.1" x2="290.0" y2="264.1" stroke="#777" stroke-width="0.7"/>
<rect x="45" y="232.5" width="3.2" height="34" fill="#000"/>
<rect x="45" y="272.6" width="3.2" height="113.6" fill="#000"/>
<text x="42.6" y="237.9" font-size="8.3" text-anchor="end">100</text>
<text x="42.6" y="251.9" font-size="8.3" text-anchor="end">50</text>
<text x="42.6" y="265.8" font-size="8.3" text-anchor="end">0</text>
<text x="42.6" y="276.25" font-size="8.3" text-anchor="end">3.0</text>
<text x="42.6" y="286.57" font-size="8.3" text-anchor="end">2.5</text>
<text x="42.6" y="296.9" font-size="8.3" text-anchor="end">2.0</text>
<text x="42.6" y="307.22" font-size="8.3" text-anchor="end">1.5</text>
<text x="42.6" y="317.55" font-size="8.3" text-anchor="end">1.0</text>
<text x="42.6" y="327.88" font-size="8.3" text-anchor="end">0.5</text>
<text x="42.6" y="338.2" font-size="8.3" text-anchor="end">0.0</text>
<text x="42.6" y="348.52" font-size="8.3" text-anchor="end">−0.5</text>
<text x="42.6" y="358.85" font-size="8.3" text-anchor="end">−1.0</text>
<text x="42.6" y="369.18" font-size="8.3" text-anchor="end">−1.5</text>
<text x="42.6" y="379.5" font-size="8.3" text-anchor="end">−2.0</text>
<text x="42.6" y="389.82" font-size="8.3" text-anchor="end">−2.5</text>
<text transform="translate(18.3,311.5) rotate(-90)" font-size="7.9" text-anchor="middle">Relative copy number sample (%)</text>
<text x="0.1" y="227.8" font-size="13.2" font-weight="bold">B</text>
<text transform="translate(63.94,396) rotate(-45)" font-size="8.5" text-anchor="end">Brain</text>
<text transform="translate(90.83,396) rotate(-45)" font-size="8.5" text-anchor="end">Breast</text>
<text transform="translate(117.72,396) rotate(-45)" font-size="8.5" text-anchor="end">Cervix</text>
<text transform="translate(144.61,396) rotate(-45)" font-size="8.5" text-anchor="end">Colon</text>
<text transform="translate(171.5,396) rotate(-45)" font-size="8.5" text-anchor="end">HNSCC</text>
<text transform="translate(198.39,396) rotate(-45)" font-size="8.5" text-anchor="end">Kidney</text>
<text transform="translate(225.28,396) rotate(-45)" font-size="8.5" text-anchor="end">Liver</text>
<text transform="translate(252.17,396) rotate(-45)" font-size="8.5" text-anchor="end">Lung</text>
<text transform="translate(279.06,396) rotate(-45)" font-size="8.5" text-anchor="end">Ovary</text>
<g fill="none" stroke="#4a5db0" stroke-width="0.8">
<circle cx="63.73" cy="353.61" r="1.7"/>
<circle cx="57.25" cy="358.19" r="1.7"/>
<circle cx="64.99" cy="358.44" r="1.7"/>
<circle cx="62.5" cy="356.75" r="1.7"/>
<circle cx="63.38" cy="359.43" r="1.7"/>
<circle cx="60.5" cy="359.24" r="1.7"/>
<circle cx="62.92" cy="355.17" r="1.7"/>
<circle cx="64.75" cy="355.27" r="1.7"/>
<circle cx="62.43" cy="351.9" r="1.7"/>
<circle cx="64.27" cy="358.13" r="1.7"/>
<circle cx="55.73" cy="359.07" r="1.7"/>
<circle cx="57.53" cy="354.79" r="1.7"/>
<circle cx="61.14" cy="364.89" r="1.7"/>
<circle cx="62.2" cy="364.97" r="1.7"/>
<circle cx="85.71" cy="355.25" r="1.7"/>
<circle cx="90.5" cy="355.46" r="1.7"/>
<circle cx="90.13" cy="364.65" r="1.7"/>
<circle cx="84.55" cy="351.12" r="1.7"/>
<circle cx="84.49" cy="353.01" r="1.7"/>
<circle cx="82.17" cy="353.45" r="1.7"/>
<circle cx="85.24" cy="351.29" r="1.7"/>
<circle cx="82.85" cy="353.62" r="1.7"/>
<circle cx="87.08" cy="352.66" r="1.7"/>
<circle cx="93.53" cy="357.25" r="1.7"/>
<circle cx="87.28" cy="348.89" r="1.7"/>
<circle cx="86.94" cy="365.47" r="1.7"/>
<circle cx="87.93" cy="355.15" r="1.7"/>
<circle cx="86.77" cy="365.72" r="1.7"/>
<circle cx="90.34" cy="361.07" r="1.7"/>
<circle cx="90.23" cy="360.81" r="1.7"/>
<circle cx="84.58" cy="357.06" r="1.7"/>
<circle cx="86.49" cy="365.86" r="1.7"/>
<circle cx="90.12" cy="350.48" r="1.7"/>
<circle cx="92.19" cy="360.72" r="1.7"/>
<circle cx="117.77" cy="357.16" r="1.7"/>
<circle cx="116.88" cy="356.05" r="1.7"/>
<circle cx="113.04" cy="357.71" r="1.7"/>
<circle cx="115.08" cy="366.88" r="1.7"/>
<circle cx="144.2" cy="355.12" r="1.7"/>
<circle cx="144.88" cy="348.81" r="1.7"/>
<circle cx="143.04" cy="353.78" r="1.7"/>
<circle cx="139.56" cy="353.5" r="1.7"/>
<circle cx="140.18" cy="350.43" r="1.7"/>
<circle cx="145.63" cy="349.13" r="1.7"/>
<circle cx="142.36" cy="351.75" r="1.7"/>
<circle cx="136.61" cy="350.85" r="1.7"/>
<circle cx="141.13" cy="353.62" r="1.7"/>
<circle cx="139.25" cy="354.93" r="1.7"/>
<circle cx="143.09" cy="368.85" r="1.7"/>
<circle cx="139.63" cy="368.38" r="1.7"/>
<circle cx="140.78" cy="369.45" r="1.7"/>
<circle cx="169.98" cy="354.87" r="1.7"/>
<circle cx="170.14" cy="349.78" r="1.7"/>
<circle cx="167.87" cy="349.87" r="1.7"/>
<circle cx="190.98" cy="350.09" r="1.7"/>
<circle cx="196.91" cy="351.01" r="1.7"/>
<circle cx="193.29" cy="357.62" r="1.7"/>
<circle cx="194.4" cy="358.08" r="1.7"/>
<circle cx="190.46" cy="349.67" r="1.7"/>
<circle cx="197.38" cy="361.68" r="1.7"/>
<circle cx="191.19" cy="350.08" r="1.7"/>
<circle cx="199.22" cy="350.54" r="1.7"/>
<circle cx="193.93" cy="349.49" r="1.7"/>
<circle cx="196.91" cy="354.28" r="1.7"/>
<circle cx="197.37" cy="356.61" r="1.7"/>
<circle cx="195.79" cy="359.8" r="1.7"/>
<circle cx="200.6" cy="350.48" r="1.7"/>
<circle cx="200.28" cy="357.67" r="1.7"/>
<circle cx="249.34" cy="354.83" r="1.7"/>
<circle cx="250.23" cy="361.97" r="1.7"/>
<circle cx="245.84" cy="353.64" r="1.7"/>
<circle cx="251.79" cy="365" r="1.7"/>
<circle cx="248.34" cy="352.25" r="1.7"/>
<circle cx="249.37" cy="359.77" r="1.7"/>
<circle cx="249.94" cy="361.56" r="1.7"/>
<circle cx="253.89" cy="362" r="1.7"/>
<circle cx="247.52" cy="358.1" r="1.7"/>
<circle cx="250.27" cy="364.21" r="1.7"/>
<circle cx="250.98" cy="360.36" r="1.7"/>
<circle cx="251.63" cy="361.34" r="1.7"/>
<circle cx="248.15" cy="351.61" r="1.7"/>
<circle cx="247.61" cy="353.32" r="1.7"/>
<circle cx="275.96" cy="362.63" r="1.7"/>
<circle cx="278.96" cy="357.6" r="1.7"/>
<circle cx="277.03" cy="352.98" r="1.7"/>
<circle cx="274.1" cy="359.78" r="1.7"/>
<circle cx="275.21" cy="349.03" r="1.7"/>
<circle cx="273.03" cy="362.61" r="1.7"/>
<circle cx="276.72" cy="363.37" r="1.7"/>
<circle cx="273.98" cy="358.99" r="1.7"/>
<circle cx="276.28" cy="349.1" r="1.7"/>
</g><g fill="#0a0a0a">
<circle cx="60.47" cy="347.28" r="1.9"/>
<circle cx="64.55" cy="345.2" r="1.9"/>
<circle cx="62.86" cy="339.41" r="1.9"/>
<circle cx="62.13" cy="338.44" r="1.9"/>
<circle cx="57.54" cy="344.19" r="1.9"/>
<circle cx="61.89" cy="339.36" r="1.9"/>
<circle cx="59.07" cy="339.49" r="1.9"/>
<circle cx="63.15" cy="340.4" r="1.9"/>
<circle cx="61.07" cy="340.75" r="1.9"/>
<circle cx="64.5" cy="339.66" r="1.9"/>
<circle cx="62.63" cy="344.16" r="1.9"/>
<circle cx="64.4" cy="340.29" r="1.9"/>
<circle cx="60.37" cy="345.1" r="1.9"/>
<circle cx="62.77" cy="342.77" r="1.9"/>
<circle cx="63.72" cy="339.55" r="1.9"/>
<circle cx="64.71" cy="340.44" r="1.9"/>
<circle cx="90.92" cy="350.03" r="1.9"/>
<circle cx="88.49" cy="348.68" r="1.9"/>
<circle cx="88.91" cy="337.6" r="1.9"/>
<circle cx="89" cy="341.34" r="1.9"/>
<circle cx="90.63" cy="347.68" r="1.9"/>
<circle cx="87.46" cy="349.16" r="1.9"/>
<circle cx="85.95" cy="337.31" r="1.9"/>
<circle cx="84.05" cy="341.57" r="1.9"/>
<circle cx="85.96" cy="339.41" r="1.9"/>
<circle cx="84.33" cy="348.83" r="1.9"/>
<circle cx="91.98" cy="342.12" r="1.9"/>
<circle cx="88.14" cy="345.87" r="1.9"/>
<circle cx="90.84" cy="347.52" r="1.9"/>
<circle cx="83.34" cy="346.16" r="1.9"/>
<circle cx="88.05" cy="342.28" r="1.9"/>
<circle cx="92.23" cy="345.94" r="1.9"/>
<circle cx="89.53" cy="345.43" r="1.9"/>
<circle cx="87.72" cy="348.88" r="1.9"/>
<circle cx="88.06" cy="339.27" r="1.9"/>
<circle cx="84.62" cy="341.8" r="1.9"/>
<circle cx="85.52" cy="339.64" r="1.9"/>
<circle cx="84.95" cy="344.77" r="1.9"/>
<circle cx="118.61" cy="349.47" r="1.9"/>
<circle cx="119.71" cy="348.08" r="1.9"/>
<circle cx="116.31" cy="346.83" r="1.9"/>
<circle cx="113.77" cy="341.28" r="1.9"/>
<circle cx="114.55" cy="346.52" r="1.9"/>
<circle cx="113.93" cy="349.5" r="1.9"/>
<circle cx="114.45" cy="340.1" r="1.9"/>
<circle cx="112.02" cy="342.88" r="1.9"/>
<circle cx="115.98" cy="349.99" r="1.9"/>
<circle cx="118.24" cy="349.68" r="1.9"/>
<circle cx="117.47" cy="348.61" r="1.9"/>
<circle cx="111.65" cy="345.56" r="1.9"/>
<circle cx="141.21" cy="345.25" r="1.9"/>
<circle cx="141.7" cy="339.18" r="1.9"/>
<circle cx="143.92" cy="339.38" r="1.9"/>
<circle cx="144.51" cy="338.64" r="1.9"/>
<circle cx="137.99" cy="338.76" r="1.9"/>
<circle cx="141.14" cy="339.6" r="1.9"/>
<circle cx="142.51" cy="337.64" r="1.9"/>
<circle cx="140.99" cy="337.33" r="1.9"/>
<circle cx="138.37" cy="340.42" r="1.9"/>
<circle cx="142.97" cy="337.26" r="1.9"/>
<circle cx="141.21" cy="345.26" r="1.9"/>
<circle cx="143.42" cy="345.27" r="1.9"/>
<circle cx="142.08" cy="345.63" r="1.9"/>
<circle cx="145.7" cy="344.31" r="1.9"/>
<circle cx="173.02" cy="341.48" r="1.9"/>
<circle cx="166.99" cy="340.33" r="1.9"/>
<circle cx="169.51" cy="339.01" r="1.9"/>
<circle cx="171.77" cy="337.39" r="1.9"/>
<circle cx="165.99" cy="337.3" r="1.9"/>
<circle cx="167.81" cy="337.02" r="1.9"/>
<circle cx="168.95" cy="341.98" r="1.9"/>
<circle cx="169.53" cy="342.96" r="1.9"/>
<circle cx="166.53" cy="337.42" r="1.9"/>
<circle cx="168.67" cy="343.6" r="1.9"/>
<circle cx="164.68" cy="340.92" r="1.9"/>
<circle cx="165.01" cy="338.84" r="1.9"/>
<circle cx="167.42" cy="340.34" r="1.9"/>
<circle cx="165.59" cy="341.35" r="1.9"/>
<circle cx="200.08" cy="342.44" r="1.9"/>
<circle cx="194.62" cy="346.2" r="1.9"/>
<circle cx="198.43" cy="339.32" r="1.9"/>
<circle cx="196.1" cy="346.07" r="1.9"/>
<circle cx="192.33" cy="341.71" r="1.9"/>
<circle cx="192.75" cy="346.39" r="1.9"/>
<circle cx="198.37" cy="337.06" r="1.9"/>
<circle cx="195.55" cy="341.65" r="1.9"/>
<circle cx="195.32" cy="342.74" r="1.9"/>
<circle cx="199.72" cy="344.45" r="1.9"/>
<circle cx="196.62" cy="341.57" r="1.9"/>
<circle cx="195.89" cy="337.21" r="1.9"/>
<circle cx="193.74" cy="342.84" r="1.9"/>
<circle cx="197.98" cy="345.1" r="1.9"/>
<circle cx="193.47" cy="341.94" r="1.9"/>
<circle cx="195.7" cy="337.78" r="1.9"/>
<circle cx="198.43" cy="343.32" r="1.9"/>
<circle cx="196.87" cy="340.71" r="1.9"/>
<circle cx="222.86" cy="345.19" r="1.9"/>
<circle cx="247.27" cy="346.17" r="1.9"/>
<circle cx="249.24" cy="347.03" r="1.9"/>
<circle cx="246.47" cy="349.48" r="1.9"/>
<circle cx="245.89" cy="348.88" r="1.9"/>
<circle cx="247.99" cy="337" r="1.9"/>
<circle cx="248.44" cy="340.42" r="1.9"/>
<circle cx="253.23" cy="338" r="1.9"/>
<circle cx="249.55" cy="339.14" r="1.9"/>
<circle cx="252.74" cy="339.85" r="1.9"/>
<circle cx="252.1" cy="346.93" r="1.9"/>
<circle cx="250.55" cy="348.09" r="1.9"/>
<circle cx="247.89" cy="346.73" r="1.9"/>
<circle cx="248.76" cy="349.48" r="1.9"/>
<circle cx="247.91" cy="348" r="1.9"/>
<circle cx="250.92" cy="340.69" r="1.9"/>
<circle cx="253.07" cy="343.76" r="1.9"/>
<circle cx="251.85" cy="350.21" r="1.9"/>
<circle cx="247.62" cy="346.26" r="1.9"/>
<circle cx="246.64" cy="338.95" r="1.9"/>
<circle cx="245.43" cy="338.93" r="1.9"/>
<circle cx="250.46" cy="340.56" r="1.9"/>
<circle cx="247.13" cy="340.54" r="1.9"/>
<circle cx="245.75" cy="338.12" r="1.9"/>
<circle cx="247.79" cy="342.88" r="1.9"/>
<circle cx="246.99" cy="345.21" r="1.9"/>
<circle cx="246.87" cy="342.66" r="1.9"/>
<circle cx="251.31" cy="346.56" r="1.9"/>
<circle cx="250.34" cy="349.87" r="1.9"/>
<circle cx="275.23" cy="343.14" r="1.9"/>
<circle cx="273.33" cy="344.76" r="1.9"/>
<circle cx="273.85" cy="337.53" r="1.9"/>
<circle cx="272.76" cy="342.89" r="1.9"/>
<circle cx="275.69" cy="344.8" r="1.9"/>
<circle cx="272.66" cy="339.46" r="1.9"/>
<circle cx="278.02" cy="345.52" r="1.9"/>
<circle cx="274.95" cy="343.49" r="1.9"/>
<circle cx="274.86" cy="347.11" r="1.9"/>
<circle cx="275" cy="345.59" r="1.9"/>
<circle cx="276.52" cy="336.97" r="1.9"/>
<circle cx="273.8" cy="341.23" r="1.9"/>
<circle cx="280.06" cy="342.34" r="1.9"/>
<circle cx="276.4" cy="340.64" r="1.9"/>
<circle cx="272.64" cy="340.66" r="1.9"/>
<circle cx="272.42" cy="342.37" r="1.9"/>
</g><g fill="#f7b520">
<circle cx="64.83" cy="316.44" r="1.9"/>
<circle cx="66.12" cy="330.21" r="1.9"/>
<circle cx="56.13" cy="315.73" r="1.9"/>
<circle cx="67.2" cy="330.68" r="1.9"/>
<circle cx="57.42" cy="319.81" r="1.9"/>
<circle cx="59.4" cy="330.96" r="1.9"/>
<circle cx="62.64" cy="333.79" r="1.9"/>
<circle cx="66.1" cy="314.04" r="1.9"/>
<circle cx="59.38" cy="329.08" r="1.9"/>
<circle cx="66.9" cy="328.94" r="1.9"/>
<circle cx="61.84" cy="311.52" r="1.9"/>
<circle cx="59.36" cy="314.02" r="1.9"/>
<circle cx="59.25" cy="327.26" r="1.9"/>
<circle cx="58.43" cy="312" r="1.9"/>
<circle cx="57.58" cy="321.59" r="1.9"/>
<circle cx="57.73" cy="318.44" r="1.9"/>
<circle cx="63.89" cy="329.18" r="1.9"/>
<circle cx="66.35" cy="312.46" r="1.9"/>
<circle cx="57.82" cy="318.15" r="1.9"/>
<circle cx="57.29" cy="311.88" r="1.9"/>
<circle cx="66.71" cy="313.53" r="1.9"/>
<circle cx="61.84" cy="327.05" r="1.9"/>
<circle cx="60.44" cy="325.63" r="1.9"/>
<circle cx="58.03" cy="330.07" r="1.9"/>
<circle cx="62.66" cy="330.53" r="1.9"/>
<circle cx="65.38" cy="332.36" r="1.9"/>
<circle cx="60.92" cy="326.99" r="1.9"/>
<circle cx="60.69" cy="320.14" r="1.9"/>
<circle cx="56.62" cy="333.76" r="1.9"/>
<circle cx="65.84" cy="318.44" r="1.9"/>
<circle cx="56.23" cy="326.16" r="1.9"/>
<circle cx="61.37" cy="326.79" r="1.9"/>
<circle cx="65.33" cy="315.24" r="1.9"/>
<circle cx="58.06" cy="322.91" r="1.9"/>
<circle cx="64.12" cy="326.66" r="1.9"/>
<circle cx="65.56" cy="322.9" r="1.9"/>
<circle cx="62.86" cy="317.83" r="1.9"/>
<circle cx="64.88" cy="332.54" r="1.9"/>
<circle cx="57.92" cy="311.69" r="1.9"/>
<circle cx="60.71" cy="333.32" r="1.9"/>
<circle cx="57.49" cy="316.8" r="1.9"/>
<circle cx="65.36" cy="314.64" r="1.9"/>
<circle cx="59.15" cy="333.42" r="1.9"/>
<circle cx="60.91" cy="315.94" r="1.9"/>
<circle cx="66.75" cy="325.52" r="1.9"/>
<circle cx="64.76" cy="320.69" r="1.9"/>
<circle cx="66.67" cy="333.63" r="1.9"/>
<circle cx="60.9" cy="332.77" r="1.9"/>
<circle cx="61.29" cy="329.73" r="1.9"/>
<circle cx="63.63" cy="312.14" r="1.9"/>
<circle cx="61.33" cy="343.57" r="1.9"/>
<circle cx="59.9" cy="338.95" r="1.9"/>
<circle cx="60.68" cy="337.51" r="1.9"/>
<circle cx="58.63" cy="337.41" r="1.9"/>
<circle cx="60.7" cy="342.35" r="1.9"/>
<circle cx="64.42" cy="342.26" r="1.9"/>
<circle cx="64.56" cy="340.86" r="1.9"/>
<circle cx="62.39" cy="338.79" r="1.9"/>
<circle cx="61.44" cy="344.3" r="1.9"/>
<circle cx="60.26" cy="339.01" r="1.9"/>
<circle cx="89.89" cy="317.75" r="1.9"/>
<circle cx="82.95" cy="319.47" r="1.9"/>
<circle cx="84.35" cy="322.89" r="1.9"/>
<circle cx="87.02" cy="313.13" r="1.9"/>
<circle cx="84.14" cy="325.08" r="1.9"/>
<circle cx="83.99" cy="324.93" r="1.9"/>
<circle cx="89.26" cy="314.48" r="1.9"/>
<circle cx="90.6" cy="329.37" r="1.9"/>
<circle cx="92" cy="327.1" r="1.9"/>
<circle cx="83.72" cy="314.98" r="1.9"/>
<circle cx="87.8" cy="332.33" r="1.9"/>
<circle cx="86.01" cy="314.84" r="1.9"/>
<circle cx="89.59" cy="318.06" r="1.9"/>
<circle cx="88.23" cy="324" r="1.9"/>
<circle cx="92.57" cy="327.33" r="1.9"/>
<circle cx="86.7" cy="316.1" r="1.9"/>
<circle cx="83.51" cy="313.15" r="1.9"/>
<circle cx="90.08" cy="330.59" r="1.9"/>
<circle cx="84.79" cy="322.97" r="1.9"/>
<circle cx="89.74" cy="321.36" r="1.9"/>
<circle cx="88.39" cy="322.53" r="1.9"/>
<circle cx="92.32" cy="326.32" r="1.9"/>
<circle cx="88.83" cy="330.35" r="1.9"/>
<circle cx="89.68" cy="320.53" r="1.9"/>
<circle cx="85.3" cy="315.39" r="1.9"/>
<circle cx="88.74" cy="332.28" r="1.9"/>
<circle cx="86" cy="328.61" r="1.9"/>
<circle cx="91.53" cy="315.22" r="1.9"/>
<circle cx="88.55" cy="315.85" r="1.9"/>
<circle cx="83.86" cy="318.76" r="1.9"/>
<circle cx="86.47" cy="333.25" r="1.9"/>
<circle cx="86.68" cy="317.42" r="1.9"/>
<circle cx="90.36" cy="311.6" r="1.9"/>
<circle cx="85.83" cy="311.16" r="1.9"/>
<circle cx="91.03" cy="317.91" r="1.9"/>
<circle cx="89.49" cy="332.72" r="1.9"/>
<circle cx="83.17" cy="314.71" r="1.9"/>
<circle cx="89.92" cy="328.86" r="1.9"/>
<circle cx="83.44" cy="319.17" r="1.9"/>
<circle cx="84.76" cy="312.2" r="1.9"/>
<circle cx="88.85" cy="339.31" r="1.9"/>
<circle cx="86.89" cy="344.08" r="1.9"/>
<circle cx="90.62" cy="342.78" r="1.9"/>
<circle cx="88.24" cy="337.61" r="1.9"/>
<circle cx="87.35" cy="343.96" r="1.9"/>
<circle cx="90.05" cy="340.15" r="1.9"/>
<circle cx="85.44" cy="341.77" r="1.9"/>
<circle cx="89.6" cy="343.86" r="1.9"/>
<circle cx="113.1" cy="319.39" r="1.9"/>
<circle cx="109.61" cy="328.67" r="1.9"/>
<circle cx="117.14" cy="331.52" r="1.9"/>
<circle cx="110.04" cy="323.97" r="1.9"/>
<circle cx="111.65" cy="324.74" r="1.9"/>
<circle cx="112.82" cy="323.51" r="1.9"/>
<circle cx="113.62" cy="326.33" r="1.9"/>
<circle cx="110.89" cy="322.73" r="1.9"/>
<circle cx="114.44" cy="321.28" r="1.9"/>
<circle cx="113.83" cy="318.57" r="1.9"/>
<circle cx="118.5" cy="327.32" r="1.9"/>
<circle cx="115.91" cy="325.28" r="1.9"/>
<circle cx="118.69" cy="319.82" r="1.9"/>
<circle cx="117.2" cy="328.53" r="1.9"/>
<circle cx="118.25" cy="330.1" r="1.9"/>
<circle cx="116.19" cy="327.26" r="1.9"/>
<circle cx="114.58" cy="330.5" r="1.9"/>
<circle cx="118.21" cy="320.6" r="1.9"/>
<circle cx="116.6" cy="319.93" r="1.9"/>
<circle cx="121.13" cy="327.25" r="1.9"/>
<circle cx="117.93" cy="329.89" r="1.9"/>
<circle cx="117.44" cy="330.58" r="1.9"/>
<circle cx="112.21" cy="328.23" r="1.9"/>
<circle cx="118.68" cy="330.55" r="1.9"/>
<circle cx="114.85" cy="312.3" r="1.9"/>
<circle cx="114.07" cy="311.99" r="1.9"/>
<circle cx="143.8" cy="328.61" r="1.9"/>
<circle cx="142.72" cy="323.96" r="1.9"/>
<circle cx="144.48" cy="325.6" r="1.9"/>
<circle cx="141.33" cy="332.19" r="1.9"/>
<circle cx="146.34" cy="325.71" r="1.9"/>
<circle cx="138.82" cy="324.11" r="1.9"/>
<circle cx="139.82" cy="321.99" r="1.9"/>
<circle cx="139.1" cy="316.83" r="1.9"/>
<circle cx="143.52" cy="323.74" r="1.9"/>
<circle cx="145.06" cy="310.49" r="1.9"/>
<circle cx="138.2" cy="314.28" r="1.9"/>
<circle cx="143.33" cy="311.82" r="1.9"/>
<circle cx="145.57" cy="317.07" r="1.9"/>
<circle cx="138.54" cy="317.58" r="1.9"/>
<circle cx="136.82" cy="320.61" r="1.9"/>
<circle cx="142.91" cy="314.66" r="1.9"/>
<circle cx="145.86" cy="324.56" r="1.9"/>
<circle cx="146.87" cy="319.32" r="1.9"/>
<circle cx="145.08" cy="317.37" r="1.9"/>
<circle cx="141.11" cy="320.94" r="1.9"/>
<circle cx="141.32" cy="326.35" r="1.9"/>
<circle cx="142.31" cy="331.04" r="1.9"/>
<circle cx="145.01" cy="330.82" r="1.9"/>
<circle cx="139.88" cy="324.72" r="1.9"/>
<circle cx="139.38" cy="319.62" r="1.9"/>
<circle cx="143.44" cy="315.55" r="1.9"/>
<circle cx="148.15" cy="316.57" r="1.9"/>
<circle cx="138.71" cy="325.83" r="1.9"/>
<circle cx="137.87" cy="311.7" r="1.9"/>
<circle cx="138.08" cy="326.56" r="1.9"/>
<circle cx="142.92" cy="316.54" r="1.9"/>
<circle cx="142.82" cy="331.17" r="1.9"/>
<circle cx="138.11" cy="315.69" r="1.9"/>
<circle cx="138.09" cy="317.58" r="1.9"/>
<circle cx="142.89" cy="311.07" r="1.9"/>
<circle cx="143.56" cy="312.42" r="1.9"/>
<circle cx="144.58" cy="317.18" r="1.9"/>
<circle cx="144.7" cy="313.76" r="1.9"/>
<circle cx="136.5" cy="316.02" r="1.9"/>
<circle cx="141.92" cy="318.92" r="1.9"/>
<circle cx="145.25" cy="328.06" r="1.9"/>
<circle cx="147.59" cy="321.07" r="1.9"/>
<circle cx="140.31" cy="312.45" r="1.9"/>
<circle cx="145.59" cy="327.37" r="1.9"/>
<circle cx="143.22" cy="310.66" r="1.9"/>
<circle cx="147.3" cy="320.45" r="1.9"/>
<circle cx="139" cy="323.87" r="1.9"/>
<circle cx="143.26" cy="332.74" r="1.9"/>
<circle cx="144.04" cy="340.71" r="1.9"/>
<circle cx="141.99" cy="342.02" r="1.9"/>
<circle cx="139.8" cy="339.08" r="1.9"/>
<circle cx="140.45" cy="337.55" r="1.9"/>
<circle cx="140.26" cy="337.49" r="1.9"/>
<circle cx="139.74" cy="339.33" r="1.9"/>
<circle cx="140.14" cy="340.73" r="1.9"/>
<circle cx="142.66" cy="342.45" r="1.9"/>
<circle cx="165.91" cy="321.26" r="1.9"/>
<circle cx="169.78" cy="329.38" r="1.9"/>
<circle cx="166" cy="327.62" r="1.9"/>
<circle cx="169.39" cy="315.62" r="1.9"/>
<circle cx="170.94" cy="315.31" r="1.9"/>
<circle cx="165.77" cy="331.22" r="1.9"/>
<circle cx="168.77" cy="328.53" r="1.9"/>
<circle cx="171.65" cy="324.24" r="1.9"/>
<circle cx="162.68" cy="327.09" r="1.9"/>
<circle cx="171.88" cy="318.54" r="1.9"/>
<circle cx="167.95" cy="325.22" r="1.9"/>
<circle cx="169.04" cy="318.16" r="1.9"/>
<circle cx="170.29" cy="329.1" r="1.9"/>
<circle cx="172.65" cy="322.67" r="1.9"/>
<circle cx="165.59" cy="314.66" r="1.9"/>
<circle cx="169.01" cy="319.45" r="1.9"/>
<circle cx="164.21" cy="330.19" r="1.9"/>
<circle cx="167.76" cy="329.82" r="1.9"/>
<circle cx="167.21" cy="320.47" r="1.9"/>
<circle cx="162.78" cy="325.19" r="1.9"/>
<circle cx="166.37" cy="325.3" r="1.9"/>
<circle cx="168.37" cy="323.39" r="1.9"/>
<circle cx="170.86" cy="321.56" r="1.9"/>
<circle cx="172.34" cy="314.82" r="1.9"/>
<circle cx="193.36" cy="331.54" r="1.9"/>
<circle cx="191.31" cy="332.18" r="1.9"/>
<circle cx="193.12" cy="322.43" r="1.9"/>
<circle cx="194.31" cy="317.76" r="1.9"/>
<circle cx="198.74" cy="311.73" r="1.9"/>
<circle cx="193.49" cy="315.97" r="1.9"/>
<circle cx="197.41" cy="332.12" r="1.9"/>
<circle cx="197.46" cy="317.9" r="1.9"/>
<circle cx="199.65" cy="312.93" r="1.9"/>
<circle cx="191.02" cy="330.85" r="1.9"/>
<circle cx="198.5" cy="315.14" r="1.9"/>
<circle cx="193.88" cy="327.43" r="1.9"/>
<circle cx="191.22" cy="326.43" r="1.9"/>
<circle cx="197.2" cy="333.8" r="1.9"/>
<circle cx="199.2" cy="315.05" r="1.9"/>
<circle cx="196.86" cy="321.05" r="1.9"/>
<circle cx="192.69" cy="311.48" r="1.9"/>
<circle cx="201.34" cy="322.3" r="1.9"/>
<circle cx="194.38" cy="329.98" r="1.9"/>
<circle cx="197.63" cy="328.47" r="1.9"/>
<circle cx="198.62" cy="327.31" r="1.9"/>
<circle cx="194.44" cy="310.37" r="1.9"/>
<circle cx="194.71" cy="328.75" r="1.9"/>
<circle cx="193.82" cy="331.65" r="1.9"/>
<circle cx="191.32" cy="325.09" r="1.9"/>
<circle cx="190.68" cy="331.87" r="1.9"/>
<circle cx="198.35" cy="323.3" r="1.9"/>
<circle cx="194.87" cy="318.43" r="1.9"/>
<circle cx="199.99" cy="317.71" r="1.9"/>
<circle cx="190.2" cy="329.5" r="1.9"/>
<circle cx="193.33" cy="330.4" r="1.9"/>
<circle cx="192.16" cy="321.66" r="1.9"/>
<circle cx="200.61" cy="316.81" r="1.9"/>
<circle cx="199.21" cy="322.75" r="1.9"/>
<circle cx="200.51" cy="319.63" r="1.9"/>
<circle cx="195.93" cy="311.23" r="1.9"/>
<circle cx="190.77" cy="330.24" r="1.9"/>
<circle cx="194.87" cy="327.2" r="1.9"/>
<circle cx="192.7" cy="321.6" r="1.9"/>
<circle cx="190.34" cy="320.55" r="1.9"/>
<circle cx="196.37" cy="337.45" r="1.9"/>
<circle cx="194.52" cy="339.23" r="1.9"/>
<circle cx="193.2" cy="338.68" r="1.9"/>
<circle cx="195.96" cy="339.93" r="1.9"/>
<circle cx="199" cy="338.05" r="1.9"/>
<circle cx="199.15" cy="337.78" r="1.9"/>
<circle cx="221.45" cy="318.05" r="1.9"/>
<circle cx="219.16" cy="330.21" r="1.9"/>
<circle cx="227.51" cy="331.8" r="1.9"/>
<circle cx="226.68" cy="332.55" r="1.9"/>
<circle cx="225.21" cy="319.36" r="1.9"/>
<circle cx="219.73" cy="330.94" r="1.9"/>
<circle cx="221.7" cy="324.76" r="1.9"/>
<circle cx="222.24" cy="325.11" r="1.9"/>
<circle cx="221.64" cy="318.71" r="1.9"/>
<circle cx="217.46" cy="324.44" r="1.9"/>
<circle cx="222.26" cy="323.64" r="1.9"/>
<circle cx="225.46" cy="332.37" r="1.9"/>
<circle cx="225.21" cy="318.84" r="1.9"/>
<circle cx="227.4" cy="319.33" r="1.9"/>
<circle cx="225.08" cy="321.86" r="1.9"/>
<circle cx="225.94" cy="318.15" r="1.9"/>
<circle cx="227.42" cy="322.02" r="1.9"/>
<circle cx="228.2" cy="320.23" r="1.9"/>
<circle cx="226.21" cy="317.87" r="1.9"/>
<circle cx="221.73" cy="321.97" r="1.9"/>
<circle cx="224.37" cy="332.45" r="1.9"/>
<circle cx="224.52" cy="317.28" r="1.9"/>
<circle cx="225.81" cy="315.43" r="1.9"/>
<circle cx="225.07" cy="329.27" r="1.9"/>
<circle cx="222.18" cy="331.64" r="1.9"/>
<circle cx="219.55" cy="326.84" r="1.9"/>
<circle cx="220.92" cy="331.04" r="1.9"/>
<circle cx="220.15" cy="326.32" r="1.9"/>
<circle cx="223.99" cy="341.63" r="1.9"/>
<circle cx="224.65" cy="340.96" r="1.9"/>
<circle cx="220.81" cy="342.08" r="1.9"/>
<circle cx="223.01" cy="339.88" r="1.9"/>
<circle cx="225.16" cy="340.55" r="1.9"/>
<circle cx="221.9" cy="338.33" r="1.9"/>
<circle cx="249.34" cy="325.29" r="1.9"/>
<circle cx="247.69" cy="329.43" r="1.9"/>
<circle cx="251" cy="314.78" r="1.9"/>
<circle cx="244.71" cy="321.6" r="1.9"/>
<circle cx="253.72" cy="332.86" r="1.9"/>
<circle cx="248.65" cy="309.19" r="1.9"/>
<circle cx="253.21" cy="325.74" r="1.9"/>
<circle cx="254.36" cy="314.65" r="1.9"/>
<circle cx="255.31" cy="321.87" r="1.9"/>
<circle cx="248.83" cy="308.9" r="1.9"/>
<circle cx="253.35" cy="334.1" r="1.9"/>
<circle cx="255.19" cy="328.84" r="1.9"/>
<circle cx="245.27" cy="327.05" r="1.9"/>
<circle cx="252.53" cy="327.71" r="1.9"/>
<circle cx="251.62" cy="310.44" r="1.9"/>
<circle cx="249.14" cy="320.34" r="1.9"/>
<circle cx="246.85" cy="325.16" r="1.9"/>
<circle cx="245.64" cy="320.2" r="1.9"/>
<circle cx="248.94" cy="309.7" r="1.9"/>
<circle cx="254.76" cy="318.25" r="1.9"/>
<circle cx="248.41" cy="321.92" r="1.9"/>
<circle cx="246.98" cy="315.55" r="1.9"/>
<circle cx="251.03" cy="316.85" r="1.9"/>
<circle cx="248.85" cy="323.34" r="1.9"/>
<circle cx="251.14" cy="322.69" r="1.9"/>
<circle cx="249.18" cy="331.82" r="1.9"/>
<circle cx="246.91" cy="322.3" r="1.9"/>
<circle cx="246.21" cy="308.68" r="1.9"/>
<circle cx="253.55" cy="326.42" r="1.9"/>
<circle cx="251.71" cy="324.59" r="1.9"/>
<circle cx="246.71" cy="317.21" r="1.9"/>
<circle cx="249.66" cy="317.61" r="1.9"/>
<circle cx="250.53" cy="330.47" r="1.9"/>
<circle cx="249.71" cy="322.09" r="1.9"/>
<circle cx="253.62" cy="313.17" r="1.9"/>
<circle cx="252.5" cy="334.62" r="1.9"/>
<circle cx="247.62" cy="332.53" r="1.9"/>
<circle cx="248.13" cy="312.5" r="1.9"/>
<circle cx="250.41" cy="307.86" r="1.9"/>
<circle cx="246.17" cy="333.81" r="1.9"/>
<circle cx="254.2" cy="333.38" r="1.9"/>
<circle cx="244.52" cy="316.49" r="1.9"/>
<circle cx="249.66" cy="327.09" r="1.9"/>
<circle cx="247.17" cy="315.56" r="1.9"/>
<circle cx="249.93" cy="334.84" r="1.9"/>
<circle cx="245.87" cy="341.42" r="1.9"/>
<circle cx="247.95" cy="343.86" r="1.9"/>
<circle cx="253.39" cy="342.45" r="1.9"/>
<circle cx="252.3" cy="339.46" r="1.9"/>
<circle cx="247.27" cy="340.98" r="1.9"/>
<circle cx="249.25" cy="338.14" r="1.9"/>
<circle cx="245.29" cy="338.24" r="1.9"/>
<circle cx="246.27" cy="340.08" r="1.9"/>
<circle cx="246.78" cy="338.19" r="1.9"/>
<circle cx="252.75" cy="343.73" r="1.9"/>
<circle cx="275.26" cy="312.34" r="1.9"/>
<circle cx="273.57" cy="316.66" r="1.9"/>
<circle cx="274.07" cy="326.26" r="1.9"/>
<circle cx="278.08" cy="316.35" r="1.9"/>
<circle cx="276.28" cy="321.76" r="1.9"/>
<circle cx="271.71" cy="318.67" r="1.9"/>
<circle cx="276.86" cy="319.35" r="1.9"/>
<circle cx="274.11" cy="314.18" r="1.9"/>
<circle cx="272.17" cy="317.61" r="1.9"/>
<circle cx="278.91" cy="311.79" r="1.9"/>
<circle cx="271.47" cy="322.62" r="1.9"/>
<circle cx="275.77" cy="322.63" r="1.9"/>
<circle cx="279.94" cy="318.9" r="1.9"/>
<circle cx="277.11" cy="321.07" r="1.9"/>
<circle cx="278.8" cy="332.72" r="1.9"/>
<circle cx="274.99" cy="312.05" r="1.9"/>
<circle cx="281.84" cy="326.59" r="1.9"/>
<circle cx="270.67" cy="322.49" r="1.9"/>
<circle cx="278.89" cy="332.87" r="1.9"/>
<circle cx="275.85" cy="329.51" r="1.9"/>
<circle cx="271.91" cy="312.74" r="1.9"/>
<circle cx="273.86" cy="327.53" r="1.9"/>
<circle cx="282.21" cy="327.05" r="1.9"/>
<circle cx="279.01" cy="315.39" r="1.9"/>
<circle cx="279.05" cy="328.35" r="1.9"/>
<circle cx="280.49" cy="318.67" r="1.9"/>
<circle cx="270.14" cy="320.92" r="1.9"/>
<circle cx="274.62" cy="313.47" r="1.9"/>
<circle cx="276.12" cy="323" r="1.9"/>
<circle cx="281.45" cy="326.37" r="1.9"/>
<circle cx="280.99" cy="327.95" r="1.9"/>
<circle cx="272.25" cy="325.57" r="1.9"/>
<circle cx="279.36" cy="342.09" r="1.9"/>
<circle cx="276.89" cy="341.48" r="1.9"/>
<circle cx="275.35" cy="341.33" r="1.9"/>
<circle cx="273.89" cy="340.47" r="1.9"/>
<circle cx="276.12" cy="338.13" r="1.9"/>
<circle cx="276.67" cy="337.23" r="1.9"/>
</g><g fill="#e5332a">
<circle cx="65.1" cy="312.31" r="1.9"/>
<circle cx="57.66" cy="310.96" r="1.9"/>
<circle cx="61.14" cy="310.35" r="1.9"/>
<circle cx="59.25" cy="308.68" r="1.9"/>
<circle cx="61.87" cy="310.98" r="1.9"/>
<circle cx="62.1" cy="308.9" r="1.9"/>
<circle cx="60.14" cy="319.05" r="1.9"/>
<circle cx="59.41" cy="314.09" r="1.9"/>
<circle cx="59.54" cy="308.67" r="1.9"/>
<circle cx="65.33" cy="312.01" r="1.9"/>
<circle cx="84.67" cy="311.41" r="1.9"/>
<circle cx="89.45" cy="317.15" r="1.9"/>
<circle cx="87.81" cy="310.41" r="1.9"/>
<circle cx="86.82" cy="299.89" r="1.9"/>
<circle cx="90.1" cy="303.79" r="1.9"/>
<circle cx="91.56" cy="314.92" r="1.9"/>
<circle cx="85.32" cy="303.94" r="1.9"/>
<circle cx="88.59" cy="308.7" r="1.9"/>
<circle cx="86.18" cy="316.31" r="1.9"/>
<circle cx="90.57" cy="322.65" r="1.9"/>
<circle cx="90.86" cy="309.99" r="1.9"/>
<circle cx="85.92" cy="310.89" r="1.9"/>
<circle cx="86.63" cy="299.92" r="1.9"/>
<circle cx="85.84" cy="299.62" r="1.9"/>
<circle cx="92.6" cy="309.64" r="1.9"/>
<circle cx="86.41" cy="316.82" r="1.9"/>
<circle cx="89.12" cy="301.7" r="1.9"/>
<circle cx="88.27" cy="326.58" r="1.9"/>
<circle cx="88.98" cy="323.6" r="1.9"/>
<circle cx="89.32" cy="310.83" r="1.9"/>
<circle cx="90.42" cy="309.46" r="1.9"/>
<circle cx="86.39" cy="322.69" r="1.9"/>
<circle cx="90.48" cy="309.06" r="1.9"/>
<circle cx="86.88" cy="301.76" r="1.9"/>
<circle cx="88.65" cy="316.13" r="1.9"/>
<circle cx="86.71" cy="314.57" r="1.9"/>
<circle cx="86.92" cy="320.3" r="1.9"/>
<circle cx="88.58" cy="318.48" r="1.9"/>
<circle cx="88.08" cy="299.5" r="1.9"/>
<circle cx="87" cy="316.02" r="1.9"/>
<circle cx="90.12" cy="299.81" r="1.9"/>
<circle cx="89.01" cy="301.13" r="1.9"/>
<circle cx="84.17" cy="310" r="1.9"/>
<circle cx="86.43" cy="319.36" r="1.9"/>
<circle cx="88.02" cy="299.26" r="1.9"/>
<circle cx="92.49" cy="312.77" r="1.9"/>
<circle cx="92.16" cy="315.02" r="1.9"/>
<circle cx="88.74" cy="317.71" r="1.9"/>
<circle cx="84.96" cy="299.17" r="1.9"/>
<circle cx="91.11" cy="312.9" r="1.9"/>
<circle cx="87.74" cy="318.62" r="1.9"/>
<circle cx="89.09" cy="313.31" r="1.9"/>
<circle cx="115.4" cy="324.88" r="1.9"/>
<circle cx="116.98" cy="322.98" r="1.9"/>
<circle cx="115.65" cy="324.68" r="1.9"/>
<circle cx="138.59" cy="308.73" r="1.9"/>
<circle cx="144.16" cy="315.25" r="1.9"/>
<circle cx="146.01" cy="313.84" r="1.9"/>
<circle cx="139.27" cy="315.17" r="1.9"/>
<circle cx="144.06" cy="305.77" r="1.9"/>
<circle cx="140.67" cy="307.59" r="1.9"/>
<circle cx="143.6" cy="307.47" r="1.9"/>
<circle cx="145.46" cy="310.43" r="1.9"/>
<circle cx="143.31" cy="313.22" r="1.9"/>
<circle cx="144.68" cy="316.52" r="1.9"/>
<circle cx="141.09" cy="307.7" r="1.9"/>
<circle cx="137.44" cy="312.07" r="1.9"/>
<circle cx="142.19" cy="317.86" r="1.9"/>
<circle cx="142.88" cy="316.18" r="1.9"/>
<circle cx="173.73" cy="305.32" r="1.9"/>
<circle cx="166.63" cy="309.62" r="1.9"/>
<circle cx="168.35" cy="309.78" r="1.9"/>
<circle cx="168.09" cy="319.81" r="1.9"/>
<circle cx="168.88" cy="320.01" r="1.9"/>
<circle cx="166.91" cy="307.54" r="1.9"/>
<circle cx="169.96" cy="313.5" r="1.9"/>
<circle cx="165.3" cy="305.79" r="1.9"/>
<circle cx="165.69" cy="306.6" r="1.9"/>
<circle cx="168.6" cy="305.1" r="1.9"/>
<circle cx="166.64" cy="314.08" r="1.9"/>
<circle cx="168.06" cy="303.7" r="1.9"/>
<circle cx="172.86" cy="307.76" r="1.9"/>
<circle cx="172.73" cy="305.5" r="1.9"/>
<circle cx="167.63" cy="317.93" r="1.9"/>
<circle cx="164.25" cy="307.35" r="1.9"/>
<circle cx="170.92" cy="313.35" r="1.9"/>
<circle cx="172.91" cy="304.15" r="1.9"/>
<circle cx="196.04" cy="298.94" r="1.9"/>
<circle cx="223.93" cy="310.47" r="1.9"/>
<circle cx="223.4" cy="311.52" r="1.9"/>
<circle cx="224.54" cy="318.19" r="1.9"/>
<circle cx="222.81" cy="316.65" r="1.9"/>
<circle cx="222.5" cy="302.3" r="1.9"/>
<circle cx="221.67" cy="304.57" r="1.9"/>
<circle cx="224.76" cy="315.99" r="1.9"/>
<circle cx="222.03" cy="305" r="1.9"/>
<circle cx="223.45" cy="308.31" r="1.9"/>
<circle cx="224.87" cy="313.26" r="1.9"/>
<circle cx="222.39" cy="308.43" r="1.9"/>
<circle cx="224.34" cy="316.16" r="1.9"/>
<circle cx="219.05" cy="315.32" r="1.9"/>
<circle cx="221.53" cy="320.22" r="1.9"/>
<circle cx="250" cy="284.27" r="1.9"/>
<circle cx="250.99" cy="315.35" r="1.9"/>
<circle cx="245.14" cy="314.21" r="1.9"/>
<circle cx="249.77" cy="305.05" r="1.9"/>
<circle cx="249.43" cy="318.14" r="1.9"/>
<circle cx="249.1" cy="309.95" r="1.9"/>
<circle cx="246.31" cy="315.53" r="1.9"/>
<circle cx="247.49" cy="307.7" r="1.9"/>
<circle cx="249.16" cy="308.95" r="1.9"/>
<circle cx="246.18" cy="317.72" r="1.9"/>
<circle cx="251.28" cy="306.56" r="1.9"/>
<circle cx="247.16" cy="312.23" r="1.9"/>
<circle cx="247.6" cy="313.75" r="1.9"/>
<circle cx="246.8" cy="304.35" r="1.9"/>
<circle cx="247.98" cy="305.71" r="1.9"/>
<circle cx="253.91" cy="313.95" r="1.9"/>
<circle cx="247.64" cy="307.48" r="1.9"/>
<circle cx="246.18" cy="317.21" r="1.9"/>
<circle cx="248.14" cy="310.27" r="1.9"/>
<circle cx="253.19" cy="317.93" r="1.9"/>
<circle cx="245.57" cy="308.13" r="1.9"/>
<circle cx="276.49" cy="310.09" r="1.9"/>
<circle cx="276.65" cy="317.23" r="1.9"/>
<circle cx="278.77" cy="306.22" r="1.9"/>
<circle cx="279.05" cy="305.08" r="1.9"/>
<circle cx="276.31" cy="310.26" r="1.9"/>
<circle cx="280.47" cy="308.98" r="1.9"/>
<circle cx="276.08" cy="304.02" r="1.9"/>
<circle cx="276.8" cy="300.07" r="1.9"/>
<circle cx="281.43" cy="307.38" r="1.9"/>
<circle cx="276.01" cy="319.47" r="1.9"/>
<circle cx="278.32" cy="309.67" r="1.9"/>
<circle cx="281.12" cy="306.33" r="1.9"/>
<circle cx="274.38" cy="313.37" r="1.9"/>
<circle cx="279.29" cy="305.86" r="1.9"/>
<circle cx="277.42" cy="312.59" r="1.9"/>
<circle cx="276.95" cy="307.3" r="1.9"/>
<circle cx="279.43" cy="307.35" r="1.9"/>
<circle cx="280.14" cy="306.16" r="1.9"/>
<circle cx="275.04" cy="300.73" r="1.9"/>
<circle cx="276.43" cy="305.36" r="1.9"/>
<circle cx="277.66" cy="305.32" r="1.9"/>
<circle cx="278.47" cy="305.43" r="1.9"/>
<circle cx="278.61" cy="315.51" r="1.9"/>
<circle cx="279.56" cy="307.35" r="1.9"/>
<circle cx="279.83" cy="307.22" r="1.9"/>
<circle cx="275.12" cy="319.12" r="1.9"/>
<circle cx="275.91" cy="304.37" r="1.9"/>
<circle cx="278.4" cy="315.59" r="1.9"/>
</g><g fill="#0a0a0a">
<circle cx="53.4" cy="332.83" r="1.9"/>
<circle cx="55.08" cy="336.23" r="1.9"/>
<circle cx="56.07" cy="333.78" r="1.9"/>
<circle cx="56.76" cy="336.04" r="1.9"/>
<circle cx="58.26" cy="333.87" r="1.9"/>
<circle cx="59.3" cy="336.24" r="1.9"/>
<circle cx="60.81" cy="333.46" r="1.9"/>
<circle cx="62.17" cy="335.09" r="1.9"/>
<circle cx="62.91" cy="332.38" r="1.9"/>
<circle cx="63.81" cy="335.48" r="1.9"/>
<circle cx="65.33" cy="333.4" r="1.9"/>
<circle cx="66.32" cy="334.6" r="1.9"/>
<circle cx="67.81" cy="334.17" r="1.9"/>
<circle cx="69.29" cy="336.12" r="1.9"/>
<circle cx="80.73" cy="333.36" r="1.9"/>
<circle cx="82.16" cy="336.3" r="1.9"/>
<circle cx="82.1" cy="332.64" r="1.9"/>
<circle cx="83.56" cy="336.22" r="1.9"/>
<circle cx="84.76" cy="332.2" r="1.9"/>
<circle cx="85.76" cy="335.59" r="1.9"/>
<circle cx="86.29" cy="334.1" r="1.9"/>
<circle cx="88.29" cy="335.3" r="1.9"/>
<circle cx="89.37" cy="334.14" r="1.9"/>
<circle cx="89.58" cy="336.21" r="1.9"/>
<circle cx="90.8" cy="334.12" r="1.9"/>
<circle cx="91.67" cy="335.47" r="1.9"/>
<circle cx="92.77" cy="334.14" r="1.9"/>
<circle cx="93.48" cy="334.31" r="1.9"/>
<circle cx="94.69" cy="333.2" r="1.9"/>
<circle cx="96" cy="335.22" r="1.9"/>
<circle cx="108.11" cy="333.3" r="1.9"/>
<circle cx="108.92" cy="335.4" r="1.9"/>
<circle cx="110.7" cy="332.31" r="1.9"/>
<circle cx="111.8" cy="334.31" r="1.9"/>
<circle cx="113.26" cy="334.03" r="1.9"/>
<circle cx="114.91" cy="335.45" r="1.9"/>
<circle cx="115.38" cy="332.23" r="1.9"/>
<circle cx="116.74" cy="335.12" r="1.9"/>
<circle cx="118.66" cy="332.43" r="1.9"/>
<circle cx="119.94" cy="335.87" r="1.9"/>
<circle cx="121.18" cy="333.83" r="1.9"/>
<circle cx="122.91" cy="335.58" r="1.9"/>
<circle cx="133.85" cy="333.26" r="1.9"/>
<circle cx="135.95" cy="335.2" r="1.9"/>
<circle cx="136.27" cy="332.32" r="1.9"/>
<circle cx="136.95" cy="335.58" r="1.9"/>
<circle cx="138.85" cy="334.24" r="1.9"/>
<circle cx="139.84" cy="335.57" r="1.9"/>
<circle cx="139.97" cy="333.73" r="1.9"/>
<circle cx="141.54" cy="335.52" r="1.9"/>
<circle cx="142.65" cy="334.14" r="1.9"/>
<circle cx="143.33" cy="334.3" r="1.9"/>
<circle cx="144.64" cy="333.27" r="1.9"/>
<circle cx="145.24" cy="335.74" r="1.9"/>
<circle cx="147.33" cy="332.83" r="1.9"/>
<circle cx="147.83" cy="336.2" r="1.9"/>
<circle cx="148.73" cy="332.64" r="1.9"/>
<circle cx="149.81" cy="335.09" r="1.9"/>
<circle cx="161.69" cy="332.96" r="1.9"/>
<circle cx="162.34" cy="335.01" r="1.9"/>
<circle cx="163.36" cy="333.7" r="1.9"/>
<circle cx="165.3" cy="335.41" r="1.9"/>
<circle cx="166.51" cy="333.88" r="1.9"/>
<circle cx="166.79" cy="336.21" r="1.9"/>
<circle cx="168.69" cy="333.09" r="1.9"/>
<circle cx="169" cy="336.22" r="1.9"/>
<circle cx="171.17" cy="333.23" r="1.9"/>
<circle cx="172.41" cy="336.23" r="1.9"/>
<circle cx="173.26" cy="334.01" r="1.9"/>
<circle cx="174.6" cy="335.05" r="1.9"/>
<circle cx="175.66" cy="333.79" r="1.9"/>
<circle cx="177.25" cy="336.08" r="1.9"/>
<circle cx="187.85" cy="333.56" r="1.9"/>
<circle cx="189.6" cy="336.04" r="1.9"/>
<circle cx="190.09" cy="333.39" r="1.9"/>
<circle cx="191.79" cy="336.05" r="1.9"/>
<circle cx="192.44" cy="332.68" r="1.9"/>
<circle cx="193.57" cy="336.31" r="1.9"/>
<circle cx="194.87" cy="333.6" r="1.9"/>
<circle cx="195.79" cy="334.95" r="1.9"/>
<circle cx="196.31" cy="332.52" r="1.9"/>
<circle cx="197.66" cy="335.61" r="1.9"/>
<circle cx="198.76" cy="333.2" r="1.9"/>
<circle cx="199.77" cy="335.04" r="1.9"/>
<circle cx="200.91" cy="333.92" r="1.9"/>
<circle cx="201.59" cy="336.31" r="1.9"/>
<circle cx="202.98" cy="332.65" r="1.9"/>
<circle cx="204.07" cy="336.22" r="1.9"/>
<circle cx="214.91" cy="333.95" r="1.9"/>
<circle cx="216" cy="336.3" r="1.9"/>
<circle cx="217.02" cy="333.37" r="1.9"/>
<circle cx="218.15" cy="336.3" r="1.9"/>
<circle cx="219.87" cy="332.27" r="1.9"/>
<circle cx="221.4" cy="335.64" r="1.9"/>
<circle cx="222.69" cy="334.08" r="1.9"/>
<circle cx="222.95" cy="336.3" r="1.9"/>
<circle cx="224.03" cy="333.01" r="1.9"/>
<circle cx="226.05" cy="335.33" r="1.9"/>
<circle cx="227.29" cy="333.32" r="1.9"/>
<circle cx="228.62" cy="335.06" r="1.9"/>
<circle cx="229.34" cy="333.9" r="1.9"/>
<circle cx="230.4" cy="335.4" r="1.9"/>
<circle cx="241.92" cy="333.01" r="1.9"/>
<circle cx="243.32" cy="336.04" r="1.9"/>
<circle cx="244.27" cy="333.09" r="1.9"/>
<circle cx="245.15" cy="336.1" r="1.9"/>
<circle cx="247.22" cy="334.21" r="1.9"/>
<circle cx="247.89" cy="335.7" r="1.9"/>
<circle cx="248.51" cy="333.69" r="1.9"/>
<circle cx="249.85" cy="335.49" r="1.9"/>
<circle cx="251.94" cy="334.08" r="1.9"/>
<circle cx="252.45" cy="334.88" r="1.9"/>
<circle cx="253.97" cy="334.2" r="1.9"/>
<circle cx="254.68" cy="335.73" r="1.9"/>
<circle cx="256.66" cy="333.34" r="1.9"/>
<circle cx="257.08" cy="335.32" r="1.9"/>
<circle cx="269.32" cy="332.39" r="1.9"/>
<circle cx="270.02" cy="334.69" r="1.9"/>
<circle cx="270.78" cy="332.29" r="1.9"/>
<circle cx="272.84" cy="335.32" r="1.9"/>
<circle cx="274.05" cy="333.63" r="1.9"/>
<circle cx="275.35" cy="335.65" r="1.9"/>
<circle cx="276.47" cy="332.52" r="1.9"/>
<circle cx="277.67" cy="334.81" r="1.9"/>
<circle cx="277.82" cy="333.67" r="1.9"/>
<circle cx="279.71" cy="334.44" r="1.9"/>
<circle cx="280.92" cy="334.17" r="1.9"/>
<circle cx="281.71" cy="335.6" r="1.9"/>
<circle cx="282.68" cy="333.78" r="1.9"/>
<circle cx="284.28" cy="335.54" r="1.9"/>
</g>
<!-- panel C -->
<text x="298.7" y="228.2" font-size="13.2" font-weight="bold">C</text>
<text x="420" y="229.2" font-size="9" text-anchor="middle">Chromosome 8</text>
<path d="M332.5,250.2 L509,250.2 A6.2,6.2 0 0 1 509,262.6 L332.5,262.6 A3.5,6.2 0 0 1 332.5,250.2 Z" fill="#fff" stroke="#111" stroke-width="0.9"/>
<path d="M332.5,250.2 L336,250.2 L336,262.6 L332.5,262.6 A3.5,6.2 0 0 1 332.5,250.2 Z" fill="#000"/>
<rect x="340.2" y="250.2" width="4.2" height="12.4" fill="#ababab"/>
<rect x="351" y="250.2" width="4" height="12.4" fill="#ababab"/>
<rect x="361.6" y="250.2" width="3.8" height="12.4" fill="#ababab"/>
<rect x="371.3" y="250.2" width="10.2" height="12.4" fill="#ababab"/>
<rect x="385.5" y="250.2" width="10.9" height="12.4" fill="#ababab"/>
<rect x="401.4" y="250.2" width="10.3" height="12.4" fill="#ababab"/>
<rect x="423.2" y="250.2" width="4.7" height="12.4" fill="#ababab"/>
<rect x="437.2" y="250.2" width="8.4" height="12.4" fill="#ababab"/>
<rect x="449.7" y="250.2" width="11.3" height="12.4" fill="#ababab"/>
<rect x="465.3" y="250.2" width="9.4" height="12.4" fill="#ababab"/>
<rect x="483.5" y="250.2" width="8.1" height="12.4" fill="#ababab"/>
<rect x="497.5" y="250.2" width="7.1" height="12.4" fill="#ababab"/>
<line x1="336" y1="250.2" x2="336" y2="262.6" stroke="#111" stroke-width="0.9"/>
<line x1="340.2" y1="250.2" x2="340.2" y2="262.6" stroke="#111" stroke-width="0.9"/>
<line x1="344.4" y1="250.2" x2="344.4" y2="262.6" stroke="#111" stroke-width="0.9"/>
<line x1="351" y1="250.2" x2="351" y2="262.6" stroke="#111" stroke-width="0.9"/>
<line x1="355" y1="250.2" x2="355" y2="262.6" stroke="#111" stroke-width="0.9"/>
<line x1="361.6" y1="250.2" x2="361.6" y2="262.6" stroke="#111" stroke-width="0.9"/>
<line x1="365.4" y1="250.2" x2="365.4" y2="262.6" stroke="#111" stroke-width="0.9"/>
<line x1="371.3" y1="250.2" x2="371.3" y2="262.6" stroke="#111" stroke-width="0.9"/>
<line x1="381.5" y1="250.2" x2="381.5" y2="262.6" stroke="#111" stroke-width="0.9"/>
<line x1="385.5" y1="250.2" x2="385.5" y2="262.6" stroke="#111" stroke-width="0.9"/>
<line x1="396.4" y1="250.2" x2="396.4" y2="262.6" stroke="#111" stroke-width="0.9"/>
<line x1="401.4" y1="250.2" x2="401.4" y2="262.6" stroke="#111" stroke-width="0.9"/>
<line x1="411.7" y1="250.2" x2="411.7" y2="262.6" stroke="#111" stroke-width="0.9"/>
<line x1="423.2" y1="250.2" x2="423.2" y2="262.6" stroke="#111" stroke-width="0.9"/>
<line x1="427.9" y1="250.2" x2="427.9" y2="262.6" stroke="#111" stroke-width="0.9"/>
<line x1="437.2" y1="250.2" x2="437.2" y2="262.6" stroke="#111" stroke-width="0.9"/>
<line x1="445.6" y1="250.2" x2="445.6" y2="262.6" stroke="#111" stroke-width="0.9"/>
<line x1="449.7" y1="250.2" x2="449.7" y2="262.6" stroke="#111" stroke-width="0.9"/>
<line x1="461" y1="250.2" x2="461" y2="262.6" stroke="#111" stroke-width="0.9"/>
<line x1="465.3" y1="250.2" x2="465.3" y2="262.6" stroke="#111" stroke-width="0.9"/>
<line x1="474.7" y1="250.2" x2="474.7" y2="262.6" stroke="#111" stroke-width="0.9"/>
<line x1="483.5" y1="250.2" x2="483.5" y2="262.6" stroke="#111" stroke-width="0.9"/>
<line x1="491.6" y1="250.2" x2="491.6" y2="262.6" stroke="#111" stroke-width="0.9"/>
<line x1="497.5" y1="250.2" x2="497.5" y2="262.6" stroke="#111" stroke-width="0.9"/>
<line x1="504.6" y1="250.2" x2="504.6" y2="262.6" stroke="#111" stroke-width="0.9"/>
<line x1="332.5" y1="250.2" x2="509" y2="250.2" stroke="#111" stroke-width="0.9"/>
<line x1="332.5" y1="262.6" x2="509" y2="262.6" stroke="#111" stroke-width="0.9"/>
<text transform="translate(332.6,248) rotate(-90)" font-size="5.6">11.1</text>
<text transform="translate(344.3,248) rotate(-90)" font-size="5.6">11.22</text>
<text transform="translate(355,248) rotate(-90)" font-size="5.6">12.1</text>
<text transform="translate(365.5,248) rotate(-90)" font-size="5.6">12.3</text>
<text transform="translate(378.4,248) rotate(-90)" font-size="5.6">13.2</text>
<text transform="translate(396,248) rotate(-90)" font-size="5.6">21.13</text>
<text transform="translate(408.5,248) rotate(-90)" font-size="5.6">21.3</text>
<text transform="translate(427.5,248) rotate(-90)" font-size="5.6">22.2</text>
<text transform="translate(443.4,248) rotate(-90)" font-size="5.6">23.1</text>
<text transform="translate(457.3,248) rotate(-90)" font-size="5.6">23.3</text>
<text transform="translate(472,248) rotate(-90)" font-size="5.6">24.12</text>
<text transform="translate(489.5,248) rotate(-90)" font-size="5.6">24.21</text>
<text transform="translate(503,248) rotate(-90)" font-size="5.6">24.23</text>
<line x1="331.2" y1="272.4" x2="331.2" y2="379.8" stroke="#555" stroke-width="0.9"/>
<line x1="327.6" y1="379.8" x2="331.2" y2="379.8" stroke="#555" stroke-width="0.8"/>
<text transform="translate(325,379.8) rotate(-90)" font-size="8.2" text-anchor="middle">0</text>
<line x1="327.6" y1="361.9" x2="331.2" y2="361.9" stroke="#555" stroke-width="0.8"/>
<text transform="translate(325,361.9) rotate(-90)" font-size="8.2" text-anchor="middle">5</text>
<line x1="327.6" y1="344" x2="331.2" y2="344" stroke="#555" stroke-width="0.8"/>
<text transform="translate(325,344) rotate(-90)" font-size="8.2" text-anchor="middle">10</text>
<line x1="327.6" y1="326.1" x2="331.2" y2="326.1" stroke="#555" stroke-width="0.8"/>
<text transform="translate(325,326.1) rotate(-90)" font-size="8.2" text-anchor="middle">15</text>
<line x1="327.6" y1="308.2" x2="331.2" y2="308.2" stroke="#555" stroke-width="0.8"/>
<text transform="translate(325,308.2) rotate(-90)" font-size="8.2" text-anchor="middle">20</text>
<line x1="327.6" y1="290.3" x2="331.2" y2="290.3" stroke="#555" stroke-width="0.8"/>
<text transform="translate(325,290.3) rotate(-90)" font-size="8.2" text-anchor="middle">25</text>
<line x1="327.6" y1="272.4" x2="331.2" y2="272.4" stroke="#555" stroke-width="0.8"/>
<text transform="translate(325,272.4) rotate(-90)" font-size="8.2" text-anchor="middle">30</text>
<line x1="331.2" y1="380" x2="514.3" y2="380" stroke="#999" stroke-width="0.9"/>
<line x1="514.3" y1="267.5" x2="514.3" y2="380" stroke="#666" stroke-width="0.9"/>
<line x1="331.2" y1="380" x2="331.2" y2="384" stroke="#888" stroke-width="0.8"/>
<line x1="465.3" y1="265" x2="465.3" y2="380" stroke="#777" stroke-width="0.7" stroke-dasharray="1.6,1.6"/>
<line x1="508" y1="265" x2="508" y2="380" stroke="#777" stroke-width="0.7" stroke-dasharray="1.6,1.6"/>
<text x="464.6" y="393.2" font-size="8.8" text-anchor="middle">MYC</text>
<text x="506.2" y="393.2" font-size="9.2" text-anchor="middle">LY6E</text>
<text transform="translate(313.4,320.6) rotate(-90)" font-size="9" text-anchor="middle">−log<tspan font-size="6.6" dy="2">10</tspan><tspan dy="-2" font-style="italic"> Q</tspan> value</text>
<path d="M331,375.6 L332.21,375.6 L332.21,375.6 L333.42,375.6 L333.42,375.6 L334.62,375.6 L334.62,375.6 L335.83,375.6 L335.83,375.6 L337.04,375.6 L337.04,375.6 L338.25,375.6 L338.25,375.6 L339.46,375.6 L339.46,375.6 L340.67,375.6 L340.67,375.6 L341.88,375.6 L341.88,375.6 L343.08,375.6 L343.08,375.6 L344.29,375.6 L344.29,375.6 L345.5,375.6 L345.5,375.6 L346.71,375.6 L346.71,375.6 L347.92,375.6 L347.92,375.6 L349.12,375.6 L349.12,375.6 L350.33,375.6 L350.33,375.6 L351.54,375.6 L351.54,375.6 L352.75,375.6 L352.75,375.6 L353.96,375.6 L353.96,375.6 L355.17,375.6 L355.17,375.6 L356.38,375.6 L356.38,375.6 L357.58,375.6 L357.58,375.6 L358.79,375.6 L358.79,375.6 L360,375.6 L360,375.6 L361.45,375.6 L361.45,375.45 L362.9,375.45 L362.9,374.93 L364.35,374.93 L364.35,375.21 L365.8,375.21 L365.8,375 L367.4,375 L367.4,373.32 L369,373.32 L369,372 L370.23,372 L370.23,370.81 L371.47,370.81 L371.47,369.51 L372.7,369.51 L372.7,368 L374.35,368 L374.35,366.64 L376,366.64 L376,366.5 L378,366.5 L378,365 L379.65,365 L379.65,363.32 L381.3,363.32 L381.3,363 L383,363 L383,362.5 L384.5,362.5 L384.5,360 L386,360 L386,362 L388,362 L388,359.5 L390,359.5 L390,361 L391.5,361 L391.5,358.5 L393.5,358.5 L393.5,358 L394.6,358 L394.6,352.5 L397,352.5 L397,351.5 L398.7,351.5 L398.7,351.87 L400.4,351.87 L400.4,351.3 L401.5,351.3 L401.5,345 L402.75,345 L402.75,343.91 L404,343.91 L404,343.5 L405.35,343.5 L405.35,342.43 L406.7,342.43 L406.7,342.1 L408.15,342.1 L408.15,344.24 L409.6,344.24 L409.6,345 L412,345 L412,344.2 L413.5,344.2 L413.5,343.21 L415,343.21 L415,342.3 L416.33,342.3 L416.33,342.77 L417.67,342.77 L417.67,342.27 L419,342.27 L419,342.49 L420.33,342.49 L420.33,341.81 L421.67,341.81 L421.67,342.49 L423,342.49 L423,342.3 L424.27,342.3 L424.27,343.47 L425.55,343.47 L425.55,343.63 L426.83,343.63 L426.83,344.59 L428.1,344.59 L428.1,344.9 L429.65,344.9 L429.65,344.14 L431.2,344.14 L431.2,342.9 L432.53,342.9 L432.53,341.96 L433.87,341.96 L433.87,342.59 L435.2,342.59 L435.2,342.03 L436.53,342.03 L436.53,341.29 L437.87,341.29 L437.87,340.58 L439.2,340.58 L439.2,340.9 L440.75,340.9 L440.75,341.11 L442.3,341.11 L442.3,340.3 L443.55,340.3 L443.55,340.76 L444.8,340.76 L444.8,341.61 L446.05,341.61 L446.05,342.33 L447.3,342.33 L447.3,342.3 L448.57,342.3 L448.57,342.35 L449.85,342.35 L449.85,342.39 L451.12,342.39 L451.12,341.4 L452.4,341.4 L452.4,341.3 L454.4,341.3 L454.4,338.2 L456.4,338.2 L456.4,336.2 L457.4,336.2 L457.4,331.2 L458.95,331.2 L458.95,330.07 L460.5,330.07 L460.5,328.1 L461.75,328.1 L461.75,327.67 L463,327.67 L463,328.01 L464.25,328.01 L464.25,327.58 L465.5,327.58 L465.5,326.7 L466.83,326.7 L466.83,326.6 L468.17,326.6 L468.17,327.12 L469.5,327.12 L469.5,328.1 L470.77,328.1 L470.77,327.85 L472.05,327.85 L472.05,329.05 L473.33,329.05 L473.33,328.46 L474.6,328.46 L474.6,328.7 L476.6,328.7 L476.6,326.7 L478.6,326.7 L478.6,329.1 L480.02,329.1 L480.02,329.08 L481.44,329.08 L481.44,328.42 L482.86,328.42 L482.86,328.51 L484.28,328.51 L484.28,328.14 L485.7,328.14 L485.7,328.1 L487.03,328.1 L487.03,327.02 L488.37,327.02 L488.37,326.49 L489.7,326.49 L489.7,325.5 L491.25,325.5 L491.25,325.42 L492.8,325.42 L492.8,325.1 L494.13,325.1 L494.13,326.2 L495.47,326.2 L495.47,326.42 L496.8,326.42 L496.8,326.7 L498.8,326.7 L498.8,328.7 L500.17,328.7 L500.17,329.57 L501.53,329.57 L501.53,329.73 L502.9,329.73 L502.9,329.5 L504.23,329.5 L504.23,330.89 L505.57,330.89 L505.57,331.14 L506.9,331.14 L506.9,331.6 L508.27,331.6 L508.27,331.66 L509.63,331.66 L509.63,333.17 L511,333.17 L511,333.2 L512.5,333.2 L512.5,336.35 L514,336.35 L514,338.2" fill="none" stroke="#b8444c" stroke-width="0.85" stroke-linejoin="round"/>
<!-- panel D -->
<text x="0.1" y="445.2" font-size="13.2" font-weight="bold">D</text>
<rect x="35" y="448.4" width="222.2" height="198.7" fill="none" stroke="#9a9a9a" stroke-width="0.85"/>
<line x1="35" y1="448.4" x2="35" y2="647.1" stroke="#6a6a6a" stroke-width="1"/>
<line x1="49.1" y1="566" x2="49.1" y2="585" stroke="#222" stroke-width="0.7" stroke-dasharray="1.3,1.3"/>
<line x1="49.1" y1="627.5" x2="49.1" y2="634.5" stroke="#222" stroke-width="0.7" stroke-dasharray="1.3,1.3"/>
<line x1="46.1" y1="566" x2="52.1" y2="566" stroke="#111" stroke-width="1.2"/>
<line x1="46.1" y1="634.5" x2="52.1" y2="634.5" stroke="#111" stroke-width="1.2"/>
<rect x="43.1" y="585" width="12" height="42.5" fill="#fff" stroke="#444" stroke-width="0.7"/>
<line x1="64" y1="524.5" x2="64" y2="544.5" stroke="#222" stroke-width="0.7" stroke-dasharray="1.3,1.3"/>
<line x1="64" y1="585.75" x2="64" y2="638" stroke="#222" stroke-width="0.7" stroke-dasharray="1.3,1.3"/>
<line x1="61" y1="524.5" x2="67" y2="524.5" stroke="#111" stroke-width="1.2"/>
<line x1="61" y1="638" x2="67" y2="638" stroke="#111" stroke-width="1.2"/>
<rect x="58" y="544.5" width="12" height="41.25" fill="#fff" stroke="#444" stroke-width="0.7"/>
<line x1="78.9" y1="521" x2="78.9" y2="538" stroke="#222" stroke-width="0.7" stroke-dasharray="1.3,1.3"/>
<line x1="78.9" y1="585.5" x2="78.9" y2="631.25" stroke="#222" stroke-width="0.7" stroke-dasharray="1.3,1.3"/>
<line x1="75.9" y1="521" x2="81.9" y2="521" stroke="#111" stroke-width="1.2"/>
<line x1="75.9" y1="631.25" x2="81.9" y2="631.25" stroke="#111" stroke-width="1.2"/>
<rect x="72.9" y="538" width="12" height="47.5" fill="#fff" stroke="#444" stroke-width="0.7"/>
<line x1="93.8" y1="489" x2="93.8" y2="529.25" stroke="#222" stroke-width="0.7" stroke-dasharray="1.3,1.3"/>
<line x1="93.8" y1="566.25" x2="93.8" y2="639.5" stroke="#222" stroke-width="0.7" stroke-dasharray="1.3,1.3"/>
<line x1="90.8" y1="489" x2="96.8" y2="489" stroke="#111" stroke-width="1.2"/>
<line x1="90.8" y1="639.5" x2="96.8" y2="639.5" stroke="#111" stroke-width="1.2"/>
<rect x="87.8" y="529.25" width="12" height="37" fill="#fff" stroke="#444" stroke-width="0.7"/>
<line x1="108.7" y1="494.75" x2="108.7" y2="516.75" stroke="#222" stroke-width="0.7" stroke-dasharray="1.3,1.3"/>
<line x1="108.7" y1="565" x2="108.7" y2="611.75" stroke="#222" stroke-width="0.7" stroke-dasharray="1.3,1.3"/>
<line x1="105.7" y1="494.75" x2="111.7" y2="494.75" stroke="#111" stroke-width="1.2"/>
<line x1="105.7" y1="611.75" x2="111.7" y2="611.75" stroke="#111" stroke-width="1.2"/>
<rect x="102.7" y="516.75" width="12" height="48.25" fill="#fff" stroke="#444" stroke-width="0.7"/>
<line x1="123.6" y1="493.5" x2="123.6" y2="513.5" stroke="#222" stroke-width="0.7" stroke-dasharray="1.3,1.3"/>
<line x1="123.6" y1="561.25" x2="123.6" y2="596.75" stroke="#222" stroke-width="0.7" stroke-dasharray="1.3,1.3"/>
<line x1="120.6" y1="493.5" x2="126.6" y2="493.5" stroke="#111" stroke-width="1.2"/>
<line x1="120.6" y1="596.75" x2="126.6" y2="596.75" stroke="#111" stroke-width="1.2"/>
<rect x="117.6" y="513.5" width="12" height="47.75" fill="#fff" stroke="#444" stroke-width="0.7"/>
<line x1="138.5" y1="475.5" x2="138.5" y2="495" stroke="#222" stroke-width="0.7" stroke-dasharray="1.3,1.3"/>
<line x1="138.5" y1="527.5" x2="138.5" y2="576" stroke="#222" stroke-width="0.7" stroke-dasharray="1.3,1.3"/>
<line x1="135.5" y1="475.5" x2="141.5" y2="475.5" stroke="#111" stroke-width="1.2"/>
<line x1="135.5" y1="576" x2="141.5" y2="576" stroke="#111" stroke-width="1.2"/>
<rect x="132.5" y="495" width="12" height="32.5" fill="#fff" stroke="#444" stroke-width="0.7"/>
<line x1="153.4" y1="478.75" x2="153.4" y2="501.25" stroke="#222" stroke-width="0.7" stroke-dasharray="1.3,1.3"/>
<line x1="153.4" y1="544.25" x2="153.4" y2="592.5" stroke="#222" stroke-width="0.7" stroke-dasharray="1.3,1.3"/>
<line x1="150.4" y1="478.75" x2="156.4" y2="478.75" stroke="#111" stroke-width="1.2"/>
<line x1="150.4" y1="592.5" x2="156.4" y2="592.5" stroke="#111" stroke-width="1.2"/>
<rect x="147.4" y="501.25" width="12" height="43" fill="#fff" stroke="#444" stroke-width="0.7"/>
<line x1="168.3" y1="515" x2="168.3" y2="515.75" stroke="#222" stroke-width="0.7" stroke-dasharray="1.3,1.3"/>
<line x1="168.3" y1="521" x2="168.3" y2="527" stroke="#222" stroke-width="0.7" stroke-dasharray="1.3,1.3"/>
<line x1="165.3" y1="515" x2="171.3" y2="515" stroke="#111" stroke-width="1.2"/>
<line x1="165.3" y1="527" x2="171.3" y2="527" stroke="#111" stroke-width="1.2"/>
<rect x="162.3" y="515.75" width="12" height="5.25" fill="#fff" stroke="#444" stroke-width="0.7"/>
<line x1="183.2" y1="490.5" x2="183.2" y2="498" stroke="#222" stroke-width="0.7" stroke-dasharray="1.3,1.3"/>
<line x1="183.2" y1="515" x2="183.2" y2="525.5" stroke="#222" stroke-width="0.7" stroke-dasharray="1.3,1.3"/>
<line x1="180.2" y1="490.5" x2="186.2" y2="490.5" stroke="#111" stroke-width="1.2"/>
<line x1="180.2" y1="525.5" x2="186.2" y2="525.5" stroke="#111" stroke-width="1.2"/>
<rect x="177.2" y="498" width="12" height="17" fill="#fff" stroke="#444" stroke-width="0.7"/>
<g fill="#7c7c7c" fill-opacity="0.78" stroke="#333" stroke-width="0.45" stroke-opacity="0.78">
<circle cx="49.1" cy="566" r="1.45"/>
<circle cx="49.1" cy="634.5" r="1.45"/>
<circle cx="62.4" cy="562.09" r="1.45"/>
<circle cx="64" cy="557.07" r="1.45"/>
<circle cx="64" cy="600.69" r="1.45"/>
<circle cx="64" cy="551.53" r="1.45"/>
<circle cx="64" cy="577.12" r="1.45"/>
<circle cx="64" cy="597.43" r="1.45"/>
<circle cx="64" cy="622.15" r="1.45"/>
<circle cx="64" cy="582.35" r="1.45"/>
<circle cx="64" cy="561.78" r="1.45"/>
<circle cx="64" cy="540.01" r="1.45"/>
<circle cx="64" cy="619.1" r="1.45"/>
<circle cx="65.6" cy="586.97" r="1.45"/>
<circle cx="64" cy="564" r="1.45"/>
<circle cx="63.2" cy="555.53" r="1.45"/>
<circle cx="64" cy="560.15" r="1.45"/>
<circle cx="64" cy="544.5" r="1.45"/>
<circle cx="64" cy="585.75" r="1.45"/>
<circle cx="64" cy="524.5" r="1.45"/>
<circle cx="64" cy="638" r="1.45"/>
<circle cx="64" cy="511.75" r="1.45"/>
<circle cx="64" cy="515.5" r="1.45"/>
<circle cx="65.6" cy="600" r="1.45"/>
<circle cx="62.4" cy="620" r="1.45"/>
<circle cx="80.5" cy="615.16" r="1.45"/>
<circle cx="75.7" cy="564.39" r="1.45"/>
<circle cx="77.3" cy="529.67" r="1.45"/>
<circle cx="78.1" cy="542.95" r="1.45"/>
<circle cx="80.5" cy="601.97" r="1.45"/>
<circle cx="78.9" cy="611.21" r="1.45"/>
<circle cx="80.5" cy="529.77" r="1.45"/>
<circle cx="79.7" cy="538.91" r="1.45"/>
<circle cx="77.3" cy="558.88" r="1.45"/>
<circle cx="78.9" cy="575.31" r="1.45"/>
<circle cx="78.9" cy="557.68" r="1.45"/>
<circle cx="78.9" cy="553.2" r="1.45"/>
<circle cx="80.5" cy="584.37" r="1.45"/>
<circle cx="80.5" cy="545.36" r="1.45"/>
<circle cx="78.1" cy="539.16" r="1.45"/>
<circle cx="78.9" cy="537.45" r="1.45"/>
<circle cx="77.3" cy="546.62" r="1.45"/>
<circle cx="79.7" cy="612.78" r="1.45"/>
<circle cx="77.3" cy="596.18" r="1.45"/>
<circle cx="78.9" cy="530.24" r="1.45"/>
<circle cx="80.5" cy="560.03" r="1.45"/>
<circle cx="78.9" cy="628.82" r="1.45"/>
<circle cx="79.7" cy="543.94" r="1.45"/>
<circle cx="78.9" cy="595.77" r="1.45"/>
<circle cx="80.5" cy="563.52" r="1.45"/>
<circle cx="78.9" cy="525.69" r="1.45"/>
<circle cx="78.9" cy="615.86" r="1.45"/>
<circle cx="80.5" cy="531.6" r="1.45"/>
<circle cx="78.9" cy="535.69" r="1.45"/>
<circle cx="77.3" cy="615.5" r="1.45"/>
<circle cx="77.3" cy="537.6" r="1.45"/>
<circle cx="78.9" cy="602.92" r="1.45"/>
<circle cx="77.3" cy="564.19" r="1.45"/>
<circle cx="78.9" cy="522.16" r="1.45"/>
<circle cx="78.9" cy="560.14" r="1.45"/>
<circle cx="77.3" cy="544.75" r="1.45"/>
<circle cx="80.5" cy="606.14" r="1.45"/>
<circle cx="78.9" cy="545.4" r="1.45"/>
<circle cx="78.9" cy="564.59" r="1.45"/>
<circle cx="77.3" cy="556.66" r="1.45"/>
<circle cx="81.3" cy="538" r="1.45"/>
<circle cx="78.9" cy="585.5" r="1.45"/>
<circle cx="77.3" cy="521" r="1.45"/>
<circle cx="78.9" cy="631.25" r="1.45"/>
<circle cx="78.9" cy="504.25" r="1.45"/>
<circle cx="78.9" cy="507" r="1.45"/>
<circle cx="78.9" cy="512" r="1.45"/>
<circle cx="78.9" cy="605" r="1.45"/>
<circle cx="92.2" cy="544" r="1.45"/>
<circle cx="93.8" cy="636.75" r="1.45"/>
<circle cx="93.8" cy="513.97" r="1.45"/>
<circle cx="93" cy="520.71" r="1.45"/>
<circle cx="93.8" cy="594.4" r="1.45"/>
<circle cx="93.8" cy="542.81" r="1.45"/>
<circle cx="98.6" cy="532.34" r="1.45"/>
<circle cx="97" cy="550.18" r="1.45"/>
<circle cx="95.4" cy="532.75" r="1.45"/>
<circle cx="93.8" cy="602.36" r="1.45"/>
<circle cx="95.4" cy="548.65" r="1.45"/>
<circle cx="96.2" cy="565.09" r="1.45"/>
<circle cx="96.2" cy="569.06" r="1.45"/>
<circle cx="93.8" cy="578.96" r="1.45"/>
<circle cx="92.2" cy="540.83" r="1.45"/>
<circle cx="92.2" cy="546.92" r="1.45"/>
<circle cx="90.6" cy="532.92" r="1.45"/>
<circle cx="92.2" cy="561.95" r="1.45"/>
<circle cx="93.8" cy="558.79" r="1.45"/>
<circle cx="93.8" cy="519.14" r="1.45"/>
<circle cx="90.6" cy="548.6" r="1.45"/>
<circle cx="90.6" cy="535.96" r="1.45"/>
<circle cx="97" cy="533.08" r="1.45"/>
<circle cx="93.8" cy="526.96" r="1.45"/>
<circle cx="93.8" cy="553.19" r="1.45"/>
<circle cx="95.4" cy="554.19" r="1.45"/>
<circle cx="93.8" cy="600.02" r="1.45"/>
<circle cx="91.45" cy="532.31" r="1.45"/>
<circle cx="95.4" cy="545.94" r="1.45"/>
<circle cx="95.4" cy="534.8" r="1.45"/>
<circle cx="93.8" cy="515.69" r="1.45"/>
<circle cx="97" cy="544.06" r="1.45"/>
<circle cx="93.8" cy="586.91" r="1.45"/>
<circle cx="89" cy="533.72" r="1.45"/>
<circle cx="93.8" cy="577.33" r="1.45"/>
<circle cx="93.8" cy="502.39" r="1.45"/>
<circle cx="93.8" cy="588.74" r="1.45"/>
<circle cx="95.4" cy="550.78" r="1.45"/>
<circle cx="94.6" cy="568.51" r="1.45"/>
<circle cx="94.6" cy="520.54" r="1.45"/>
<circle cx="94.6" cy="565.61" r="1.45"/>
<circle cx="93.8" cy="567.07" r="1.45"/>
<circle cx="92.2" cy="533.29" r="1.45"/>
<circle cx="93.8" cy="545.7" r="1.45"/>
<circle cx="95.4" cy="515.32" r="1.45"/>
<circle cx="93.8" cy="563.31" r="1.45"/>
<circle cx="95.4" cy="552.51" r="1.45"/>
<circle cx="92.2" cy="602.2" r="1.45"/>
<circle cx="93.8" cy="573.97" r="1.45"/>
<circle cx="97" cy="542.25" r="1.45"/>
<circle cx="92.2" cy="566.13" r="1.45"/>
<circle cx="95.4" cy="563.36" r="1.45"/>
<circle cx="90.6" cy="541.98" r="1.45"/>
<circle cx="93.8" cy="580.69" r="1.45"/>
<circle cx="92.2" cy="581.03" r="1.45"/>
<circle cx="96.2" cy="540.56" r="1.45"/>
<circle cx="92.2" cy="549.2" r="1.45"/>
<circle cx="91.4" cy="531.52" r="1.45"/>
<circle cx="93.8" cy="570.21" r="1.45"/>
<circle cx="92.2" cy="573.84" r="1.45"/>
<circle cx="90.6" cy="544.38" r="1.45"/>
<circle cx="92.2" cy="539.11" r="1.45"/>
<circle cx="93.8" cy="538.43" r="1.45"/>
<circle cx="95.4" cy="542.07" r="1.45"/>
<circle cx="95.4" cy="537.89" r="1.45"/>
<circle cx="95.4" cy="573.24" r="1.45"/>
<circle cx="93.8" cy="550.79" r="1.45"/>
<circle cx="97" cy="535.47" r="1.45"/>
<circle cx="93.8" cy="557.04" r="1.45"/>
<circle cx="93.8" cy="540.58" r="1.45"/>
<circle cx="92.2" cy="536.64" r="1.45"/>
<circle cx="92.2" cy="578.1" r="1.45"/>
<circle cx="93.8" cy="592.56" r="1.45"/>
<circle cx="93.8" cy="535.85" r="1.45"/>
<circle cx="93.8" cy="605.75" r="1.45"/>
<circle cx="93.8" cy="522.96" r="1.45"/>
<circle cx="92.2" cy="557.87" r="1.45"/>
<circle cx="92.2" cy="567.85" r="1.45"/>
<circle cx="98.6" cy="543.92" r="1.45"/>
<circle cx="90.6" cy="515.84" r="1.45"/>
<circle cx="92.2" cy="582.7" r="1.45"/>
<circle cx="93.8" cy="549.18" r="1.45"/>
<circle cx="91.4" cy="550.71" r="1.45"/>
<circle cx="93.8" cy="531.34" r="1.45"/>
<circle cx="93.8" cy="525.13" r="1.45"/>
<circle cx="95.4" cy="506.16" r="1.45"/>
<circle cx="93.8" cy="504.94" r="1.45"/>
<circle cx="92.2" cy="516.4" r="1.45"/>
<circle cx="95.4" cy="543.75" r="1.45"/>
<circle cx="92.2" cy="530.09" r="1.45"/>
<circle cx="93" cy="555.53" r="1.45"/>
<circle cx="92.2" cy="526.72" r="1.45"/>
<circle cx="95.4" cy="557.5" r="1.45"/>
<circle cx="93.8" cy="533.68" r="1.45"/>
<circle cx="93.8" cy="583.84" r="1.45"/>
<circle cx="93.8" cy="529.25" r="1.45"/>
<circle cx="90.6" cy="566.25" r="1.45"/>
<circle cx="93.8" cy="489" r="1.45"/>
<circle cx="93.8" cy="639.5" r="1.45"/>
<circle cx="93.8" cy="486.75" r="1.45"/>
<circle cx="95.4" cy="580" r="1.45"/>
<circle cx="95.4" cy="585" r="1.45"/>
<circle cx="108.7" cy="541.87" r="1.45"/>
<circle cx="107.1" cy="508.21" r="1.45"/>
<circle cx="108.7" cy="573.69" r="1.45"/>
<circle cx="105.5" cy="533.72" r="1.45"/>
<circle cx="108.7" cy="553.29" r="1.45"/>
<circle cx="108.7" cy="519.47" r="1.45"/>
<circle cx="108.7" cy="584.43" r="1.45"/>
<circle cx="110.3" cy="508.23" r="1.45"/>
<circle cx="108.7" cy="535.15" r="1.45"/>
<circle cx="107.1" cy="562.2" r="1.45"/>
<circle cx="108.7" cy="556.5" r="1.45"/>
<circle cx="107.1" cy="547.2" r="1.45"/>
<circle cx="110.3" cy="572.98" r="1.45"/>
<circle cx="108.7" cy="567.99" r="1.45"/>
<circle cx="110.3" cy="609.53" r="1.45"/>
<circle cx="108.7" cy="550.04" r="1.45"/>
<circle cx="108.7" cy="558.5" r="1.45"/>
<circle cx="109.5" cy="547.73" r="1.45"/>
<circle cx="108.7" cy="587.35" r="1.45"/>
<circle cx="110.3" cy="530.36" r="1.45"/>
<circle cx="108.7" cy="536.98" r="1.45"/>
<circle cx="108.7" cy="530.03" r="1.45"/>
<circle cx="107.1" cy="550.19" r="1.45"/>
<circle cx="107.1" cy="541.56" r="1.45"/>
<circle cx="108.7" cy="606.56" r="1.45"/>
<circle cx="108.7" cy="544.46" r="1.45"/>
<circle cx="108.7" cy="580.4" r="1.45"/>
<circle cx="107.1" cy="520.91" r="1.45"/>
<circle cx="108.7" cy="582.8" r="1.45"/>
<circle cx="108.7" cy="562.33" r="1.45"/>
<circle cx="108.7" cy="527.56" r="1.45"/>
<circle cx="105.5" cy="549.01" r="1.45"/>
<circle cx="109.5" cy="533.71" r="1.45"/>
<circle cx="108.7" cy="539.05" r="1.45"/>
<circle cx="108.7" cy="509.38" r="1.45"/>
<circle cx="110.3" cy="557.45" r="1.45"/>
<circle cx="108.7" cy="577.49" r="1.45"/>
<circle cx="110.3" cy="565.99" r="1.45"/>
<circle cx="107.9" cy="532.41" r="1.45"/>
<circle cx="108.7" cy="512.51" r="1.45"/>
<circle cx="107.1" cy="522.52" r="1.45"/>
<circle cx="107.1" cy="555.21" r="1.45"/>
<circle cx="108.7" cy="498.48" r="1.45"/>
<circle cx="107.1" cy="510.07" r="1.45"/>
<circle cx="108.7" cy="522.13" r="1.45"/>
<circle cx="107.1" cy="534.45" r="1.45"/>
<circle cx="110.3" cy="561.04" r="1.45"/>
<circle cx="107.9" cy="548.58" r="1.45"/>
<circle cx="108.7" cy="524.28" r="1.45"/>
<circle cx="110.3" cy="522.97" r="1.45"/>
<circle cx="111.1" cy="533.65" r="1.45"/>
<circle cx="108.7" cy="570.75" r="1.45"/>
<circle cx="110.3" cy="549.75" r="1.45"/>
<circle cx="110.3" cy="584.2" r="1.45"/>
<circle cx="108.7" cy="609.05" r="1.45"/>
<circle cx="108.7" cy="516.75" r="1.45"/>
<circle cx="108.7" cy="565" r="1.45"/>
<circle cx="108.7" cy="494.75" r="1.45"/>
<circle cx="108.7" cy="611.75" r="1.45"/>
<circle cx="108.7" cy="483" r="1.45"/>
<circle cx="108.7" cy="455" r="1.45"/>
<circle cx="108.7" cy="490" r="1.45"/>
<circle cx="123.6" cy="525.55" r="1.45"/>
<circle cx="123.6" cy="529.97" r="1.45"/>
<circle cx="123.6" cy="535.62" r="1.45"/>
<circle cx="125.2" cy="535.6" r="1.45"/>
<circle cx="123.6" cy="555.29" r="1.45"/>
<circle cx="123.6" cy="514.3" r="1.45"/>
<circle cx="123.6" cy="542.38" r="1.45"/>
<circle cx="123.6" cy="563.47" r="1.45"/>
<circle cx="125.2" cy="526.26" r="1.45"/>
<circle cx="123.6" cy="516.36" r="1.45"/>
<circle cx="123.6" cy="569.05" r="1.45"/>
<circle cx="123.6" cy="550.99" r="1.45"/>
<circle cx="125.2" cy="539.05" r="1.45"/>
<circle cx="123.6" cy="511.04" r="1.45"/>
<circle cx="123.6" cy="558.54" r="1.45"/>
<circle cx="123.6" cy="519.26" r="1.45"/>
<circle cx="125.2" cy="543.37" r="1.45"/>
<circle cx="122" cy="525.22" r="1.45"/>
<circle cx="123.6" cy="579.29" r="1.45"/>
<circle cx="123.6" cy="596.59" r="1.45"/>
<circle cx="123.6" cy="502.59" r="1.45"/>
<circle cx="125.2" cy="522.38" r="1.45"/>
<circle cx="123.6" cy="509" r="1.45"/>
<circle cx="122" cy="535.99" r="1.45"/>
<circle cx="125.2" cy="545.86" r="1.45"/>
<circle cx="120.4" cy="540.25" r="1.45"/>
<circle cx="123.6" cy="521.84" r="1.45"/>
<circle cx="125.2" cy="556.31" r="1.45"/>
<circle cx="126" cy="514.11" r="1.45"/>
<circle cx="123.6" cy="527.84" r="1.45"/>
<circle cx="125.2" cy="530.61" r="1.45"/>
<circle cx="122" cy="527.41" r="1.45"/>
<circle cx="120.4" cy="530.93" r="1.45"/>
<circle cx="123.6" cy="504.27" r="1.45"/>
<circle cx="120.4" cy="527.95" r="1.45"/>
<circle cx="123.6" cy="532.42" r="1.45"/>
<circle cx="125.2" cy="569.08" r="1.45"/>
<circle cx="123.6" cy="544.96" r="1.45"/>
<circle cx="123.6" cy="539.83" r="1.45"/>
<circle cx="122" cy="523.16" r="1.45"/>
<circle cx="122" cy="539.29" r="1.45"/>
<circle cx="122" cy="545.22" r="1.45"/>
<circle cx="125.2" cy="528.89" r="1.45"/>
<circle cx="123.6" cy="575.81" r="1.45"/>
<circle cx="123.6" cy="537.52" r="1.45"/>
<circle cx="123.6" cy="500.63" r="1.45"/>
<circle cx="122" cy="530.62" r="1.45"/>
<circle cx="124.4" cy="512.82" r="1.45"/>
<circle cx="123.6" cy="498.8" r="1.45"/>
<circle cx="122" cy="563.47" r="1.45"/>
<circle cx="122" cy="513.5" r="1.45"/>
<circle cx="123.6" cy="561.25" r="1.45"/>
<circle cx="123.6" cy="493.5" r="1.45"/>
<circle cx="122" cy="596.75" r="1.45"/>
<circle cx="123.6" cy="480.5" r="1.45"/>
<circle cx="123.6" cy="485" r="1.45"/>
<circle cx="140.9" cy="514.2" r="1.45"/>
<circle cx="140.1" cy="486.72" r="1.45"/>
<circle cx="138.5" cy="524.04" r="1.45"/>
<circle cx="136.9" cy="501.37" r="1.45"/>
<circle cx="138.5" cy="539.24" r="1.45"/>
<circle cx="140.1" cy="524.87" r="1.45"/>
<circle cx="138.5" cy="504.13" r="1.45"/>
<circle cx="136.9" cy="498.8" r="1.45"/>
<circle cx="138.5" cy="487.8" r="1.45"/>
<circle cx="140.1" cy="512.82" r="1.45"/>
<circle cx="138.5" cy="481.39" r="1.45"/>
<circle cx="138.5" cy="497.23" r="1.45"/>
<circle cx="136.9" cy="520.56" r="1.45"/>
<circle cx="138.5" cy="498.88" r="1.45"/>
<circle cx="138.5" cy="534.4" r="1.45"/>
<circle cx="136.9" cy="514.8" r="1.45"/>
<circle cx="136.9" cy="509.24" r="1.45"/>
<circle cx="140.1" cy="526.82" r="1.45"/>
<circle cx="138.5" cy="517.07" r="1.45"/>
<circle cx="140.1" cy="534.25" r="1.45"/>
<circle cx="138.5" cy="562.32" r="1.45"/>
<circle cx="136.9" cy="522.98" r="1.45"/>
<circle cx="138.5" cy="518.77" r="1.45"/>
<circle cx="136.9" cy="526.56" r="1.45"/>
<circle cx="138.5" cy="500.53" r="1.45"/>
<circle cx="138.5" cy="509.57" r="1.45"/>
<circle cx="138.5" cy="515.3" r="1.45"/>
<circle cx="140.1" cy="493.16" r="1.45"/>
<circle cx="138.5" cy="525.68" r="1.45"/>
<circle cx="136.9" cy="486.96" r="1.45"/>
<circle cx="138.5" cy="512.32" r="1.45"/>
<circle cx="136.9" cy="516.45" r="1.45"/>
<circle cx="138.5" cy="492.6" r="1.45"/>
<circle cx="138.5" cy="544.78" r="1.45"/>
<circle cx="139.3" cy="495.74" r="1.45"/>
<circle cx="140.1" cy="509.5" r="1.45"/>
<circle cx="138.5" cy="558.83" r="1.45"/>
<circle cx="138.5" cy="521.24" r="1.45"/>
<circle cx="137.7" cy="495" r="1.45"/>
<circle cx="138.5" cy="527.5" r="1.45"/>
<circle cx="138.5" cy="475.5" r="1.45"/>
<circle cx="138.5" cy="576" r="1.45"/>
<circle cx="138.5" cy="458" r="1.45"/>
<circle cx="138.5" cy="465.5" r="1.45"/>
<circle cx="150.2" cy="505.14" r="1.45"/>
<circle cx="151.8" cy="501.08" r="1.45"/>
<circle cx="155" cy="535.21" r="1.45"/>
<circle cx="153.4" cy="539.48" r="1.45"/>
<circle cx="153.4" cy="537.65" r="1.45"/>
<circle cx="153.4" cy="534.3" r="1.45"/>
<circle cx="155" cy="591.93" r="1.45"/>
<circle cx="155" cy="500.83" r="1.45"/>
<circle cx="153.4" cy="496.87" r="1.45"/>
<circle cx="155" cy="513.61" r="1.45"/>
<circle cx="153.4" cy="512.71" r="1.45"/>
<circle cx="151.8" cy="504.42" r="1.45"/>
<circle cx="153.4" cy="507.93" r="1.45"/>
<circle cx="156.6" cy="504.29" r="1.45"/>
<circle cx="155" cy="504.34" r="1.45"/>
<circle cx="153.4" cy="505.66" r="1.45"/>
<circle cx="153.4" cy="501.25" r="1.45"/>
<circle cx="153.4" cy="544.25" r="1.45"/>
<circle cx="153.4" cy="478.75" r="1.45"/>
<circle cx="153.4" cy="592.5" r="1.45"/>
<circle cx="166.7" cy="520.91" r="1.45"/>
<circle cx="168.3" cy="525.99" r="1.45"/>
<circle cx="168.3" cy="520.33" r="1.45"/>
<circle cx="168.3" cy="517.98" r="1.45"/>
<circle cx="169.9" cy="515.75" r="1.45"/>
<circle cx="169.9" cy="521" r="1.45"/>
<circle cx="168.3" cy="515" r="1.45"/>
<circle cx="166.7" cy="527" r="1.45"/>
<circle cx="183.2" cy="511.13" r="1.45"/>
<circle cx="182.4" cy="513.43" r="1.45"/>
<circle cx="181.6" cy="496.77" r="1.45"/>
<circle cx="183.2" cy="500.58" r="1.45"/>
<circle cx="183.2" cy="517.99" r="1.45"/>
<circle cx="183.2" cy="498" r="1.45"/>
<circle cx="183.2" cy="515" r="1.45"/>
<circle cx="183.2" cy="490.5" r="1.45"/>
<circle cx="183.2" cy="525.5" r="1.45"/>
</g>
<line x1="43.1" y1="620.5" x2="55.1" y2="620.5" stroke="#000" stroke-width="1.6"/>
<line x1="58" y1="568.25" x2="70" y2="568.25" stroke="#000" stroke-width="1.6"/>
<line x1="72.9" y1="556.25" x2="84.9" y2="556.25" stroke="#000" stroke-width="1.6"/>
<line x1="87.8" y1="545.5" x2="99.8" y2="545.5" stroke="#000" stroke-width="1.6"/>
<line x1="102.7" y1="543" x2="114.7" y2="543" stroke="#000" stroke-width="1.6"/>
<line x1="117.6" y1="533.5" x2="129.6" y2="533.5" stroke="#000" stroke-width="1.6"/>
<line x1="132.5" y1="512.5" x2="144.5" y2="512.5" stroke="#000" stroke-width="1.6"/>
<line x1="147.4" y1="508.5" x2="159.4" y2="508.5" stroke="#000" stroke-width="1.6"/>
<line x1="162.3" y1="520.75" x2="174.3" y2="520.75" stroke="#000" stroke-width="1.6"/>
<line x1="177.2" y1="506.5" x2="189.2" y2="506.5" stroke="#000" stroke-width="1.6"/>
<line x1="236.8" y1="486.75" x2="248.8" y2="486.75" stroke="#000" stroke-width="1.6"/>
<line x1="31" y1="475.35" x2="35" y2="475.35" stroke="#444" stroke-width="0.8"/>
<text transform="translate(28.6,475.35) rotate(-90)" font-size="8" text-anchor="middle">5,000</text>
<line x1="31" y1="513.15" x2="35" y2="513.15" stroke="#444" stroke-width="0.8"/>
<text transform="translate(28.6,513.15) rotate(-90)" font-size="8" text-anchor="middle">2,000</text>
<line x1="31" y1="541.75" x2="35" y2="541.75" stroke="#444" stroke-width="0.8"/>
<text transform="translate(28.6,541.75) rotate(-90)" font-size="8" text-anchor="middle">1,000</text>
<line x1="31" y1="570.35" x2="35" y2="570.35" stroke="#444" stroke-width="0.8"/>
<text transform="translate(28.6,570.35) rotate(-90)" font-size="8" text-anchor="middle">500</text>
<line x1="31" y1="608.15" x2="35" y2="608.15" stroke="#444" stroke-width="0.8"/>
<text transform="translate(28.6,608.15) rotate(-90)" font-size="8" text-anchor="middle">200</text>
<line x1="31" y1="636.75" x2="35" y2="636.75" stroke="#444" stroke-width="0.8"/>
<text transform="translate(28.6,636.75) rotate(-90)" font-size="8" text-anchor="middle">100</text>
<line x1="49.1" y1="647" x2="49.1" y2="650.5" stroke="#444" stroke-width="0.8"/>
<text x="49.1" y="661.9" font-size="8.3" text-anchor="middle">1</text>
<line x1="64" y1="647" x2="64" y2="650.5" stroke="#444" stroke-width="0.8"/>
<text x="64" y="661.9" font-size="8.3" text-anchor="middle">2</text>
<line x1="78.9" y1="647" x2="78.9" y2="650.5" stroke="#444" stroke-width="0.8"/>
<text x="78.9" y="661.9" font-size="8.3" text-anchor="middle">3</text>
<line x1="93.8" y1="647" x2="93.8" y2="650.5" stroke="#444" stroke-width="0.8"/>
<text x="93.8" y="661.9" font-size="8.3" text-anchor="middle">4</text>
<line x1="108.7" y1="647" x2="108.7" y2="650.5" stroke="#444" stroke-width="0.8"/>
<text x="108.7" y="661.9" font-size="8.3" text-anchor="middle">5</text>
<line x1="123.6" y1="647" x2="123.6" y2="650.5" stroke="#444" stroke-width="0.8"/>
<text x="123.6" y="661.9" font-size="8.3" text-anchor="middle">6</text>
<line x1="138.5" y1="647" x2="138.5" y2="650.5" stroke="#444" stroke-width="0.8"/>
<text x="138.5" y="661.9" font-size="8.3" text-anchor="middle">7</text>
<line x1="153.4" y1="647" x2="153.4" y2="650.5" stroke="#444" stroke-width="0.8"/>
<text x="153.4" y="661.9" font-size="8.3" text-anchor="middle">8</text>
<line x1="168.3" y1="647" x2="168.3" y2="650.5" stroke="#444" stroke-width="0.8"/>
<text x="168.3" y="661.9" font-size="8.3" text-anchor="middle">9</text>
<line x1="183.2" y1="647" x2="183.2" y2="650.5" stroke="#444" stroke-width="0.8"/>
<text x="183.2" y="661.9" font-size="8.3" text-anchor="middle">10</text>
<line x1="198.1" y1="647" x2="198.1" y2="650.5" stroke="#444" stroke-width="0.8"/>
<text x="198.1" y="661.9" font-size="8.3" text-anchor="middle">11</text>
<line x1="213" y1="647" x2="213" y2="650.5" stroke="#444" stroke-width="0.8"/>
<text x="213" y="661.9" font-size="8.3" text-anchor="middle">12</text>
<line x1="227.9" y1="647" x2="227.9" y2="650.5" stroke="#444" stroke-width="0.8"/>
<text x="227.9" y="661.9" font-size="8.3" text-anchor="middle">13</text>
<line x1="242.8" y1="647" x2="242.8" y2="650.5" stroke="#444" stroke-width="0.8"/>
<text x="242.8" y="661.9" font-size="8.3" text-anchor="middle">14</text>
<text x="152.6" y="674.6" font-size="9" text-anchor="middle">Copy number</text>
<text transform="translate(12.9,548.7) rotate(-90)" font-size="9" text-anchor="middle">Ly6E nRPKM</text>
<text x="93.8" y="445.9" font-size="9" font-weight="bold" text-anchor="middle">Ovarian cancer</text>
<text x="255.5" y="445.5" font-size="9.1" text-anchor="end">ρ = 0.41, <tspan font-style="italic">P</tspan> = 6.42x10<tspan font-size="5.6" dy="-3.5">−15</tspan></text>
<rect x="297.6" y="446.4" width="218.7" height="198.4" fill="none" stroke="#9a9a9a" stroke-width="0.85"/>
<line x1="297.6" y1="446.4" x2="297.6" y2="644.8" stroke="#6a6a6a" stroke-width="1"/>
<line x1="312.5" y1="575.75" x2="312.5" y2="575" stroke="#222" stroke-width="0.7" stroke-dasharray="1.3,1.3"/>
<line x1="312.5" y1="602" x2="312.5" y2="620" stroke="#222" stroke-width="0.7" stroke-dasharray="1.3,1.3"/>
<line x1="309.5" y1="575.75" x2="315.5" y2="575.75" stroke="#111" stroke-width="1.2"/>
<line x1="309.5" y1="620" x2="315.5" y2="620" stroke="#111" stroke-width="1.2"/>
<rect x="305.5" y="575" width="14" height="27" fill="#fff" stroke="#444" stroke-width="0.7"/>
<line x1="329.6" y1="526" x2="329.6" y2="543.75" stroke="#222" stroke-width="0.7" stroke-dasharray="1.3,1.3"/>
<line x1="329.6" y1="571.25" x2="329.6" y2="608" stroke="#222" stroke-width="0.7" stroke-dasharray="1.3,1.3"/>
<line x1="326.6" y1="526" x2="332.6" y2="526" stroke="#111" stroke-width="1.2"/>
<line x1="326.6" y1="608" x2="332.6" y2="608" stroke="#111" stroke-width="1.2"/>
<rect x="322.6" y="543.75" width="14" height="27.5" fill="#fff" stroke="#444" stroke-width="0.7"/>
<line x1="346.7" y1="507.25" x2="346.7" y2="528" stroke="#222" stroke-width="0.7" stroke-dasharray="1.3,1.3"/>
<line x1="346.7" y1="573.75" x2="346.7" y2="611.25" stroke="#222" stroke-width="0.7" stroke-dasharray="1.3,1.3"/>
<line x1="343.7" y1="507.25" x2="349.7" y2="507.25" stroke="#111" stroke-width="1.2"/>
<line x1="343.7" y1="611.25" x2="349.7" y2="611.25" stroke="#111" stroke-width="1.2"/>
<rect x="339.7" y="528" width="14" height="45.75" fill="#fff" stroke="#444" stroke-width="0.7"/>
<line x1="363.8" y1="500" x2="363.8" y2="544.25" stroke="#222" stroke-width="0.7" stroke-dasharray="1.3,1.3"/>
<line x1="363.8" y1="573.75" x2="363.8" y2="638" stroke="#222" stroke-width="0.7" stroke-dasharray="1.3,1.3"/>
<line x1="360.8" y1="500" x2="366.8" y2="500" stroke="#111" stroke-width="1.2"/>
<line x1="360.8" y1="638" x2="366.8" y2="638" stroke="#111" stroke-width="1.2"/>
<rect x="356.8" y="544.25" width="14" height="29.5" fill="#fff" stroke="#444" stroke-width="0.7"/>
<line x1="380.9" y1="495" x2="380.9" y2="527.25" stroke="#222" stroke-width="0.7" stroke-dasharray="1.3,1.3"/>
<line x1="380.9" y1="560" x2="380.9" y2="594.5" stroke="#222" stroke-width="0.7" stroke-dasharray="1.3,1.3"/>
<line x1="377.9" y1="495" x2="383.9" y2="495" stroke="#111" stroke-width="1.2"/>
<line x1="377.9" y1="594.5" x2="383.9" y2="594.5" stroke="#111" stroke-width="1.2"/>
<rect x="373.9" y="527.25" width="14" height="32.75" fill="#fff" stroke="#444" stroke-width="0.7"/>
<line x1="398" y1="497" x2="398" y2="523.5" stroke="#222" stroke-width="0.7" stroke-dasharray="1.3,1.3"/>
<line x1="398" y1="562" x2="398" y2="630.75" stroke="#222" stroke-width="0.7" stroke-dasharray="1.3,1.3"/>
<line x1="395" y1="497" x2="401" y2="497" stroke="#111" stroke-width="1.2"/>
<line x1="395" y1="630.75" x2="401" y2="630.75" stroke="#111" stroke-width="1.2"/>
<rect x="391" y="523.5" width="14" height="38.5" fill="#fff" stroke="#444" stroke-width="0.7"/>
<line x1="415.1" y1="503.5" x2="415.1" y2="519" stroke="#222" stroke-width="0.7" stroke-dasharray="1.3,1.3"/>
<line x1="415.1" y1="557.5" x2="415.1" y2="612.5" stroke="#222" stroke-width="0.7" stroke-dasharray="1.3,1.3"/>
<line x1="412.1" y1="503.5" x2="418.1" y2="503.5" stroke="#111" stroke-width="1.2"/>
<line x1="412.1" y1="612.5" x2="418.1" y2="612.5" stroke="#111" stroke-width="1.2"/>
<rect x="408.1" y="519" width="14" height="38.5" fill="#fff" stroke="#444" stroke-width="0.7"/>
<line x1="432.2" y1="483.75" x2="432.2" y2="505" stroke="#222" stroke-width="0.7" stroke-dasharray="1.3,1.3"/>
<line x1="432.2" y1="548.75" x2="432.2" y2="619.5" stroke="#222" stroke-width="0.7" stroke-dasharray="1.3,1.3"/>
<line x1="429.2" y1="483.75" x2="435.2" y2="483.75" stroke="#111" stroke-width="1.2"/>
<line x1="429.2" y1="619.5" x2="435.2" y2="619.5" stroke="#111" stroke-width="1.2"/>
<rect x="425.2" y="505" width="14" height="43.75" fill="#fff" stroke="#444" stroke-width="0.7"/>
<line x1="449.3" y1="504.5" x2="449.3" y2="515" stroke="#222" stroke-width="0.7" stroke-dasharray="1.3,1.3"/>
<line x1="449.3" y1="537" x2="449.3" y2="548.25" stroke="#222" stroke-width="0.7" stroke-dasharray="1.3,1.3"/>
<line x1="446.3" y1="504.5" x2="452.3" y2="504.5" stroke="#111" stroke-width="1.2"/>
<line x1="446.3" y1="548.25" x2="452.3" y2="548.25" stroke="#111" stroke-width="1.2"/>
<rect x="442.3" y="515" width="14" height="22" fill="#fff" stroke="#444" stroke-width="0.7"/>
<line x1="466.4" y1="490.5" x2="466.4" y2="498.75" stroke="#222" stroke-width="0.7" stroke-dasharray="1.3,1.3"/>
<line x1="466.4" y1="550.5" x2="466.4" y2="572.5" stroke="#222" stroke-width="0.7" stroke-dasharray="1.3,1.3"/>
<line x1="463.4" y1="490.5" x2="469.4" y2="490.5" stroke="#111" stroke-width="1.2"/>
<line x1="463.4" y1="572.5" x2="469.4" y2="572.5" stroke="#111" stroke-width="1.2"/>
<rect x="459.4" y="498.75" width="14" height="51.75" fill="#fff" stroke="#444" stroke-width="0.7"/>
<line x1="483.5" y1="520" x2="483.5" y2="520.5" stroke="#222" stroke-width="0.7" stroke-dasharray="1.3,1.3"/>
<line x1="483.5" y1="573.75" x2="483.5" y2="578" stroke="#222" stroke-width="0.7" stroke-dasharray="1.3,1.3"/>
<line x1="480.5" y1="520" x2="486.5" y2="520" stroke="#111" stroke-width="1.2"/>
<line x1="480.5" y1="578" x2="486.5" y2="578" stroke="#111" stroke-width="1.2"/>
<rect x="476.5" y="520.5" width="14" height="53.25" fill="#fff" stroke="#444" stroke-width="0.7"/>
<line x1="500.6" y1="516.25" x2="500.6" y2="516.25" stroke="#222" stroke-width="0.7" stroke-dasharray="1.3,1.3"/>
<line x1="500.6" y1="530" x2="500.6" y2="530" stroke="#222" stroke-width="0.7" stroke-dasharray="1.3,1.3"/>
<line x1="497.6" y1="516.25" x2="503.6" y2="516.25" stroke="#111" stroke-width="1.2"/>
<line x1="497.6" y1="530" x2="503.6" y2="530" stroke="#111" stroke-width="1.2"/>
<rect x="493.6" y="516.25" width="14" height="13.75" fill="#fff" stroke="#444" stroke-width="0.7"/>
<g fill="#1a1a1a" fill-opacity="0.72">
<circle cx="312.5" cy="607.1" r="1.6"/>
<circle cx="312.5" cy="579.24" r="1.6"/>
<circle cx="312.5" cy="598.58" r="1.6"/>
<circle cx="314.1" cy="575" r="1.6"/>
<circle cx="312.5" cy="602" r="1.6"/>
<circle cx="312.5" cy="575.75" r="1.6"/>
<circle cx="312.5" cy="620" r="1.6"/>
<circle cx="312.5" cy="590" r="1.6"/>
<circle cx="329.6" cy="554.91" r="1.6"/>
<circle cx="329.6" cy="573.93" r="1.6"/>
<circle cx="331.2" cy="576.38" r="1.6"/>
<circle cx="331.2" cy="571.72" r="1.6"/>
<circle cx="328" cy="574.93" r="1.6"/>
<circle cx="326.4" cy="575.36" r="1.6"/>
<circle cx="328" cy="570.69" r="1.6"/>
<circle cx="329.6" cy="538.61" r="1.6"/>
<circle cx="328" cy="578.96" r="1.6"/>
<circle cx="331.2" cy="552.76" r="1.6"/>
<circle cx="327.2" cy="572.71" r="1.6"/>
<circle cx="329.6" cy="548.77" r="1.6"/>
<circle cx="329.6" cy="569.49" r="1.6"/>
<circle cx="328" cy="563.17" r="1.6"/>
<circle cx="329.6" cy="568" r="1.6"/>
<circle cx="329.6" cy="559.87" r="1.6"/>
<circle cx="329.6" cy="578.27" r="1.6"/>
<circle cx="328.8" cy="537.32" r="1.6"/>
<circle cx="329.6" cy="552.99" r="1.6"/>
<circle cx="329.6" cy="535.54" r="1.6"/>
<circle cx="328" cy="568.2" r="1.6"/>
<circle cx="329.6" cy="575.73" r="1.6"/>
<circle cx="329.6" cy="588.4" r="1.6"/>
<circle cx="331.2" cy="538.09" r="1.6"/>
<circle cx="329.6" cy="600.21" r="1.6"/>
<circle cx="329.6" cy="563.29" r="1.6"/>
<circle cx="330.4" cy="579.45" r="1.6"/>
<circle cx="328.8" cy="572.53" r="1.6"/>
<circle cx="327.2" cy="538.35" r="1.6"/>
<circle cx="329.6" cy="533.13" r="1.6"/>
<circle cx="328" cy="552.12" r="1.6"/>
<circle cx="329.6" cy="565.15" r="1.6"/>
<circle cx="329.6" cy="543.75" r="1.6"/>
<circle cx="329.6" cy="571.25" r="1.6"/>
<circle cx="329.6" cy="526" r="1.6"/>
<circle cx="329.6" cy="608" r="1.6"/>
<circle cx="329.6" cy="499.75" r="1.6"/>
<circle cx="329.6" cy="505" r="1.6"/>
<circle cx="329.6" cy="512" r="1.6"/>
<circle cx="346.7" cy="542.56" r="1.6"/>
<circle cx="348.3" cy="507.26" r="1.6"/>
<circle cx="348.3" cy="574.32" r="1.6"/>
<circle cx="346.7" cy="526.93" r="1.6"/>
<circle cx="346.7" cy="578.48" r="1.6"/>
<circle cx="349.1" cy="561.76" r="1.6"/>
<circle cx="348.3" cy="571.31" r="1.6"/>
<circle cx="346.7" cy="537.13" r="1.6"/>
<circle cx="346.7" cy="577.08" r="1.6"/>
<circle cx="346.7" cy="581.48" r="1.6"/>
<circle cx="346.7" cy="529.29" r="1.6"/>
<circle cx="344.3" cy="562.01" r="1.6"/>
<circle cx="348.3" cy="538.47" r="1.6"/>
<circle cx="346.7" cy="573.42" r="1.6"/>
<circle cx="345.9" cy="561.52" r="1.6"/>
<circle cx="346.7" cy="571.14" r="1.6"/>
<circle cx="348.3" cy="556.86" r="1.6"/>
<circle cx="345.1" cy="564.92" r="1.6"/>
<circle cx="346.7" cy="515.76" r="1.6"/>
<circle cx="346.7" cy="539.39" r="1.6"/>
<circle cx="347.5" cy="568.61" r="1.6"/>
<circle cx="347.5" cy="562.43" r="1.6"/>
<circle cx="345.1" cy="519.07" r="1.6"/>
<circle cx="346.7" cy="556.52" r="1.6"/>
<circle cx="349.9" cy="568.1" r="1.6"/>
<circle cx="348.3" cy="567.25" r="1.6"/>
<circle cx="346.7" cy="510.07" r="1.6"/>
<circle cx="345.9" cy="541.45" r="1.6"/>
<circle cx="346.7" cy="518.64" r="1.6"/>
<circle cx="346.7" cy="565.39" r="1.6"/>
<circle cx="345.1" cy="573.49" r="1.6"/>
<circle cx="346.7" cy="560.35" r="1.6"/>
<circle cx="345.1" cy="559.8" r="1.6"/>
<circle cx="348.3" cy="560.51" r="1.6"/>
<circle cx="345.9" cy="528.04" r="1.6"/>
<circle cx="346.7" cy="531.66" r="1.6"/>
<circle cx="346.7" cy="546.79" r="1.6"/>
<circle cx="345.1" cy="568.41" r="1.6"/>
<circle cx="346.7" cy="511.51" r="1.6"/>
<circle cx="346.7" cy="553.47" r="1.6"/>
<circle cx="348.3" cy="582.22" r="1.6"/>
<circle cx="346.7" cy="558.21" r="1.6"/>
<circle cx="345.1" cy="546.57" r="1.6"/>
<circle cx="343.5" cy="560.55" r="1.6"/>
<circle cx="346.7" cy="575.68" r="1.6"/>
<circle cx="346.7" cy="567.43" r="1.6"/>
<circle cx="346.7" cy="551.23" r="1.6"/>
<circle cx="345.1" cy="542.74" r="1.6"/>
<circle cx="348.3" cy="528" r="1.6"/>
<circle cx="343.5" cy="573.75" r="1.6"/>
<circle cx="346.7" cy="507.25" r="1.6"/>
<circle cx="346.7" cy="611.25" r="1.6"/>
<circle cx="346.7" cy="483.5" r="1.6"/>
<circle cx="346.7" cy="490" r="1.6"/>
<circle cx="346.7" cy="495" r="1.6"/>
<circle cx="370.2" cy="560.43" r="1.6"/>
<circle cx="367.39" cy="565.09" r="1.6"/>
<circle cx="363.8" cy="508.37" r="1.6"/>
<circle cx="364.6" cy="584.56" r="1.6"/>
<circle cx="357.4" cy="570.72" r="1.6"/>
<circle cx="365.95" cy="549.04" r="1.6"/>
<circle cx="362.2" cy="569.02" r="1.6"/>
<circle cx="366.98" cy="558.94" r="1.6"/>
<circle cx="365.4" cy="558.03" r="1.6"/>
<circle cx="367.8" cy="543.3" r="1.6"/>
<circle cx="370.2" cy="546.33" r="1.6"/>
<circle cx="367.35" cy="551.89" r="1.6"/>
<circle cx="367" cy="534.32" r="1.6"/>
<circle cx="363.8" cy="634.97" r="1.6"/>
<circle cx="359" cy="549.01" r="1.6"/>
<circle cx="370.2" cy="571.4" r="1.6"/>
<circle cx="363.8" cy="560.73" r="1.6"/>
<circle cx="363" cy="534.11" r="1.6"/>
<circle cx="366.2" cy="578.75" r="1.6"/>
<circle cx="360.6" cy="549.84" r="1.6"/>
<circle cx="362.2" cy="503.05" r="1.6"/>
<circle cx="365.4" cy="563.44" r="1.6"/>
<circle cx="363.8" cy="530.19" r="1.6"/>
<circle cx="363.8" cy="552.08" r="1.6"/>
<circle cx="360" cy="549.1" r="1.6"/>
<circle cx="357.4" cy="572.4" r="1.6"/>
<circle cx="362.2" cy="559.45" r="1.6"/>
<circle cx="360.6" cy="557.69" r="1.6"/>
<circle cx="362.2" cy="567.64" r="1.6"/>
<circle cx="367" cy="583.15" r="1.6"/>
<circle cx="367" cy="579.94" r="1.6"/>
<circle cx="365.4" cy="587.78" r="1.6"/>
<circle cx="360.6" cy="541.6" r="1.6"/>
<circle cx="369.4" cy="562.97" r="1.6"/>
<circle cx="363.8" cy="553.67" r="1.6"/>
<circle cx="359" cy="552.04" r="1.6"/>
<circle cx="365.4" cy="552.64" r="1.6"/>
<circle cx="360.6" cy="568.12" r="1.6"/>
<circle cx="359" cy="572.46" r="1.6"/>
<circle cx="360.6" cy="587.93" r="1.6"/>
<circle cx="367" cy="551.64" r="1.6"/>
<circle cx="366.2" cy="572.48" r="1.6"/>
<circle cx="370.2" cy="575.47" r="1.6"/>
<circle cx="362.2" cy="517.13" r="1.6"/>
<circle cx="358.66" cy="564.84" r="1.6"/>
<circle cx="362.97" cy="568.66" r="1.6"/>
<circle cx="362.19" cy="560.37" r="1.6"/>
<circle cx="357.45" cy="564.24" r="1.6"/>
<circle cx="368.6" cy="575.09" r="1.6"/>
<circle cx="367" cy="556.44" r="1.6"/>
<circle cx="360.6" cy="533.5" r="1.6"/>
<circle cx="367" cy="537.71" r="1.6"/>
<circle cx="363" cy="524.88" r="1.6"/>
<circle cx="361.18" cy="563.33" r="1.6"/>
<circle cx="370.2" cy="564.29" r="1.6"/>
<circle cx="358.22" cy="560.35" r="1.6"/>
<circle cx="362.2" cy="548.28" r="1.6"/>
<circle cx="362.2" cy="541.53" r="1.6"/>
<circle cx="365.24" cy="565.27" r="1.6"/>
<circle cx="366.2" cy="566.93" r="1.6"/>
<circle cx="360.6" cy="551.22" r="1.6"/>
<circle cx="357.81" cy="565.28" r="1.6"/>
<circle cx="362.2" cy="562.38" r="1.6"/>
<circle cx="360.6" cy="556.21" r="1.6"/>
<circle cx="365.4" cy="551.17" r="1.6"/>
<circle cx="363.8" cy="568.38" r="1.6"/>
<circle cx="362.2" cy="576" r="1.6"/>
<circle cx="363.84" cy="549.3" r="1.6"/>
<circle cx="365.4" cy="549.65" r="1.6"/>
<circle cx="360.6" cy="531.35" r="1.6"/>
<circle cx="360.6" cy="537.19" r="1.6"/>
<circle cx="367" cy="559.75" r="1.6"/>
<circle cx="357.4" cy="552.75" r="1.6"/>
<circle cx="368.16" cy="549.63" r="1.6"/>
<circle cx="359.8" cy="563.71" r="1.6"/>
<circle cx="364.6" cy="528.88" r="1.6"/>
<circle cx="363.8" cy="536.93" r="1.6"/>
<circle cx="365.4" cy="538.93" r="1.6"/>
<circle cx="368.6" cy="537.37" r="1.6"/>
<circle cx="364.6" cy="572.53" r="1.6"/>
<circle cx="365.4" cy="556.49" r="1.6"/>
<circle cx="369.4" cy="548.5" r="1.6"/>
<circle cx="365.4" cy="533.99" r="1.6"/>
<circle cx="364.6" cy="578.09" r="1.6"/>
<circle cx="357.4" cy="546.45" r="1.6"/>
<circle cx="362.2" cy="546.28" r="1.6"/>
<circle cx="360.6" cy="552.61" r="1.6"/>
<circle cx="363.8" cy="595.4" r="1.6"/>
<circle cx="363.8" cy="545.35" r="1.6"/>
<circle cx="363.8" cy="516.21" r="1.6"/>
<circle cx="368.6" cy="568.7" r="1.6"/>
<circle cx="365.4" cy="574.63" r="1.6"/>
<circle cx="364.6" cy="507.04" r="1.6"/>
<circle cx="360.6" cy="578.98" r="1.6"/>
<circle cx="362.2" cy="580.91" r="1.6"/>
<circle cx="363.8" cy="582.93" r="1.6"/>
<circle cx="362.49" cy="569.05" r="1.6"/>
<circle cx="368.6" cy="549.77" r="1.6"/>
<circle cx="367.8" cy="562.5" r="1.6"/>
<circle cx="368.6" cy="570.41" r="1.6"/>
<circle cx="367.3" cy="560.62" r="1.6"/>
<circle cx="368.6" cy="573.4" r="1.6"/>
<circle cx="357.73" cy="565.36" r="1.6"/>
<circle cx="359.8" cy="560.36" r="1.6"/>
<circle cx="370.2" cy="557.74" r="1.6"/>
<circle cx="369.4" cy="559.32" r="1.6"/>
<circle cx="363.8" cy="511.51" r="1.6"/>
<circle cx="357.4" cy="556.02" r="1.6"/>
<circle cx="363.8" cy="598.71" r="1.6"/>
<circle cx="365.4" cy="561.25" r="1.6"/>
<circle cx="358.41" cy="562.39" r="1.6"/>
<circle cx="363.8" cy="610.7" r="1.6"/>
<circle cx="363.8" cy="602.2" r="1.6"/>
<circle cx="363" cy="563.83" r="1.6"/>
<circle cx="365.4" cy="570.74" r="1.6"/>
<circle cx="363.8" cy="562.57" r="1.6"/>
<circle cx="363.8" cy="623.27" r="1.6"/>
<circle cx="364.6" cy="525.13" r="1.6"/>
<circle cx="364.6" cy="596.61" r="1.6"/>
<circle cx="359" cy="562.54" r="1.6"/>
<circle cx="366.2" cy="536.17" r="1.6"/>
<circle cx="363.8" cy="502.6" r="1.6"/>
<circle cx="359" cy="541.9" r="1.6"/>
<circle cx="360.6" cy="566.28" r="1.6"/>
<circle cx="362.2" cy="542.91" r="1.6"/>
<circle cx="367" cy="549.33" r="1.6"/>
<circle cx="365.4" cy="545.85" r="1.6"/>
<circle cx="367" cy="573.73" r="1.6"/>
<circle cx="363.8" cy="588.25" r="1.6"/>
<circle cx="363.8" cy="555.73" r="1.6"/>
<circle cx="365.4" cy="523.49" r="1.6"/>
<circle cx="360.6" cy="581.94" r="1.6"/>
<circle cx="359" cy="567.37" r="1.6"/>
<circle cx="363.8" cy="533" r="1.6"/>
<circle cx="367" cy="569.95" r="1.6"/>
<circle cx="360.37" cy="547.45" r="1.6"/>
<circle cx="359.8" cy="545.57" r="1.6"/>
<circle cx="357.4" cy="563.05" r="1.6"/>
<circle cx="360.6" cy="548.49" r="1.6"/>
<circle cx="363.8" cy="541.38" r="1.6"/>
<circle cx="365.4" cy="565.15" r="1.6"/>
<circle cx="370.2" cy="561.86" r="1.6"/>
<circle cx="357.4" cy="568" r="1.6"/>
<circle cx="367.8" cy="541.93" r="1.6"/>
<circle cx="363.8" cy="571.43" r="1.6"/>
<circle cx="365.4" cy="508.61" r="1.6"/>
<circle cx="360.6" cy="543.03" r="1.6"/>
<circle cx="363.28" cy="560.42" r="1.6"/>
<circle cx="360.6" cy="529.98" r="1.6"/>
<circle cx="357.4" cy="551.05" r="1.6"/>
<circle cx="364.72" cy="564.76" r="1.6"/>
<circle cx="362.41" cy="552.33" r="1.6"/>
<circle cx="363.8" cy="523.69" r="1.6"/>
<circle cx="359.83" cy="564.09" r="1.6"/>
<circle cx="361.76" cy="564.69" r="1.6"/>
<circle cx="362.2" cy="556.35" r="1.6"/>
<circle cx="362.2" cy="557.94" r="1.6"/>
<circle cx="362.2" cy="595.57" r="1.6"/>
<circle cx="368.91" cy="565.34" r="1.6"/>
<circle cx="357.4" cy="549.34" r="1.6"/>
<circle cx="367.8" cy="540.56" r="1.6"/>
<circle cx="364.6" cy="575.8" r="1.6"/>
<circle cx="359.62" cy="572.95" r="1.6"/>
<circle cx="365.4" cy="568.72" r="1.6"/>
<circle cx="363.8" cy="579.7" r="1.6"/>
<circle cx="368.42" cy="570.63" r="1.6"/>
<circle cx="366.78" cy="570.92" r="1.6"/>
<circle cx="360.6" cy="573.05" r="1.6"/>
<circle cx="366.94" cy="560.42" r="1.6"/>
<circle cx="367" cy="563.72" r="1.6"/>
<circle cx="362.2" cy="579.02" r="1.6"/>
<circle cx="365.4" cy="532.55" r="1.6"/>
<circle cx="365.4" cy="593.14" r="1.6"/>
<circle cx="362.4" cy="547.33" r="1.6"/>
<circle cx="357.4" cy="558.4" r="1.6"/>
<circle cx="363.8" cy="591.09" r="1.6"/>
<circle cx="363" cy="570.25" r="1.6"/>
<circle cx="368.25" cy="567.97" r="1.6"/>
<circle cx="362.2" cy="573.5" r="1.6"/>
<circle cx="362.2" cy="530.69" r="1.6"/>
<circle cx="357.4" cy="564.4" r="1.6"/>
<circle cx="363.8" cy="576.95" r="1.6"/>
<circle cx="362.2" cy="587.8" r="1.6"/>
<circle cx="360.6" cy="559.13" r="1.6"/>
<circle cx="366.13" cy="553.07" r="1.6"/>
<circle cx="361.4" cy="584.86" r="1.6"/>
<circle cx="362.2" cy="585.99" r="1.6"/>
<circle cx="363.8" cy="618.62" r="1.6"/>
<circle cx="363.8" cy="535.26" r="1.6"/>
<circle cx="358.2" cy="540.77" r="1.6"/>
<circle cx="362.2" cy="571.91" r="1.6"/>
<circle cx="359" cy="547.24" r="1.6"/>
<circle cx="363.8" cy="609.33" r="1.6"/>
<circle cx="368.6" cy="564.43" r="1.6"/>
<circle cx="365.4" cy="637.66" r="1.6"/>
<circle cx="364.6" cy="566.52" r="1.6"/>
<circle cx="359" cy="557.84" r="1.6"/>
<circle cx="359.8" cy="583.06" r="1.6"/>
<circle cx="369.05" cy="551.91" r="1.6"/>
<circle cx="368.6" cy="566.18" r="1.6"/>
<circle cx="370.2" cy="573.4" r="1.6"/>
<circle cx="367" cy="546.83" r="1.6"/>
<circle cx="365.4" cy="618.24" r="1.6"/>
<circle cx="364.6" cy="544.2" r="1.6"/>
<circle cx="361.4" cy="570.38" r="1.6"/>
<circle cx="360.6" cy="580.56" r="1.6"/>
<circle cx="360.6" cy="571.55" r="1.6"/>
<circle cx="362.2" cy="540.12" r="1.6"/>
<circle cx="367" cy="544.89" r="1.6"/>
<circle cx="368.6" cy="560.46" r="1.6"/>
<circle cx="363.8" cy="539.06" r="1.6"/>
<circle cx="369.27" cy="572.71" r="1.6"/>
<circle cx="364.31" cy="573" r="1.6"/>
<circle cx="362.2" cy="532.67" r="1.6"/>
<circle cx="362.2" cy="554.18" r="1.6"/>
<circle cx="368.6" cy="556.88" r="1.6"/>
<circle cx="363.8" cy="565.36" r="1.6"/>
<circle cx="367" cy="557.83" r="1.6"/>
<circle cx="359" cy="576.79" r="1.6"/>
<circle cx="363.8" cy="593.08" r="1.6"/>
<circle cx="364.6" cy="607.99" r="1.6"/>
<circle cx="362.2" cy="591.21" r="1.6"/>
<circle cx="359" cy="570.6" r="1.6"/>
<circle cx="365.4" cy="547.83" r="1.6"/>
<circle cx="367" cy="568.27" r="1.6"/>
<circle cx="357.44" cy="549.29" r="1.6"/>
<circle cx="365.4" cy="537.44" r="1.6"/>
<circle cx="362.2" cy="549.83" r="1.6"/>
<circle cx="368.6" cy="546.87" r="1.6"/>
<circle cx="359" cy="556.33" r="1.6"/>
<circle cx="367" cy="575.35" r="1.6"/>
<circle cx="363.8" cy="549.6" r="1.6"/>
<circle cx="362.2" cy="552.16" r="1.6"/>
<circle cx="365.4" cy="541.83" r="1.6"/>
<circle cx="359" cy="574.75" r="1.6"/>
<circle cx="360.6" cy="554.43" r="1.6"/>
<circle cx="368.6" cy="552.3" r="1.6"/>
<circle cx="362.2" cy="566.17" r="1.6"/>
<circle cx="365.4" cy="559.74" r="1.6"/>
<circle cx="367" cy="565.18" r="1.6"/>
<circle cx="358.2" cy="559.7" r="1.6"/>
<circle cx="365.4" cy="580.55" r="1.6"/>
<circle cx="368.6" cy="539.15" r="1.6"/>
<circle cx="360.6" cy="547.01" r="1.6"/>
<circle cx="360.6" cy="576.04" r="1.6"/>
<circle cx="360.6" cy="538.84" r="1.6"/>
<circle cx="367" cy="577.58" r="1.6"/>
<circle cx="363.8" cy="581.46" r="1.6"/>
<circle cx="360.6" cy="540.22" r="1.6"/>
<circle cx="370.2" cy="550.31" r="1.6"/>
<circle cx="359" cy="550.39" r="1.6"/>
<circle cx="362.2" cy="601.16" r="1.6"/>
<circle cx="366.2" cy="540.49" r="1.6"/>
<circle cx="365.4" cy="586.13" r="1.6"/>
<circle cx="363.8" cy="630.52" r="1.6"/>
<circle cx="361.3" cy="567.52" r="1.6"/>
<circle cx="368.24" cy="564.29" r="1.6"/>
<circle cx="363.8" cy="633.44" r="1.6"/>
<circle cx="361.4" cy="545.19" r="1.6"/>
<circle cx="357.4" cy="543.26" r="1.6"/>
<circle cx="359" cy="568.94" r="1.6"/>
<circle cx="367" cy="539.31" r="1.6"/>
<circle cx="369.4" cy="540.94" r="1.6"/>
<circle cx="365.4" cy="576.9" r="1.6"/>
<circle cx="363.8" cy="543.09" r="1.6"/>
<circle cx="362.2" cy="577.57" r="1.6"/>
<circle cx="361.4" cy="535.1" r="1.6"/>
<circle cx="365.4" cy="530.36" r="1.6"/>
<circle cx="363.8" cy="605.74" r="1.6"/>
<circle cx="363.8" cy="624.87" r="1.6"/>
<circle cx="359.64" cy="568.27" r="1.6"/>
<circle cx="365.4" cy="511.36" r="1.6"/>
<circle cx="362.2" cy="617.62" r="1.6"/>
<circle cx="361.4" cy="564.34" r="1.6"/>
<circle cx="362.2" cy="536.44" r="1.6"/>
<circle cx="366.2" cy="542.92" r="1.6"/>
<circle cx="363.8" cy="547.73" r="1.6"/>
<circle cx="370.2" cy="567.79" r="1.6"/>
<circle cx="359" cy="543.94" r="1.6"/>
<circle cx="363.97" cy="567.47" r="1.6"/>
<circle cx="363" cy="528.17" r="1.6"/>
<circle cx="368.6" cy="545.07" r="1.6"/>
<circle cx="362.2" cy="599.39" r="1.6"/>
<circle cx="370.2" cy="552.45" r="1.6"/>
<circle cx="364.6" cy="540.19" r="1.6"/>
<circle cx="363.8" cy="637" r="1.6"/>
<circle cx="365.4" cy="554.48" r="1.6"/>
<circle cx="363.8" cy="585.73" r="1.6"/>
<circle cx="359" cy="564.86" r="1.6"/>
<circle cx="362.2" cy="583.19" r="1.6"/>
<circle cx="369.83" cy="561.9" r="1.6"/>
<circle cx="362.2" cy="538.07" r="1.6"/>
<circle cx="359.03" cy="573.73" r="1.6"/>
<circle cx="360.6" cy="562.39" r="1.6"/>
<circle cx="360.6" cy="574.43" r="1.6"/>
<circle cx="363.8" cy="574.53" r="1.6"/>
<circle cx="363.8" cy="558.57" r="1.6"/>
<circle cx="365.37" cy="571.01" r="1.6"/>
<circle cx="365.4" cy="582.08" r="1.6"/>
<circle cx="369.4" cy="543.77" r="1.6"/>
<circle cx="363" cy="544.25" r="1.6"/>
<circle cx="357.4" cy="573.75" r="1.6"/>
<circle cx="363.8" cy="500" r="1.6"/>
<circle cx="362.2" cy="638" r="1.6"/>
<circle cx="363.8" cy="468.5" r="1.6"/>
<circle cx="363.8" cy="478" r="1.6"/>
<circle cx="363.8" cy="485" r="1.6"/>
<circle cx="363.8" cy="492" r="1.6"/>
<circle cx="382.5" cy="530.61" r="1.6"/>
<circle cx="382.5" cy="556.22" r="1.6"/>
<circle cx="380.9" cy="513.37" r="1.6"/>
<circle cx="382.5" cy="566.04" r="1.6"/>
<circle cx="380.9" cy="561.42" r="1.6"/>
<circle cx="379.3" cy="578.36" r="1.6"/>
<circle cx="382.5" cy="552.76" r="1.6"/>
<circle cx="379.3" cy="554.88" r="1.6"/>
<circle cx="384.9" cy="537.79" r="1.6"/>
<circle cx="380.9" cy="567.89" r="1.6"/>
<circle cx="379.3" cy="545.8" r="1.6"/>
<circle cx="376.1" cy="536.37" r="1.6"/>
<circle cx="380.9" cy="523.64" r="1.6"/>
<circle cx="379.3" cy="544.29" r="1.6"/>
<circle cx="379.3" cy="517.86" r="1.6"/>
<circle cx="380.9" cy="548.15" r="1.6"/>
<circle cx="376.1" cy="540.47" r="1.6"/>
<circle cx="376.1" cy="545.09" r="1.6"/>
<circle cx="384.9" cy="549.67" r="1.6"/>
<circle cx="380.9" cy="521.65" r="1.6"/>
<circle cx="380.1" cy="538.33" r="1.6"/>
<circle cx="382.5" cy="570.78" r="1.6"/>
<circle cx="380.9" cy="577.88" r="1.6"/>
<circle cx="380.9" cy="576.12" r="1.6"/>
<circle cx="377.7" cy="540.7" r="1.6"/>
<circle cx="380.9" cy="586.53" r="1.6"/>
<circle cx="377.7" cy="566.69" r="1.6"/>
<circle cx="382.5" cy="515.77" r="1.6"/>
<circle cx="379.3" cy="530.94" r="1.6"/>
<circle cx="377.7" cy="545.59" r="1.6"/>
<circle cx="378.5" cy="529.76" r="1.6"/>
<circle cx="378.5" cy="538.14" r="1.6"/>
<circle cx="380.9" cy="506.36" r="1.6"/>
<circle cx="383.3" cy="564.83" r="1.6"/>
<circle cx="377.7" cy="523.04" r="1.6"/>
<circle cx="380.1" cy="547.02" r="1.6"/>
<circle cx="382.5" cy="513.76" r="1.6"/>
<circle cx="379.3" cy="565.87" r="1.6"/>
<circle cx="379.3" cy="550.33" r="1.6"/>
<circle cx="379.3" cy="570.31" r="1.6"/>
<circle cx="380.9" cy="569.43" r="1.6"/>
<circle cx="384.1" cy="546.16" r="1.6"/>
<circle cx="382.5" cy="538.5" r="1.6"/>
<circle cx="380.9" cy="559.63" r="1.6"/>
<circle cx="378.5" cy="547.6" r="1.6"/>
<circle cx="384.1" cy="530.82" r="1.6"/>
<circle cx="379.3" cy="562.33" r="1.6"/>
<circle cx="382.5" cy="533.55" r="1.6"/>
<circle cx="380.9" cy="511.4" r="1.6"/>
<circle cx="379.3" cy="536.07" r="1.6"/>
<circle cx="379.3" cy="523.26" r="1.6"/>
<circle cx="382.5" cy="536.38" r="1.6"/>
<circle cx="377.7" cy="565.12" r="1.6"/>
<circle cx="382.5" cy="522.97" r="1.6"/>
<circle cx="382.5" cy="542.84" r="1.6"/>
<circle cx="380.9" cy="544.86" r="1.6"/>
<circle cx="385.7" cy="540.43" r="1.6"/>
<circle cx="380.9" cy="530.36" r="1.6"/>
<circle cx="379.3" cy="539.92" r="1.6"/>
<circle cx="380.9" cy="497.99" r="1.6"/>
<circle cx="380.9" cy="550.47" r="1.6"/>
<circle cx="378.5" cy="551.45" r="1.6"/>
<circle cx="380.9" cy="516.83" r="1.6"/>
<circle cx="385.7" cy="546.36" r="1.6"/>
<circle cx="384.9" cy="565.89" r="1.6"/>
<circle cx="382.5" cy="525.64" r="1.6"/>
<circle cx="382.5" cy="575.57" r="1.6"/>
<circle cx="379.3" cy="533.11" r="1.6"/>
<circle cx="382.5" cy="577.98" r="1.6"/>
<circle cx="384.1" cy="540.48" r="1.6"/>
<circle cx="380.9" cy="583.95" r="1.6"/>
<circle cx="380.9" cy="565.04" r="1.6"/>
<circle cx="377.7" cy="535.82" r="1.6"/>
<circle cx="382.5" cy="559" r="1.6"/>
<circle cx="382.5" cy="540.39" r="1.6"/>
<circle cx="383.3" cy="555.05" r="1.6"/>
<circle cx="379.3" cy="552.74" r="1.6"/>
<circle cx="384.1" cy="535.92" r="1.6"/>
<circle cx="379.3" cy="520.91" r="1.6"/>
<circle cx="379.3" cy="564.03" r="1.6"/>
<circle cx="380.9" cy="570.83" r="1.6"/>
<circle cx="380.9" cy="525.55" r="1.6"/>
<circle cx="380.9" cy="556.94" r="1.6"/>
<circle cx="382.5" cy="545.9" r="1.6"/>
<circle cx="383.3" cy="549.53" r="1.6"/>
<circle cx="378.5" cy="528.34" r="1.6"/>
<circle cx="380.9" cy="536.78" r="1.6"/>
<circle cx="380.9" cy="562.78" r="1.6"/>
<circle cx="380.1" cy="534.83" r="1.6"/>
<circle cx="381.7" cy="547.06" r="1.6"/>
<circle cx="382.5" cy="527.8" r="1.6"/>
<circle cx="379.3" cy="541.74" r="1.6"/>
<circle cx="378.5" cy="558.17" r="1.6"/>
<circle cx="379.3" cy="548.93" r="1.6"/>
<circle cx="380.9" cy="527.28" r="1.6"/>
<circle cx="384.1" cy="539.06" r="1.6"/>
<circle cx="383.3" cy="541.66" r="1.6"/>
<circle cx="379.3" cy="576.28" r="1.6"/>
<circle cx="383.3" cy="547.27" r="1.6"/>
<circle cx="380.9" cy="518.8" r="1.6"/>
<circle cx="383.3" cy="529.45" r="1.6"/>
<circle cx="381.7" cy="549.28" r="1.6"/>
<circle cx="379.3" cy="556.74" r="1.6"/>
<circle cx="382.5" cy="498.16" r="1.6"/>
<circle cx="380.9" cy="539.51" r="1.6"/>
<circle cx="382.5" cy="561.83" r="1.6"/>
<circle cx="377.7" cy="548.97" r="1.6"/>
<circle cx="380.9" cy="533.72" r="1.6"/>
<circle cx="377.7" cy="562.18" r="1.6"/>
<circle cx="377.7" cy="542.08" r="1.6"/>
<circle cx="380.1" cy="558.41" r="1.6"/>
<circle cx="380.9" cy="551.84" r="1.6"/>
<circle cx="380.9" cy="555.22" r="1.6"/>
<circle cx="380.9" cy="579.95" r="1.6"/>
<circle cx="380.9" cy="541.89" r="1.6"/>
<circle cx="379.3" cy="527.25" r="1.6"/>
<circle cx="379.3" cy="560" r="1.6"/>
<circle cx="380.9" cy="495" r="1.6"/>
<circle cx="380.9" cy="594.5" r="1.6"/>
<circle cx="380.9" cy="467.25" r="1.6"/>
<circle cx="380.9" cy="472" r="1.6"/>
<circle cx="380.9" cy="478" r="1.6"/>
<circle cx="380.9" cy="485" r="1.6"/>
<circle cx="400.4" cy="536.29" r="1.6"/>
<circle cx="398" cy="510.19" r="1.6"/>
<circle cx="395.6" cy="537.06" r="1.6"/>
<circle cx="397.2" cy="536.74" r="1.6"/>
<circle cx="396.4" cy="545.29" r="1.6"/>
<circle cx="398" cy="505.97" r="1.6"/>
<circle cx="396.4" cy="538.32" r="1.6"/>
<circle cx="400.4" cy="533.02" r="1.6"/>
<circle cx="399.6" cy="534.28" r="1.6"/>
<circle cx="398" cy="544.53" r="1.6"/>
<circle cx="398" cy="570.65" r="1.6"/>
<circle cx="398" cy="522.33" r="1.6"/>
<circle cx="396.4" cy="562.96" r="1.6"/>
<circle cx="399.6" cy="538.26" r="1.6"/>
<circle cx="398" cy="550.9" r="1.6"/>
<circle cx="399.6" cy="527.69" r="1.6"/>
<circle cx="396.4" cy="557" r="1.6"/>
<circle cx="399.6" cy="562.74" r="1.6"/>
<circle cx="399.6" cy="521.88" r="1.6"/>
<circle cx="401.2" cy="528.99" r="1.6"/>
<circle cx="398" cy="527.61" r="1.6"/>
<circle cx="396.4" cy="521.27" r="1.6"/>
<circle cx="394.8" cy="563" r="1.6"/>
<circle cx="398" cy="547.08" r="1.6"/>
<circle cx="398.8" cy="558.03" r="1.6"/>
<circle cx="398" cy="538" r="1.6"/>
<circle cx="398" cy="575.54" r="1.6"/>
<circle cx="396.4" cy="559.33" r="1.6"/>
<circle cx="397.2" cy="554.36" r="1.6"/>
<circle cx="401.2" cy="526.86" r="1.6"/>
<circle cx="398" cy="567.47" r="1.6"/>
<circle cx="395.6" cy="527.95" r="1.6"/>
<circle cx="399.6" cy="531.93" r="1.6"/>
<circle cx="394.8" cy="532.69" r="1.6"/>
<circle cx="398" cy="574.11" r="1.6"/>
<circle cx="401.2" cy="560.21" r="1.6"/>
<circle cx="398" cy="498.1" r="1.6"/>
<circle cx="399.6" cy="556.25" r="1.6"/>
<circle cx="398" cy="539.36" r="1.6"/>
<circle cx="394.8" cy="556.28" r="1.6"/>
<circle cx="394.8" cy="559.3" r="1.6"/>
<circle cx="394.8" cy="552.66" r="1.6"/>
<circle cx="398" cy="565.8" r="1.6"/>
<circle cx="398.8" cy="535.81" r="1.6"/>
<circle cx="399.6" cy="575.58" r="1.6"/>
<circle cx="398" cy="619.86" r="1.6"/>
<circle cx="398.8" cy="508.22" r="1.6"/>
<circle cx="399.6" cy="547.91" r="1.6"/>
<circle cx="399.6" cy="529.12" r="1.6"/>
<circle cx="396.4" cy="522.93" r="1.6"/>
<circle cx="401.2" cy="538.62" r="1.6"/>
<circle cx="396.4" cy="532.95" r="1.6"/>
<circle cx="398" cy="555.96" r="1.6"/>
<circle cx="398" cy="612.86" r="1.6"/>
<circle cx="397.2" cy="508.94" r="1.6"/>
<circle cx="399.6" cy="567.4" r="1.6"/>
<circle cx="399.6" cy="530.51" r="1.6"/>
<circle cx="398" cy="530.61" r="1.6"/>
<circle cx="399.6" cy="559.68" r="1.6"/>
<circle cx="399.6" cy="540.41" r="1.6"/>
<circle cx="398" cy="579.39" r="1.6"/>
<circle cx="398" cy="524.81" r="1.6"/>
<circle cx="398" cy="559.32" r="1.6"/>
<circle cx="399.6" cy="553.47" r="1.6"/>
<circle cx="398" cy="583.37" r="1.6"/>
<circle cx="398" cy="501.34" r="1.6"/>
<circle cx="399.6" cy="543.6" r="1.6"/>
<circle cx="395.6" cy="554.26" r="1.6"/>
<circle cx="398" cy="532.05" r="1.6"/>
<circle cx="398" cy="529.12" r="1.6"/>
<circle cx="398" cy="553.16" r="1.6"/>
<circle cx="398" cy="586.6" r="1.6"/>
<circle cx="396.4" cy="526.66" r="1.6"/>
<circle cx="396.4" cy="552.27" r="1.6"/>
<circle cx="396.4" cy="519.11" r="1.6"/>
<circle cx="396.4" cy="547.68" r="1.6"/>
<circle cx="398" cy="542.11" r="1.6"/>
<circle cx="402.8" cy="559.6" r="1.6"/>
<circle cx="396.4" cy="575.64" r="1.6"/>
<circle cx="395.6" cy="539.64" r="1.6"/>
<circle cx="394" cy="527.36" r="1.6"/>
<circle cx="396.4" cy="550.78" r="1.6"/>
<circle cx="394" cy="539.06" r="1.6"/>
<circle cx="398" cy="518.13" r="1.6"/>
<circle cx="398" cy="533.42" r="1.6"/>
<circle cx="398.8" cy="523.5" r="1.6"/>
<circle cx="398" cy="562" r="1.6"/>
<circle cx="397.2" cy="497" r="1.6"/>
<circle cx="398" cy="630.75" r="1.6"/>
<circle cx="398" cy="468.5" r="1.6"/>
<circle cx="398" cy="473" r="1.6"/>
<circle cx="398" cy="480" r="1.6"/>
<circle cx="416.7" cy="509.33" r="1.6"/>
<circle cx="412.7" cy="509.61" r="1.6"/>
<circle cx="416.7" cy="530.07" r="1.6"/>
<circle cx="415.1" cy="585.97" r="1.6"/>
<circle cx="415.1" cy="573.65" r="1.6"/>
<circle cx="415.1" cy="566.43" r="1.6"/>
<circle cx="415.1" cy="537.63" r="1.6"/>
<circle cx="416.7" cy="547.55" r="1.6"/>
<circle cx="413.5" cy="553.28" r="1.6"/>
<circle cx="415.1" cy="530" r="1.6"/>
<circle cx="415.9" cy="548.98" r="1.6"/>
<circle cx="415.1" cy="515.13" r="1.6"/>
<circle cx="413.5" cy="510.91" r="1.6"/>
<circle cx="414.3" cy="549.49" r="1.6"/>
<circle cx="415.1" cy="539.65" r="1.6"/>
<circle cx="415.1" cy="542.67" r="1.6"/>
<circle cx="415.1" cy="504.59" r="1.6"/>
<circle cx="415.1" cy="592.83" r="1.6"/>
<circle cx="415.1" cy="546.58" r="1.6"/>
<circle cx="415.9" cy="556.25" r="1.6"/>
<circle cx="415.1" cy="583.28" r="1.6"/>
<circle cx="413.5" cy="542.69" r="1.6"/>
<circle cx="415.1" cy="517.49" r="1.6"/>
<circle cx="413.5" cy="540.69" r="1.6"/>
<circle cx="414.3" cy="535.44" r="1.6"/>
<circle cx="415.1" cy="526.87" r="1.6"/>
<circle cx="415.1" cy="519.31" r="1.6"/>
<circle cx="416.7" cy="542.38" r="1.6"/>
<circle cx="415.1" cy="572.28" r="1.6"/>
<circle cx="415.1" cy="550.72" r="1.6"/>
<circle cx="413.5" cy="557.05" r="1.6"/>
<circle cx="417.5" cy="510.46" r="1.6"/>
<circle cx="415.1" cy="594.67" r="1.6"/>
<circle cx="415.1" cy="534.13" r="1.6"/>
<circle cx="415.1" cy="510.5" r="1.6"/>
<circle cx="415.1" cy="609.2" r="1.6"/>
<circle cx="415.1" cy="525.01" r="1.6"/>
<circle cx="415.1" cy="532.77" r="1.6"/>
<circle cx="415.1" cy="581.71" r="1.6"/>
<circle cx="415.1" cy="553.02" r="1.6"/>
<circle cx="415.1" cy="560.59" r="1.6"/>
<circle cx="415.1" cy="508.98" r="1.6"/>
<circle cx="416.7" cy="519" r="1.6"/>
<circle cx="415.1" cy="557.5" r="1.6"/>
<circle cx="415.9" cy="503.5" r="1.6"/>
<circle cx="415.1" cy="612.5" r="1.6"/>
<circle cx="415.1" cy="479.75" r="1.6"/>
<circle cx="415.1" cy="488" r="1.6"/>
<circle cx="433.8" cy="508.06" r="1.6"/>
<circle cx="432.2" cy="507.25" r="1.6"/>
<circle cx="432.2" cy="550.58" r="1.6"/>
<circle cx="432.2" cy="535.06" r="1.6"/>
<circle cx="432.2" cy="521.9" r="1.6"/>
<circle cx="432.2" cy="590.83" r="1.6"/>
<circle cx="433.8" cy="605.36" r="1.6"/>
<circle cx="432.2" cy="607.45" r="1.6"/>
<circle cx="432.2" cy="559.28" r="1.6"/>
<circle cx="433.8" cy="535.27" r="1.6"/>
<circle cx="432.2" cy="498.27" r="1.6"/>
<circle cx="432.2" cy="565.88" r="1.6"/>
<circle cx="432.2" cy="605.53" r="1.6"/>
<circle cx="432.2" cy="525.81" r="1.6"/>
<circle cx="433.8" cy="554.89" r="1.6"/>
<circle cx="430.6" cy="549.15" r="1.6"/>
<circle cx="430.6" cy="535.92" r="1.6"/>
<circle cx="432.2" cy="517.91" r="1.6"/>
<circle cx="432.2" cy="543.76" r="1.6"/>
<circle cx="432.2" cy="537.85" r="1.6"/>
<circle cx="432.2" cy="580.57" r="1.6"/>
<circle cx="432.2" cy="541.36" r="1.6"/>
<circle cx="432.2" cy="554.15" r="1.6"/>
<circle cx="431.4" cy="519.03" r="1.6"/>
<circle cx="429" cy="536.03" r="1.6"/>
<circle cx="433" cy="519.99" r="1.6"/>
<circle cx="432.2" cy="505" r="1.6"/>
<circle cx="432.2" cy="548.75" r="1.6"/>
<circle cx="432.2" cy="483.75" r="1.6"/>
<circle cx="432.2" cy="619.5" r="1.6"/>
<circle cx="432.2" cy="452.5" r="1.6"/>
<circle cx="449.3" cy="543.15" r="1.6"/>
<circle cx="449.3" cy="508.41" r="1.6"/>
<circle cx="449.3" cy="513.53" r="1.6"/>
<circle cx="449.3" cy="518.34" r="1.6"/>
<circle cx="449.3" cy="534.4" r="1.6"/>
<circle cx="450.1" cy="541.83" r="1.6"/>
<circle cx="449.3" cy="523.54" r="1.6"/>
<circle cx="449.3" cy="538.67" r="1.6"/>
<circle cx="447.7" cy="533.73" r="1.6"/>
<circle cx="449.3" cy="510.33" r="1.6"/>
<circle cx="449.3" cy="515" r="1.6"/>
<circle cx="449.3" cy="537" r="1.6"/>
<circle cx="449.3" cy="504.5" r="1.6"/>
<circle cx="449.3" cy="548.25" r="1.6"/>
<circle cx="449.3" cy="472" r="1.6"/>
<circle cx="466.4" cy="550.54" r="1.6"/>
<circle cx="466.4" cy="494.45" r="1.6"/>
<circle cx="466.4" cy="528.48" r="1.6"/>
<circle cx="468" cy="550.44" r="1.6"/>
<circle cx="466.4" cy="491.85" r="1.6"/>
<circle cx="466.4" cy="554.17" r="1.6"/>
<circle cx="466.4" cy="524.99" r="1.6"/>
<circle cx="466.4" cy="497.24" r="1.6"/>
<circle cx="466.4" cy="498.75" r="1.6"/>
<circle cx="464.8" cy="550.5" r="1.6"/>
<circle cx="466.4" cy="490.5" r="1.6"/>
<circle cx="466.4" cy="572.5" r="1.6"/>
<circle cx="466.4" cy="467.5" r="1.6"/>
<circle cx="483.5" cy="536.47" r="1.6"/>
<circle cx="483.5" cy="523.32" r="1.6"/>
<circle cx="483.5" cy="527.88" r="1.6"/>
<circle cx="483.5" cy="571.91" r="1.6"/>
<circle cx="481.9" cy="528.77" r="1.6"/>
<circle cx="483.5" cy="520.5" r="1.6"/>
<circle cx="483.5" cy="573.75" r="1.6"/>
<circle cx="481.9" cy="520" r="1.6"/>
<circle cx="483.5" cy="578" r="1.6"/>
<circle cx="483.5" cy="477" r="1.6"/>
<circle cx="500.6" cy="519.49" r="1.6"/>
<circle cx="500.6" cy="524.82" r="1.6"/>
<circle cx="502.2" cy="520.56" r="1.6"/>
<circle cx="500.6" cy="516.25" r="1.6"/>
<circle cx="500.6" cy="530" r="1.6"/>
<circle cx="499" cy="516.25" r="1.6"/>
<circle cx="499" cy="530" r="1.6"/>
</g>
<line x1="305.5" y1="582.5" x2="319.5" y2="582.5" stroke="#000" stroke-width="1.6"/>
<line x1="322.6" y1="561.25" x2="336.6" y2="561.25" stroke="#000" stroke-width="1.6"/>
<line x1="339.7" y1="560.5" x2="353.7" y2="560.5" stroke="#000" stroke-width="1.6"/>
<line x1="356.8" y1="560.5" x2="370.8" y2="560.5" stroke="#000" stroke-width="1.6"/>
<line x1="373.9" y1="544" x2="387.9" y2="544" stroke="#000" stroke-width="1.6"/>
<line x1="391" y1="544.25" x2="405" y2="544.25" stroke="#000" stroke-width="1.6"/>
<line x1="408.1" y1="539" x2="422.1" y2="539" stroke="#000" stroke-width="1.6"/>
<line x1="425.2" y1="531.75" x2="439.2" y2="531.75" stroke="#000" stroke-width="1.6"/>
<line x1="442.3" y1="523.25" x2="456.3" y2="523.25" stroke="#000" stroke-width="1.6"/>
<line x1="459.4" y1="515" x2="473.4" y2="515" stroke="#000" stroke-width="1.6"/>
<line x1="476.5" y1="537.5" x2="490.5" y2="537.5" stroke="#000" stroke-width="1.6"/>
<line x1="493.6" y1="522.5" x2="507.6" y2="522.5" stroke="#000" stroke-width="1.6"/>
<line x1="293.5" y1="449.46" x2="297.6" y2="449.46" stroke="#444" stroke-width="0.8"/>
<text transform="translate(289.2,449.46) rotate(-90)" font-size="8" text-anchor="middle">5,000</text>
<line x1="293.5" y1="478.24" x2="297.6" y2="478.24" stroke="#444" stroke-width="0.8"/>
<text transform="translate(289.2,478.24) rotate(-90)" font-size="8" text-anchor="middle">2,000</text>
<line x1="293.5" y1="500" x2="297.6" y2="500" stroke="#444" stroke-width="0.8"/>
<text transform="translate(289.2,500) rotate(-90)" font-size="8" text-anchor="middle">1,000</text>
<line x1="293.5" y1="521.76" x2="297.6" y2="521.76" stroke="#444" stroke-width="0.8"/>
<text transform="translate(289.2,521.76) rotate(-90)" font-size="8" text-anchor="middle">500</text>
<line x1="293.5" y1="550.54" x2="297.6" y2="550.54" stroke="#444" stroke-width="0.8"/>
<text transform="translate(289.2,550.54) rotate(-90)" font-size="8" text-anchor="middle">200</text>
<line x1="293.5" y1="572.3" x2="297.6" y2="572.3" stroke="#444" stroke-width="0.8"/>
<text transform="translate(289.2,572.3) rotate(-90)" font-size="8" text-anchor="middle">100</text>
<line x1="293.5" y1="594.06" x2="297.6" y2="594.06" stroke="#444" stroke-width="0.8"/>
<text transform="translate(289.2,594.06) rotate(-90)" font-size="8" text-anchor="middle">50</text>
<line x1="293.5" y1="622.84" x2="297.6" y2="622.84" stroke="#444" stroke-width="0.8"/>
<text transform="translate(289.2,622.84) rotate(-90)" font-size="8" text-anchor="middle">20</text>
<line x1="293.5" y1="644.6" x2="297.6" y2="644.6" stroke="#444" stroke-width="0.8"/>
<text transform="translate(289.2,644.6) rotate(-90)" font-size="8" text-anchor="middle">10</text>
<line x1="312.5" y1="644.8" x2="312.5" y2="648.5" stroke="#444" stroke-width="0.8"/>
<text x="312.5" y="659" font-size="8.3" text-anchor="middle">1</text>
<line x1="329.6" y1="644.8" x2="329.6" y2="648.5" stroke="#444" stroke-width="0.8"/>
<text x="329.6" y="659" font-size="8.3" text-anchor="middle">2</text>
<line x1="346.7" y1="644.8" x2="346.7" y2="648.5" stroke="#444" stroke-width="0.8"/>
<text x="346.7" y="659" font-size="8.3" text-anchor="middle">3</text>
<line x1="363.8" y1="644.8" x2="363.8" y2="648.5" stroke="#444" stroke-width="0.8"/>
<text x="363.8" y="659" font-size="8.3" text-anchor="middle">4</text>
<line x1="380.9" y1="644.8" x2="380.9" y2="648.5" stroke="#444" stroke-width="0.8"/>
<text x="380.9" y="659" font-size="8.3" text-anchor="middle">5</text>
<line x1="398" y1="644.8" x2="398" y2="648.5" stroke="#444" stroke-width="0.8"/>
<text x="398" y="659" font-size="8.3" text-anchor="middle">6</text>
<line x1="415.1" y1="644.8" x2="415.1" y2="648.5" stroke="#444" stroke-width="0.8"/>
<text x="415.1" y="659" font-size="8.3" text-anchor="middle">7</text>
<line x1="432.2" y1="644.8" x2="432.2" y2="648.5" stroke="#444" stroke-width="0.8"/>
<text x="432.2" y="659" font-size="8.3" text-anchor="middle">8</text>
<line x1="449.3" y1="644.8" x2="449.3" y2="648.5" stroke="#444" stroke-width="0.8"/>
<text x="449.3" y="659" font-size="8.3" text-anchor="middle">9</text>
<line x1="466.4" y1="644.8" x2="466.4" y2="648.5" stroke="#444" stroke-width="0.8"/>
<text x="466.4" y="659" font-size="8.3" text-anchor="middle">10</text>
<line x1="483.5" y1="644.8" x2="483.5" y2="648.5" stroke="#444" stroke-width="0.8"/>
<text x="483.5" y="659" font-size="8.3" text-anchor="middle">11</text>
<line x1="500.6" y1="644.8" x2="500.6" y2="648.5" stroke="#444" stroke-width="0.8"/>
<text x="500.6" y="659" font-size="8.3" text-anchor="middle">12</text>
<text x="406" y="674.3" font-size="9" text-anchor="middle">Copy number</text>
<text transform="translate(274.6,543.7) rotate(-90)" font-size="9" text-anchor="middle">Ly6E nRPKM</text>
<text x="352.5" y="443" font-size="9" font-weight="bold" text-anchor="middle">Breast cancer</text>
<text x="514.8" y="443.3" font-size="9.1" text-anchor="end">ρ = 0.327, <tspan font-style="italic">P</tspan> = 9.96x10<tspan font-size="5.6" dy="-3.5">−22</tspan></text>
</svg>
</body></html>
